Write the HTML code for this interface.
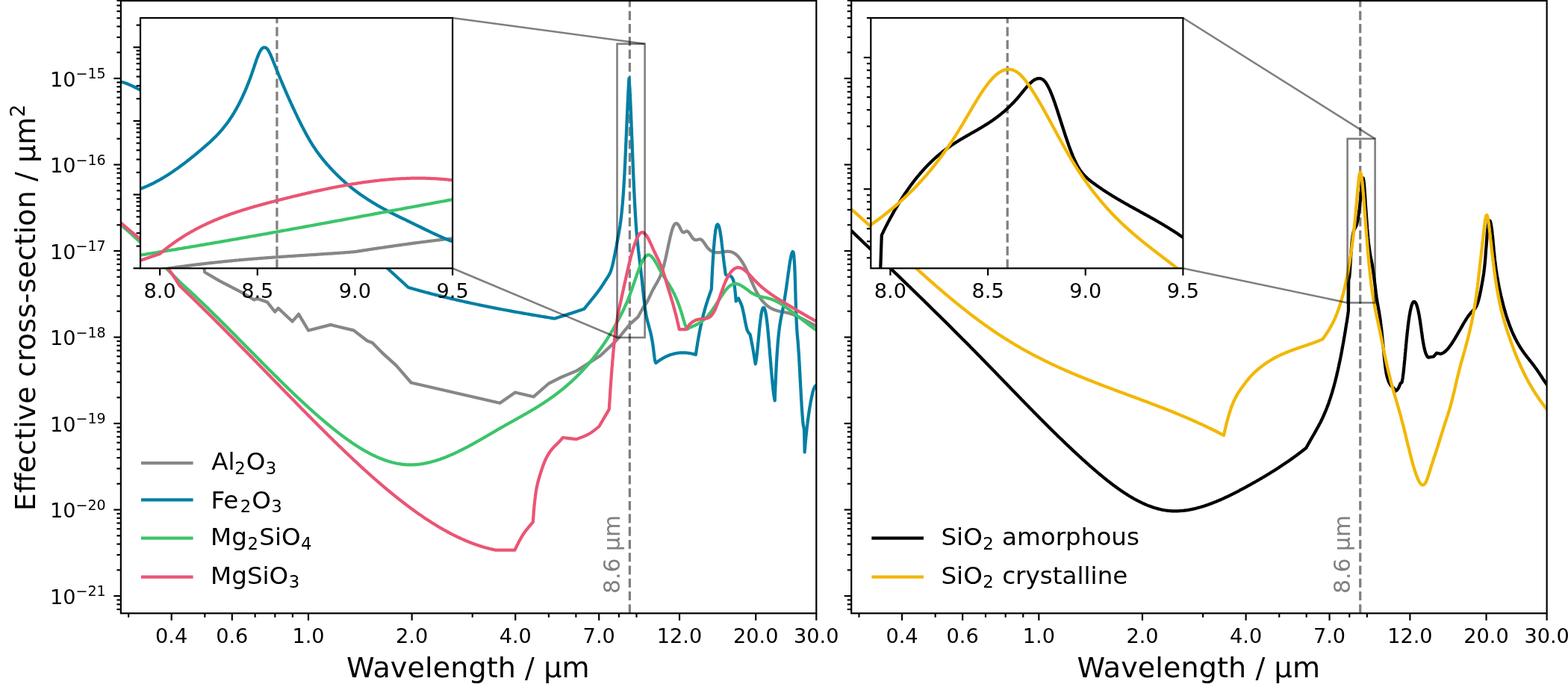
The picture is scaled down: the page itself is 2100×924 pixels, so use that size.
<!DOCTYPE html><html><head><meta charset="utf-8"><style>html,body{margin:0;padding:0;background:#fff;}svg text{font-kerning:normal}</style></head><body><svg width="2100" height="924" viewBox="0 0 2100 924" style="display:block">
<defs>
<clipPath id="cl"><rect x="161.85" y="1.0" width="931.4499999999999" height="820.3"/></clipPath>
<clipPath id="cr"><rect x="1140.2" y="1.0" width="931.45" height="820.3"/></clipPath>
<clipPath id="cli"><rect x="188.0" y="24.0" width="418.1" height="335.3"/></clipPath>
<clipPath id="cri"><rect x="1166.3" y="24.0" width="418.10000000000014" height="335.3"/></clipPath>
</defs>
<rect x="0" y="0" width="2100" height="924" fill="#fff"/>
<line x1="843.38" y1="821.3" x2="843.38" y2="1.0" stroke="#808080" stroke-width="3.26" stroke-dasharray="12.07 5.2" clip-path="url(#cl)"/>
<text transform="translate(830.10,795.0) rotate(-90)" font-family="'DejaVu Sans','Liberation Sans',sans-serif" font-size="29.89" fill="#808080">8.6 µm</text>
<g clip-path="url(#cl)">
<path d="M250.00,330.00 L273.20,358.00 L273.20,358.00 L274.20,364.50 L274.20,364.50 L293.50,375.80 L293.50,375.80 L323.40,391.40 L323.40,391.40 L340.30,401.50 L340.30,401.50 L344.20,399.80 L344.20,399.80 L357.80,404.40 L357.80,404.40 L368.20,417.50 L368.20,417.50 L372.70,412.80 L372.70,412.80 L391.60,430.50 L391.60,430.50 L400.00,420.60 L400.00,420.60 L413.00,442.50 L413.00,442.50 L442.90,434.90 L442.90,434.90 L450.10,436.70 L450.10,436.70 L473.60,442.40 L473.60,442.40 L492.00,456.50 L492.00,456.50 L498.70,459.00 L498.70,459.00 L512.10,472.60 L512.10,472.60 L530.60,489.40 L530.60,489.40 L550.70,512.50 L550.70,512.50 L669.50,539.80 L669.50,539.80 L690.00,525.50 L690.00,525.50 L714.50,531.30 L714.50,531.30 L735.00,513.50 L735.00,513.50 L752.00,505.00 L752.00,505.00 L772.20,496.60 L772.20,496.60 L804.10,476.30 L804.10,476.30 L823.10,458.40 L823.10,458.40 L829.30,451.50 L829.30,451.50 L843.90,433.80 L843.90,433.80 L854.30,424.70 L854.30,424.70 L862.10,410.40 L862.1,410.4 L862.9,409.6 L863.7,408.8 L864.4,407.9 L865.0,407.0 L865.6,406.0 L866.1,405.1 L866.7,404.1 L867.2,403.1 L867.7,402.1 L868.2,401.1 L868.7,400.1 L869.2,399.1 L869.7,398.0 L870.2,397.0 L870.6,396.0 L871.1,395.0 L871.6,393.9 L872.1,392.9 L872.5,391.9 L873.0,390.9 L873.5,389.9 L874.0,388.9 L874.5,387.9 L875.0,386.9 L875.6,386.0 L876.1,385.0 L876.6,384.1 L877.2,383.1 L877.7,382.2 L878.3,381.2 L878.8,380.3 L879.4,379.3 L879.9,378.4 L880.5,377.4 L881.0,376.4 L881.5,375.4 L882.0,374.4 L882.6,373.4 L883.0,372.4 L883.5,371.4 L884.0,370.3 L884.5,369.3 L884.9,368.2 L885.3,367.1 L885.8,366.0 L886.2,364.9 L886.6,363.8 L887.0,362.6 L887.3,361.5 L887.7,360.3 L888.1,359.2 L888.4,358.0 L888.7,356.8 L889.1,355.6 L889.4,354.4 L889.7,353.2 L890.0,352.0 L890.3,350.8 L890.6,349.6 L890.9,348.4 L891.2,347.1 L891.5,345.9 L891.7,344.7 L892.0,343.4 L892.3,342.2 L892.6,341.0 L892.8,339.7 L893.1,338.5 L893.3,337.2 L893.6,336.0 L893.9,334.8 L894.1,333.5 L894.4,332.3 L894.6,331.0 L894.9,329.8 L895.2,328.6 L895.4,327.3 L895.7,326.1 L896.0,324.9 L896.2,323.6 L896.5,322.4 L896.8,321.2 L897.0,320.0 L897.3,318.8 L897.6,317.5 L897.9,316.3 L898.2,315.1 L898.5,314.0 L898.8,312.8 L899.1,311.6 L899.4,310.4 L899.7,309.3 L900.0,308.2 L900.4,307.0 L900.8,305.9 L901.1,304.9 L901.6,303.8 L902.0,302.8 L902.5,301.9 L903.0,301.0 L903.6,300.2 L904.3,299.6 L905.2,299.2 L906.4,299.2 L907.5,299.9 L908.3,300.8 L909.0,301.7 L909.5,302.7 L910.1,303.7 L910.6,304.7 L911.1,305.7 L911.6,306.7 L912.1,307.7 L912.6,308.6 L913.2,309.5 L913.8,310.3 L914.5,311.0 L915.4,311.3 L916.8,310.8 L917.8,310.3 L918.7,309.8 L919.8,309.5 L921.2,310.1 L922.1,310.9 L922.8,311.7 L923.5,312.6 L924.1,313.5 L924.7,314.4 L925.3,315.4 L925.9,316.3 L926.5,317.2 L927.1,318.0 L927.7,318.9 L928.4,319.6 L929.1,320.3 L929.9,320.9 L930.9,321.2 L932.1,321.3 L933.6,321.1 L934.8,320.8 L936.0,320.5 L937.3,320.4 L938.7,320.7 L939.8,321.3 L940.6,322.1 L941.4,323.0 L942.1,323.8 L942.7,324.7 L943.3,325.6 L943.9,326.5 L944.5,327.4 L945.1,328.3 L945.7,329.2 L946.3,330.1 L947.0,330.9 L947.6,331.7 L948.3,332.5 L949.0,333.2 L949.8,334.0 L950.6,334.6 L951.4,335.3 L952.3,335.8 L953.2,336.4 L954.2,336.9 L955.2,337.3 L956.3,337.6 L957.5,337.9 L958.7,338.1 L960.1,338.2 L961.5,338.2 L963.0,338.1 L964.4,338.0 L965.7,337.8 L967.0,337.6 L968.3,337.4 L969.6,337.2 L970.9,337.0 L972.3,336.8 L973.6,336.7 L975.1,336.7 L976.5,336.8 L977.9,337.0 L979.2,337.3 L980.4,337.6 L981.5,338.1 L982.5,338.6 L983.5,339.2 L984.4,339.8 L985.3,340.4 L986.1,341.1 L986.9,341.8 L987.7,342.6 L988.5,343.4 L989.2,344.2 L989.9,345.0 L990.6,345.8 L991.2,346.7 L991.9,347.6 L992.5,348.4 L993.1,349.4 L993.7,350.3 L994.3,351.2 L994.9,352.1 L995.4,353.1 L996.0,354.1 L996.5,355.0 L997.1,356.0 L997.6,357.0 L998.1,358.0 L998.6,359.0 L999.1,360.0 L999.6,361.0 L1000.1,362.1 L1000.6,363.1 L1001.0,364.1 L1001.5,365.2 L1002.0,366.2 L1002.4,367.2 L1002.9,368.3 L1003.3,369.3 L1003.8,370.4 L1004.3,371.4 L1004.7,372.5 L1005.2,373.5 L1005.6,374.6 L1006.1,375.6 L1006.5,376.6 L1007.0,377.7 L1007.4,378.7 L1007.9,379.8 L1008.4,380.8 L1008.8,381.8 L1009.3,382.9 L1009.8,383.9 L1010.2,384.9 L1010.7,385.9 L1011.2,386.9 L1011.7,387.9 L1012.2,388.9 L1012.7,389.9 L1013.2,390.9 L1013.7,391.8 L1014.3,392.8 L1014.8,393.7 L1015.4,394.7 L1015.9,395.6 L1016.5,396.5 L1017.1,397.4 L1017.7,398.3 L1018.3,399.2 L1018.9,400.1 L1019.5,400.9 L1020.1,401.8 L1020.8,402.6 L1021.5,403.4 L1022.2,404.2 L1022.9,405.0 L1023.6,405.7 L1024.3,406.5 L1025.1,407.2 L1025.8,407.9 L1026.6,408.6 L1027.4,409.3 L1028.3,410.0 L1029.1,410.6 L1030.0,411.2 L1030.9,411.8 L1031.8,412.3 L1032.8,412.9 L1033.7,413.4 L1034.7,413.8 L1035.8,414.3 L1036.8,414.7 L1037.9,415.1 L1039.0,415.5 L1040.1,415.8 L1041.3,416.2 L1042.5,416.5 L1043.7,416.8 L1044.9,417.0 L1046.1,417.3 L1047.4,417.5 L1048.6,417.8 L1049.9,418.0 L1051.2,418.2 L1052.4,418.5 L1053.7,418.7 L1054.9,419.0 L1056.1,419.3 L1057.3,419.6 L1058.5,419.9 L1059.7,420.3 L1060.8,420.7 L1061.9,421.1 L1063.0,421.5 L1064.1,421.9 L1065.2,422.4 L1066.2,422.8 L1067.3,423.3 L1068.3,423.8 L1069.3,424.3 L1070.3,424.8 L1071.3,425.3 L1072.3,425.8 L1073.3,426.3 L1074.3,426.8 L1075.3,427.3 L1076.3,427.8 L1077.3,428.4 L1078.2,428.9 L1079.2,429.4 L1080.2,429.9 L1081.2,430.4 L1082.1,431.0 L1083.1,431.5 L1084.1,432.0 L1085.1,432.5 L1086.1,433.0 L1087.0,433.5 L1088.0,434.0 L1089.0,434.5 L1090.1,435.0 L1091.1,435.5 L1092.1,436.0 L1093.1,436.4 L1094.2,436.9 L1095.2,437.3 L1096.3,437.7 L1097.4,438.1 L1098.5,438.5 L1099.6,438.9 L1100.0,439.0" fill="none" stroke="#878787" stroke-width="4.25" stroke-linejoin="round" stroke-linecap="square"/>
<path d="M158.0,108.5 L159.2,108.8 L160.5,109.1 L161.7,109.4 L162.9,109.7 L164.0,110.0 L165.2,110.4 L166.3,110.7 L167.5,111.1 L168.6,111.5 L169.7,111.9 L170.8,112.3 L171.8,112.8 L172.9,113.2 L174.0,113.7 L175.0,114.1 L176.1,114.6 L177.1,115.1 L178.1,115.5 L179.1,116.0 L180.1,116.5 L181.1,117.0 L182.1,117.5 L183.1,118.1 L184.1,118.6 L185.1,119.1 L186.0,119.7 L187.0,120.2 L188.0,120.7 L188.9,121.3 L189.9,121.8 L190.8,122.4 L191.7,123.0 L192.7,123.5 L193.6,124.1 L194.5,124.7 L195.5,125.3 L196.4,125.9 L197.3,126.4 L198.2,127.0 L199.1,127.6 L200.0,128.2 L200.9,128.8 L201.8,129.4 L202.7,130.0 L203.6,130.6 L204.5,131.2 L205.4,131.8 L206.3,132.5 L207.2,133.1 L208.1,133.7 L209.0,134.3 L209.8,134.9 L210.7,135.5 L211.6,136.2 L212.5,136.8 L213.4,137.4 L214.2,138.0 L215.1,138.7 L216.0,139.3 L216.9,139.9 L217.7,140.5 L218.6,141.2 L219.5,141.8 L220.4,142.4 L221.2,143.0 L222.1,143.7 L223.0,144.3 L223.8,144.9 L224.7,145.6 L225.6,146.2 L226.5,146.8 L227.3,147.4 L228.2,148.1 L229.1,148.7 L229.9,149.3 L230.8,149.9 L231.7,150.6 L232.6,151.2 L233.5,151.8 L234.3,152.4 L235.2,153.1 L236.1,153.7 L237.0,154.3 L237.9,154.9 L238.7,155.5 L239.6,156.1 L240.5,156.8 L241.4,157.4 L242.3,158.0 L243.2,158.6 L244.0,159.2 L244.9,159.8 L245.8,160.4 L246.7,161.0 L247.6,161.6 L248.5,162.3 L249.4,162.9 L250.3,163.5 L251.2,164.1 L252.1,164.7 L253.0,165.3 L253.9,165.9 L254.8,166.5 L255.6,167.1 L256.5,167.7 L257.4,168.3 L258.3,168.9 L259.2,169.5 L260.1,170.1 L261.0,170.7 L261.9,171.3 L262.8,171.9 L263.7,172.5 L264.6,173.1 L265.6,173.7 L266.5,174.3 L267.4,174.9 L268.3,175.5 L269.2,176.1 L270.1,176.7 L271.0,177.3 L271.9,177.8 L272.8,178.4 L273.7,179.0 L274.6,179.6 L275.5,180.2 L276.4,180.8 L277.3,181.4 L278.3,182.0 L279.2,182.6 L280.1,183.2 L281.0,183.7 L281.9,184.3 L282.8,184.9 L283.7,185.5 L284.6,186.1 L285.6,186.7 L286.5,187.3 L287.4,187.8 L288.3,188.4 L289.2,189.0 L290.1,189.6 L291.1,190.2 L292.0,190.8 L292.9,191.3 L293.8,191.9 L294.7,192.5 L295.6,193.1 L296.6,193.7 L297.5,194.3 L298.4,194.8 L299.3,195.4 L300.2,196.0 L301.2,196.6 L302.1,197.2 L303.0,197.7 L303.9,198.3 L304.8,198.9 L305.8,199.5 L306.7,200.1 L307.6,200.6 L308.5,201.2 L309.4,201.8 L310.4,202.4 L311.3,202.9 L312.2,203.5 L313.1,204.1 L314.0,204.7 L315.0,205.3 L315.9,205.8 L316.8,206.4 L317.7,207.0 L318.7,207.6 L319.6,208.1 L320.5,208.7 L321.4,209.3 L322.3,209.9 L323.3,210.5 L324.2,211.0 L325.1,211.6 L326.0,212.2 L327.0,212.8 L327.9,213.3 L328.8,213.9 L329.7,214.5 L330.7,215.1 L331.6,215.7 L332.5,216.2 L333.4,216.8 L334.3,217.4 L335.3,218.0 L336.2,218.5 L337.1,219.1 L338.0,219.7 L338.9,220.3 L339.9,220.9 L340.8,221.4 L341.7,222.0 L342.6,222.6 L343.5,223.2 L344.5,223.8 L345.4,224.3 L346.3,224.9 L347.2,225.5 L348.1,226.1 L349.1,226.7 L350.0,227.2 L350.9,227.8 L351.8,228.4 L352.7,229.0 L353.7,229.6 L354.6,230.2 L355.5,230.7 L356.4,231.3 L357.3,231.9 L358.2,232.5 L359.1,233.1 L360.1,233.7 L361.0,234.3 L361.9,234.8 L362.8,235.4 L363.7,236.0 L364.6,236.6 L365.5,237.2 L366.5,237.8 L367.4,238.4 L368.3,239.0 L369.2,239.6 L370.1,240.1 L371.0,240.7 L371.9,241.3 L372.8,241.9 L373.7,242.5 L374.6,243.1 L375.5,243.7 L376.4,244.3 L377.4,244.9 L378.3,245.5 L379.2,246.1 L380.1,246.7 L381.0,247.3 L381.9,247.9 L382.8,248.5 L383.7,249.1 L384.6,249.7 L385.5,250.3 L386.4,250.9 L387.3,251.5 L388.2,252.1 L389.1,252.7 L390.0,253.3 L390.9,253.9 L391.8,254.5 L392.7,255.1 L393.6,255.7 L394.4,256.3 L395.3,256.9 L396.2,257.5 L397.1,258.1 L398.0,258.7 L398.9,259.3 L399.8,260.0 L400.7,260.6 L401.6,261.2 L402.5,261.8 L403.3,262.4 L404.2,263.0 L405.1,263.6 L406.0,264.3 L406.9,264.9 L407.8,265.5 L408.7,266.1 L409.5,266.7 L410.4,267.3 L411.3,268.0 L412.2,268.6 L413.0,269.2 L413.9,269.8 L414.8,270.5 L415.7,271.1 L416.6,271.7 L417.4,272.3 L418.3,273.0 L419.2,273.6 L420.0,274.2 L420.9,274.9 L421.8,275.5 L422.6,276.1 L423.5,276.8 L424.4,277.4 L425.2,278.0 L426.1,278.7 L427.0,279.3 L427.8,279.9 L428.7,280.6 L429.6,281.2 L430.4,281.9 L431.3,282.5 L432.1,283.1 L433.0,283.8 L433.9,284.4 L434.7,285.1 L435.6,285.7 L436.4,286.4 L437.3,287.0 L438.1,287.7 L439.0,288.3 L439.8,289.0 L440.7,289.6 L441.5,290.3 L442.4,290.9 L443.2,291.6 L444.0,292.2 L444.9,292.9 L445.7,293.6 L446.6,294.2 L447.4,294.9 L448.3,295.5 L449.1,296.2 L449.9,296.9 L450.8,297.5 L451.6,298.2 L452.4,298.9 L453.3,299.5 L454.1,300.2 L454.9,300.9 L455.8,301.5 L456.6,302.2 L457.4,302.9 L458.3,303.6 L459.1,304.2 L459.9,304.9 L460.7,305.6 L461.5,306.3 L462.4,306.9 L463.2,307.6 L464.0,308.3 L464.8,309.0 L465.6,309.7 L466.5,310.4 L467.3,311.0 L468.1,311.7 L468.9,312.4 L469.7,313.1 L470.5,313.8 L471.3,314.5 L472.1,315.2 L473.0,315.9 L473.8,316.6 L474.6,317.3 L475.4,318.0 L476.2,318.7 L477.0,319.4 L477.8,320.1 L478.6,320.8 L479.4,321.5 L480.2,322.2 L481.0,322.9 L481.8,323.6 L482.6,324.3 L483.4,325.0 L484.2,325.7 L484.9,326.4 L485.7,327.1 L486.5,327.8 L487.3,328.5 L488.1,329.2 L488.9,330.0 L489.7,330.7 L490.5,331.4 L491.2,332.1 L492.0,332.8 L492.8,333.6 L493.6,334.3 L494.4,335.0 L495.1,335.7 L495.9,336.4 L496.7,337.2 L497.5,337.9 L498.2,338.6 L499.0,339.4 L499.8,340.1 L500.5,340.8 L501.3,341.6 L502.1,342.3 L502.8,343.0 L503.6,343.8 L504.4,344.5 L505.1,345.2 L505.9,346.0 L506.7,346.7 L507.4,347.5 L508.2,348.2 L508.9,348.9 L509.7,349.7 L510.0,350.0 L510.00,350.00 L518.00,358.50 L518.00,358.50 L547.00,385.00 L547.0,385.0 L548.2,385.3 L549.3,385.7 L550.5,386.0 L551.7,386.3 L552.8,386.7 L554.0,387.0 L555.2,387.3 L556.3,387.6 L557.5,388.0 L558.7,388.3 L559.9,388.6 L561.0,388.9 L562.2,389.3 L563.4,389.6 L564.6,389.9 L565.8,390.2 L566.9,390.5 L568.1,390.9 L569.3,391.2 L570.5,391.5 L571.7,391.8 L572.9,392.1 L574.1,392.4 L575.2,392.7 L576.4,393.1 L577.6,393.4 L578.8,393.7 L580.0,394.0 L581.2,394.3 L582.4,394.6 L583.6,394.9 L584.8,395.2 L586.0,395.5 L587.2,395.8 L588.4,396.1 L589.6,396.4 L590.8,396.7 L592.0,397.0 L593.2,397.3 L594.4,397.6 L595.6,397.9 L596.8,398.2 L598.0,398.4 L599.2,398.7 L600.4,399.0 L601.7,399.3 L602.9,399.6 L604.1,399.9 L605.3,400.2 L606.5,400.5 L607.7,400.7 L608.9,401.0 L610.2,401.3 L611.4,401.6 L612.6,401.9 L613.8,402.1 L615.0,402.4 L616.3,402.7 L617.5,403.0 L618.7,403.3 L619.9,403.5 L621.2,403.8 L622.4,404.1 L623.6,404.3 L624.8,404.6 L626.1,404.9 L627.3,405.2 L628.5,405.4 L629.8,405.7 L631.0,406.0 L632.2,406.2 L633.5,406.5 L634.7,406.8 L635.9,407.0 L637.2,407.3 L638.4,407.5 L639.7,407.8 L640.9,408.1 L642.1,408.3 L643.4,408.6 L644.6,408.8 L645.9,409.1 L647.1,409.3 L648.4,409.6 L649.6,409.8 L650.8,410.1 L652.1,410.4 L653.3,410.6 L654.6,410.9 L655.8,411.1 L657.1,411.4 L658.3,411.6 L659.6,411.8 L660.9,412.1 L662.1,412.3 L663.4,412.6 L664.6,412.8 L665.9,413.1 L667.1,413.3 L668.4,413.6 L669.6,413.8 L670.9,414.0 L672.2,414.3 L673.4,414.5 L674.7,414.8 L675.9,415.0 L677.2,415.2 L678.5,415.5 L679.7,415.7 L681.0,415.9 L682.3,416.2 L683.5,416.4 L684.8,416.6 L686.1,416.9 L687.3,417.1 L688.6,417.3 L689.9,417.6 L691.1,417.8 L692.4,418.0 L693.7,418.2 L695.0,418.5 L696.2,418.7 L697.5,418.9 L698.8,419.2 L700.1,419.4 L701.3,419.6 L702.6,419.8 L703.9,420.0 L705.2,420.3 L706.4,420.5 L707.7,420.7 L709.0,420.9 L710.3,421.2 L711.6,421.4 L712.8,421.6 L714.1,421.8 L715.4,422.0 L716.7,422.2 L718.0,422.5 L719.2,422.7 L720.5,422.9 L721.8,423.1 L723.1,423.3 L724.4,423.5 L725.7,423.8 L727.0,424.0 L728.2,424.2 L729.5,424.4 L730.8,424.6 L732.1,424.8 L733.4,425.0 L734.7,425.2 L736.0,425.5 L737.3,425.7 L738.5,425.9 L739.8,426.1 L741.1,426.3 L742.4,426.5 L743.0,426.6 L743.00,426.60 L782.30,413.80 L782.3,413.8 L782.9,413.0 L783.6,412.1 L784.3,411.3 L784.9,410.4 L785.6,409.6 L786.3,408.8 L786.9,407.9 L787.6,407.1 L788.3,406.3 L788.9,405.5 L789.6,404.6 L790.3,403.8 L791.0,403.0 L791.6,402.2 L792.3,401.3 L793.0,400.5 L793.7,399.7 L794.3,398.9 L795.0,398.0 L795.7,397.2 L796.4,396.4 L797.0,395.5 L797.7,394.7 L798.3,393.8 L799.0,393.0 L799.6,392.1 L800.3,391.3 L800.9,390.4 L801.6,389.6 L802.2,388.7 L802.8,387.8 L803.5,386.9 L804.1,386.0 L804.7,385.2 L805.3,384.3 L805.9,383.4 L806.5,382.5 L807.1,381.5 L807.7,380.6 L808.3,379.7 L808.9,378.8 L809.5,377.9 L810.0,377.0 L810.6,376.0 L811.2,375.1 L811.8,374.2 L812.4,373.3 L813.0,372.4 L813.5,371.5 L814.1,370.6 L814.7,369.6 L815.3,368.7 L815.9,367.7 L816.4,366.7 L816.9,365.7 L817.4,364.6 L817.8,363.5 L818.2,362.4 L818.6,361.2 L819.0,360.0 L819.3,358.8 L819.7,357.6 L820.0,356.4 L820.3,355.2 L820.6,354.0 L820.9,352.7 L821.2,351.5 L821.4,350.3 L821.7,349.0 L822.0,347.8 L822.2,346.5 L822.5,345.3 L822.7,344.0 L823.0,342.8 L823.2,341.5 L823.5,340.2 L823.7,339.0 L824.0,337.7 L824.2,336.5 L824.5,335.2 L824.7,333.9 L824.9,332.7 L825.2,331.4 L825.4,330.2 L825.7,328.9 L825.9,327.7 L826.1,326.4 L826.4,325.1 L826.6,323.9 L826.9,322.6 L827.1,321.4 L827.3,320.1 L827.6,318.8 L827.8,317.6 L828.1,316.3 L828.3,315.0 L828.5,313.7 L828.7,312.5 L829.0,311.2 L829.2,309.9 L829.4,308.6 L829.6,307.3 L829.8,306.0 L830.1,304.7 L830.3,303.4 L830.5,302.0 L830.6,300.7 L830.8,299.4 L831.0,298.1 L831.2,296.7 L831.4,295.4 L831.5,294.0 L831.7,292.7 L831.9,291.3 L832.0,290.0 L832.2,288.6 L832.3,287.2 L832.5,285.9 L832.6,284.5 L832.8,283.1 L832.9,281.7 L833.1,280.4 L833.2,279.0 L833.3,277.6 L833.4,276.2 L833.6,274.8 L833.7,273.4 L833.8,272.0 L833.9,270.6 L834.0,269.2 L834.2,267.8 L834.3,266.4 L834.4,265.0 L834.5,263.6 L834.6,262.2 L834.7,260.8 L834.8,259.4 L834.9,258.0 L835.0,256.6 L835.1,255.1 L835.2,253.7 L835.3,252.3 L835.4,250.9 L835.5,249.5 L835.5,248.0 L835.6,246.6 L835.7,245.2 L835.8,243.8 L835.9,242.3 L836.0,240.9 L836.1,239.5 L836.1,238.0 L836.2,236.6 L836.3,235.1 L836.4,233.6 L836.5,232.1 L836.5,230.6 L836.6,229.1 L836.7,227.5 L836.8,225.9 L836.9,224.3 L836.9,222.6 L837.0,221.0 L837.1,219.3 L837.2,217.6 L837.3,215.9 L837.3,214.2 L837.4,212.5 L837.5,210.7 L837.6,208.9 L837.7,207.2 L837.7,205.4 L837.8,203.6 L837.9,201.8 L838.0,200.0 L838.1,198.1 L838.1,196.3 L838.2,194.4 L838.3,192.6 L838.4,190.7 L838.5,188.9 L838.5,187.0 L838.6,185.1 L838.7,183.3 L838.8,181.4 L838.9,179.5 L838.9,177.6 L839.0,175.8 L839.1,173.9 L839.2,172.0 L839.3,170.1 L839.3,168.3 L839.4,166.4 L839.5,164.5 L839.6,162.7 L839.7,160.8 L839.7,159.0 L839.8,157.1 L839.9,155.3 L840.0,153.5 L840.1,151.7 L840.1,149.9 L840.2,148.1 L840.3,146.3 L840.4,144.6 L840.5,142.8 L840.5,141.1 L840.6,139.4 L840.7,137.7 L840.8,136.0 L840.9,134.3 L840.9,132.6 L841.0,131.0 L841.1,129.4 L841.2,127.8 L841.3,126.2 L841.3,124.7 L841.4,123.2 L841.5,121.7 L841.6,120.2 L841.7,118.7 L841.7,117.3 L841.8,115.9 L841.9,114.5 L842.0,113.1 L842.1,111.7 L842.1,110.3 L842.2,108.9 L842.3,107.5 L842.4,106.1 L842.5,105.0 L842.5,105.0 L842.6,106.4 L842.7,107.9 L842.8,109.3 L842.9,110.7 L843.0,112.2 L843.1,113.6 L843.2,115.0 L843.3,116.5 L843.4,117.9 L843.5,119.4 L843.6,120.8 L843.6,122.3 L843.7,123.8 L843.8,125.4 L843.9,126.9 L844.0,128.6 L844.0,130.2 L844.1,131.9 L844.2,133.6 L844.3,135.3 L844.4,137.1 L844.4,138.8 L844.5,140.7 L844.6,142.5 L844.7,144.3 L844.8,146.2 L844.8,148.1 L844.9,150.0 L845.0,151.9 L845.1,153.9 L845.2,155.9 L845.2,157.8 L845.3,159.8 L845.4,161.8 L845.5,163.8 L845.6,165.9 L845.6,167.9 L845.7,170.0 L845.8,172.0 L845.9,174.1 L846.0,176.1 L846.0,178.2 L846.1,180.3 L846.2,182.3 L846.3,184.4 L846.4,186.5 L846.4,188.6 L846.5,190.6 L846.6,192.7 L846.7,194.8 L846.8,196.9 L846.8,198.9 L846.9,201.0 L847.0,203.0 L847.1,205.1 L847.2,207.1 L847.2,209.1 L847.3,211.1 L847.4,213.1 L847.5,215.1 L847.6,217.1 L847.6,219.1 L847.7,221.1 L847.8,223.0 L847.9,224.9 L848.0,226.9 L848.0,228.8 L848.1,230.7 L848.2,232.5 L848.3,234.4 L848.4,236.2 L848.4,238.1 L848.5,239.9 L848.6,241.7 L848.7,243.4 L848.8,245.2 L848.8,247.0 L848.9,248.7 L849.0,250.4 L849.1,252.1 L849.2,253.8 L849.2,255.5 L849.3,257.1 L849.4,258.8 L849.5,260.4 L849.6,262.0 L849.6,263.6 L849.7,265.2 L849.8,266.7 L849.9,268.3 L850.0,269.8 L850.0,271.3 L850.1,272.8 L850.2,274.3 L850.3,275.8 L850.4,277.3 L850.4,278.7 L850.5,280.1 L850.6,281.6 L850.7,283.0 L850.8,284.4 L850.8,285.8 L850.9,287.2 L851.0,288.6 L851.1,290.0 L851.2,291.4 L851.3,292.8 L851.4,294.2 L851.4,295.6 L851.5,297.0 L851.6,298.4 L851.7,299.8 L851.8,301.2 L851.9,302.6 L852.0,304.0 L852.1,305.3 L852.2,306.7 L852.3,308.1 L852.4,309.5 L852.6,310.8 L852.7,312.2 L852.8,313.6 L852.9,314.9 L853.0,316.3 L853.2,317.6 L853.3,319.0 L853.4,320.3 L853.6,321.7 L853.7,323.0 L853.8,324.4 L854.0,325.7 L854.1,327.1 L854.3,328.4 L854.4,329.8 L854.6,331.1 L854.7,332.5 L854.9,333.8 L855.0,335.2 L855.2,336.5 L855.3,337.8 L855.5,339.2 L855.6,340.5 L855.8,341.9 L856.0,343.2 L856.1,344.5 L856.3,345.9 L856.4,347.2 L856.6,348.5 L856.8,349.9 L856.9,351.2 L857.1,352.5 L857.2,353.9 L857.4,355.2 L857.6,356.6 L857.7,357.9 L857.9,359.2 L858.1,360.6 L858.2,361.9 L858.4,363.3 L858.5,364.6 L858.7,366.0 L858.8,367.3 L859.0,368.7 L859.2,370.0 L859.3,371.4 L859.5,372.7 L859.6,374.1 L859.8,375.4 L859.9,376.8 L860.1,378.2 L860.2,379.5 L860.3,380.9 L860.5,382.3 L860.6,383.6 L860.8,385.0 L860.9,386.3 L861.0,387.7 L861.2,389.1 L861.3,390.4 L861.5,391.8 L861.6,393.1 L861.7,394.5 L861.9,395.8 L862.0,397.2 L862.2,398.5 L862.3,399.9 L862.5,401.2 L862.6,402.6 L862.8,403.9 L862.9,405.2 L863.1,406.5 L863.3,407.8 L863.4,409.2 L863.6,410.5 L863.8,411.8 L864.0,413.1 L864.2,414.3 L864.3,415.6 L864.6,416.9 L864.8,418.2 L865.0,419.4 L865.2,420.7 L865.4,421.9 L865.7,423.1 L865.9,424.4 L866.2,425.6 L866.4,426.8 L866.7,428.0 L867.0,429.2 L867.3,430.4 L867.6,431.6 L867.9,432.7 L868.2,433.9 L868.5,435.1 L868.9,436.2 L869.2,437.4 L869.5,438.6 L869.8,439.8 L870.2,441.0 L870.5,442.2 L870.8,443.4 L871.1,444.6 L871.4,445.8 L871.7,447.0 L872.0,448.3 L872.2,449.5 L872.5,450.8 L872.7,452.1 L873.0,453.4 L873.2,454.7 L873.4,456.0 L873.7,457.3 L873.9,458.6 L874.1,459.9 L874.3,461.2 L874.5,462.6 L874.6,463.9 L874.8,465.3 L875.0,466.6 L875.2,467.9 L875.3,469.3 L875.5,470.6 L875.7,471.9 L875.8,473.3 L876.0,474.6 L876.2,475.9 L876.4,477.2 L876.5,478.5 L876.7,479.8 L876.9,481.0 L877.1,482.2 L877.4,483.4 L877.6,484.5 L878.0,485.5 L878.4,486.1 L878.6,486.0 L878.6,486.0 L879.4,485.3 L880.3,484.7 L881.1,484.1 L882.0,483.4 L882.9,482.8 L883.8,482.2 L884.7,481.6 L885.6,481.1 L886.5,480.5 L887.5,479.9 L888.4,479.4 L889.4,478.9 L890.3,478.4 L891.3,477.9 L892.3,477.4 L893.4,476.9 L894.4,476.5 L895.5,476.0 L896.5,475.6 L897.6,475.2 L898.7,474.8 L899.9,474.5 L901.0,474.2 L902.2,473.8 L903.4,473.6 L904.6,473.3 L905.8,473.0 L907.1,472.8 L908.4,472.7 L909.7,472.5 L911.1,472.4 L912.5,472.3 L914.0,472.3 L915.4,472.3 L916.9,472.3 L918.3,472.4 L919.7,472.5 L921.1,472.7 L922.5,472.8 L923.8,473.0 L925.0,473.3 L926.3,473.5 L927.5,473.8 L928.7,474.1 L929.9,474.4 L931.1,474.8 L931.8,475.0 L931.8,475.0 L932.0,473.7 L932.2,472.4 L932.4,471.1 L932.6,469.8 L932.8,468.5 L933.0,467.2 L933.2,465.9 L933.4,464.6 L933.6,463.3 L933.8,462.1 L934.0,460.8 L934.2,459.5 L934.4,458.2 L934.6,456.9 L934.9,455.7 L935.1,454.4 L935.3,453.1 L935.5,451.9 L935.8,450.6 L936.0,449.3 L936.2,448.1 L936.5,446.8 L936.7,445.6 L936.9,444.3 L937.2,443.1 L937.4,441.8 L937.7,440.6 L937.9,439.4 L938.2,438.1 L938.4,436.9 L938.7,435.7 L939.0,434.4 L939.2,433.2 L939.5,432.0 L939.8,430.8 L940.1,429.6 L940.3,428.4 L940.6,427.2 L940.9,425.9 L941.2,424.8 L941.5,423.6 L941.8,422.4 L942.1,421.2 L942.4,420.0 L942.7,418.8 L943.1,417.6 L943.4,416.5 L943.7,415.3 L944.0,414.1 L944.4,413.0 L944.7,411.8 L945.0,410.7 L945.4,409.5 L945.7,408.4 L946.1,407.2 L946.4,406.1 L946.8,405.0 L947.2,403.8 L947.5,402.7 L947.9,401.6 L948.3,400.5 L948.6,399.4 L949.0,398.2 L949.4,397.1 L949.8,396.0 L950.2,394.9 L950.6,393.8 L950.9,392.7 L951.3,391.6 L951.7,390.5 L952.1,389.4 L952.5,388.3 L952.8,387.5 L952.8,387.5 L952.9,385.8 L953.0,384.0 L953.0,382.3 L953.1,380.6 L953.2,379.0 L953.3,377.3 L953.4,375.7 L953.4,374.1 L953.5,372.5 L953.6,370.9 L953.7,369.3 L953.8,367.7 L953.8,366.2 L953.9,364.7 L954.0,363.2 L954.1,361.7 L954.2,360.2 L954.2,358.8 L954.3,357.4 L954.4,356.0 L954.5,354.5 L954.6,353.1 L954.6,351.7 L954.7,350.3 L954.8,348.9 L954.9,347.5 L955.0,346.1 L955.1,344.7 L955.2,343.3 L955.3,341.9 L955.4,340.5 L955.4,339.1 L955.5,337.7 L955.6,336.3 L955.7,335.0 L955.8,333.6 L955.9,332.2 L956.0,330.8 L956.2,329.4 L956.3,328.1 L956.4,326.7 L956.5,325.3 L956.6,324.0 L956.7,322.6 L956.9,321.3 L957.0,319.9 L957.1,318.6 L957.3,317.2 L957.4,315.9 L957.5,314.6 L957.7,313.3 L957.9,312.0 L958.0,310.7 L958.2,309.4 L958.4,308.2 L958.6,306.9 L958.9,305.7 L959.1,304.6 L959.4,303.4 L959.7,302.4 L960.1,301.4 L960.6,300.7 L961.3,300.4 L962.4,301.9 L962.9,303.1 L963.2,304.3 L963.6,305.6 L963.9,306.9 L964.1,308.2 L964.4,309.5 L964.6,310.8 L964.8,312.1 L965.0,313.4 L965.2,314.8 L965.4,316.1 L965.6,317.4 L965.8,318.8 L966.0,320.1 L966.1,321.4 L966.3,322.8 L966.5,324.1 L966.6,325.5 L966.8,326.8 L967.0,328.2 L967.1,329.5 L967.3,330.9 L967.4,332.2 L967.6,333.6 L967.7,334.9 L967.9,336.3 L968.0,337.6 L968.2,339.0 L968.4,340.3 L968.5,341.7 L968.7,343.0 L968.8,344.3 L969.0,345.7 L969.1,347.0 L969.3,348.4 L969.4,349.7 L969.6,351.0 L969.8,352.4 L969.9,353.7 L970.1,355.0 L970.3,356.3 L970.4,357.6 L970.6,359.0 L970.8,360.3 L971.0,361.6 L971.1,362.8 L971.3,364.1 L971.5,365.4 L971.8,366.7 L971.9,367.5 L971.9,367.5 L972.6,368.2 L973.4,368.7 L974.4,369.1 L975.7,369.2 L977.1,369.3 L978.4,369.7 L979.4,370.4 L980.2,371.3 L980.8,372.3 L981.4,373.3 L981.8,374.5 L982.2,375.7 L982.6,377.0 L982.9,378.3 L983.1,379.6 L983.4,380.9 L983.6,382.3 L983.8,383.6 L984.0,385.0 L984.2,386.4 L984.3,387.7 L984.5,389.1 L984.6,390.5 L984.8,391.9 L984.9,393.3 L985.0,394.7 L985.1,396.1 L985.3,397.5 L985.4,399.0 L985.5,400.4 L985.6,401.8 L985.7,403.2 L985.7,403.5 L985.70,403.50 L989.00,399.50 L989.00,399.50 C989.00,399.50 992.81,406.93 993.90,410.90 C996.71,421.13 997.78,431.98 1000.70,442.10 C1001.35,444.34 1004.60,448.00 1004.60,448.00 L1004.60,448.00 C1004.60,448.00 1006.98,459.31 1008.00,465.00 C1009.34,472.48 1011.70,487.50 1011.70,487.50 L1011.7,487.5 L1012.0,486.2 L1012.3,484.8 L1012.5,483.5 L1012.8,482.1 L1012.9,480.8 L1013.1,479.4 L1013.3,478.1 L1013.5,476.7 L1013.6,475.3 L1013.8,474.0 L1014.0,472.6 L1014.1,471.2 L1014.2,469.9 L1014.4,468.5 L1014.5,467.1 L1014.7,465.8 L1014.8,464.4 L1014.9,463.0 L1015.1,461.6 L1015.2,460.3 L1015.3,458.9 L1015.5,457.5 L1015.6,456.1 L1015.7,454.8 L1015.9,453.4 L1016.0,452.0 L1016.1,450.7 L1016.3,449.3 L1016.4,447.9 L1016.5,446.6 L1016.6,445.2 L1016.8,443.8 L1016.9,442.5 L1017.0,441.1 L1017.2,439.8 L1017.3,438.4 L1017.5,437.1 L1017.6,435.7 L1017.7,434.4 L1017.9,433.0 L1018.0,431.7 L1018.2,430.4 L1018.4,429.1 L1018.5,427.8 L1018.7,426.5 L1018.9,425.2 L1019.0,423.9 L1019.2,422.6 L1019.4,421.3 L1019.7,420.1 L1019.9,418.9 L1020.1,417.7 L1020.4,416.5 L1020.7,415.4 L1021.0,414.3 L1021.4,413.3 L1021.8,412.4 L1022.4,411.8 L1023.3,412.1 L1024.0,413.4 L1024.4,414.6 L1024.8,415.9 L1025.1,417.1 L1025.4,418.4 L1025.6,419.8 L1025.8,421.1 L1026.1,422.4 L1026.3,423.7 L1026.5,425.1 L1026.7,426.4 L1026.8,427.8 L1027.0,429.1 L1027.2,430.5 L1027.3,431.8 L1027.5,433.2 L1027.6,434.6 L1027.8,435.9 L1027.9,437.3 L1028.1,438.7 L1028.2,440.1 L1028.3,441.4 L1028.5,442.8 L1028.6,444.2 L1028.7,445.6 L1028.9,447.0 L1029.0,448.3 L1029.1,449.7 L1029.2,451.1 L1029.4,452.5 L1029.5,453.9 L1029.6,455.3 L1029.7,456.6 L1029.9,458.0 L1030.0,459.4 L1030.1,460.8 L1030.2,462.2 L1030.3,463.6 L1030.4,465.0 L1030.6,466.4 L1030.7,467.7 L1030.8,469.1 L1030.9,470.5 L1031.0,471.9 L1031.1,473.3 L1031.2,474.7 L1031.4,476.1 L1031.5,477.4 L1031.6,478.8 L1031.7,480.2 L1031.8,481.6 L1031.9,483.0 L1032.0,484.4 L1032.2,485.8 L1032.3,487.1 L1032.4,488.5 L1032.5,489.9 L1032.6,491.3 L1032.7,492.7 L1032.8,494.1 L1033.0,495.4 L1033.1,496.8 L1033.2,498.2 L1033.3,499.6 L1033.4,500.9 L1033.6,502.3 L1033.7,503.7 L1033.8,505.0 L1033.9,506.4 L1034.1,507.8 L1034.2,509.1 L1034.3,510.5 L1034.4,511.9 L1034.6,513.2 L1034.7,514.6 L1034.8,515.9 L1035.0,517.3 L1035.1,518.6 L1035.3,520.0 L1035.4,521.3 L1035.6,522.6 L1035.7,523.9 L1035.9,525.3 L1036.0,526.6 L1036.2,527.9 L1036.4,529.2 L1036.6,530.4 L1036.8,531.7 L1037.0,533.0 L1037.2,534.2 L1037.4,535.4 L1037.7,536.5 L1037.7,536.5 L1037.8,534.3 L1037.9,532.2 L1037.9,530.1 L1038.0,528.0 L1038.1,526.0 L1038.2,523.9 L1038.3,521.9 L1038.3,520.0 L1038.4,518.0 L1038.5,516.1 L1038.6,514.3 L1038.7,512.4 L1038.7,510.6 L1038.8,508.8 L1038.9,507.0 L1039.0,505.3 L1039.1,503.6 L1039.1,501.9 L1039.2,500.2 L1039.3,498.6 L1039.4,497.0 L1039.5,495.4 L1039.5,493.8 L1039.6,492.3 L1039.7,490.7 L1039.8,489.3 L1039.9,487.8 L1039.9,486.3 L1040.0,484.9 L1040.1,483.5 L1040.2,482.1 L1040.3,480.7 L1040.4,479.3 L1040.4,477.9 L1040.5,476.5 L1040.6,475.1 L1040.7,473.7 L1040.8,472.3 L1040.9,470.9 L1041.0,469.5 L1041.1,468.1 L1041.2,466.8 L1041.3,465.4 L1041.4,464.0 L1041.5,462.6 L1041.6,461.2 L1041.7,459.9 L1041.8,458.5 L1041.9,457.1 L1042.1,455.8 L1042.2,454.4 L1042.3,453.0 L1042.4,451.7 L1042.6,450.3 L1042.7,449.0 L1042.8,447.7 L1043.0,446.3 L1043.1,445.0 L1043.3,443.7 L1043.4,442.4 L1043.6,441.0 L1043.8,439.7 L1043.9,438.4 L1044.1,437.1 L1044.3,435.9 L1044.5,434.6 L1044.7,433.3 L1044.9,432.0 L1045.1,430.8 L1045.3,429.5 L1045.6,428.3 L1045.8,427.0 L1046.0,425.8 L1046.3,424.5 L1046.5,423.3 L1046.8,422.1 L1047.1,420.8 L1047.3,419.6 L1047.6,418.4 L1047.9,417.1 L1048.1,415.9 L1048.4,414.6 L1048.6,413.3 L1048.9,412.1 L1049.1,410.8 L1049.3,409.5 L1049.6,408.2 L1049.8,406.9 L1050.0,405.6 L1050.2,404.3 L1050.4,403.0 L1050.6,401.7 L1050.8,400.4 L1051.0,399.1 L1051.2,397.8 L1051.4,396.5 L1051.6,395.2 L1051.8,393.9 L1052.0,392.6 L1052.2,391.3 L1052.4,390.0 L1052.6,388.6 L1052.8,387.3 L1053.0,386.0 L1053.2,384.7 L1053.4,383.4 L1053.5,382.1 L1053.7,380.7 L1053.9,379.4 L1054.1,378.1 L1054.3,376.8 L1054.5,375.5 L1054.6,374.1 L1054.8,372.8 L1055.0,371.5 L1055.2,370.2 L1055.4,368.9 L1055.5,367.5 L1055.7,366.2 L1055.9,364.9 L1056.1,363.6 L1056.3,362.3 L1056.5,361.0 L1056.6,359.7 L1056.8,358.4 L1057.0,357.1 L1057.2,355.8 L1057.4,354.5 L1057.6,353.2 L1057.8,351.9 L1058.0,350.6 L1058.2,349.4 L1058.5,348.1 L1058.7,346.9 L1058.9,345.6 L1059.2,344.4 L1059.4,343.2 L1059.7,342.0 L1060.0,340.9 L1060.3,339.8 L1060.7,338.8 L1061.1,337.8 L1061.6,337.1 L1062.5,337.7 L1062.9,339.4 L1063.1,340.8 L1063.3,342.3 L1063.4,343.8 L1063.5,345.2 L1063.6,346.7 L1063.8,348.2 L1063.8,349.6 L1063.9,351.1 L1064.0,352.6 L1064.1,354.1 L1064.2,355.7 L1064.3,357.4 L1064.3,359.2 L1064.4,361.1 L1064.5,363.1 L1064.6,365.2 L1064.7,367.4 L1064.7,369.7 L1064.8,372.1 L1064.9,374.6 L1065.0,377.3 L1065.1,380.0 L1065.1,382.8 L1065.2,385.6 L1065.3,388.5 L1065.4,391.4 L1065.5,394.3 L1065.5,397.1 L1065.6,400.0 L1065.7,402.8 L1065.8,405.6 L1065.9,408.3 L1065.9,410.9 L1066.0,413.4 L1066.1,415.8 L1066.2,418.1 L1066.3,420.3 L1066.3,422.5 L1066.4,424.5 L1066.5,426.4 L1066.6,428.2 L1066.7,430.0 L1066.7,431.6 L1066.8,433.2 L1066.9,434.8 L1067.0,436.2 L1067.1,437.6 L1067.1,439.0 L1067.2,440.4 L1067.3,441.7 L1067.4,443.1 L1067.5,444.5 L1067.6,445.9 L1067.7,447.2 L1067.8,448.6 L1067.9,449.9 L1068.1,451.3 L1068.2,452.7 L1068.3,454.1 L1068.4,455.4 L1068.6,456.8 L1068.7,458.2 L1068.8,459.6 L1068.9,461.0 L1069.0,462.4 L1069.1,463.9 L1069.2,465.3 L1069.3,466.7 L1069.4,468.1 L1069.5,469.5 L1069.6,471.0 L1069.7,472.4 L1069.8,473.8 L1069.9,475.2 L1070.0,476.6 L1070.1,478.1 L1070.2,479.5 L1070.2,480.9 L1070.3,482.3 L1070.4,483.8 L1070.5,485.2 L1070.6,486.6 L1070.6,488.0 L1070.7,489.5 L1070.8,490.9 L1070.9,492.4 L1071.0,493.9 L1071.0,495.3 L1071.1,496.8 L1071.2,498.3 L1071.3,499.8 L1071.4,501.3 L1071.4,502.8 L1071.5,504.3 L1071.6,505.8 L1071.7,507.3 L1071.8,508.8 L1071.8,510.4 L1071.9,511.9 L1072.0,513.4 L1072.1,514.9 L1072.2,516.4 L1072.2,517.9 L1072.3,519.4 L1072.4,520.9 L1072.5,522.4 L1072.6,523.9 L1072.6,525.3 L1072.7,526.8 L1072.8,528.3 L1072.9,529.7 L1073.0,531.2 L1073.0,532.6 L1073.1,534.0 L1073.2,535.4 L1073.3,536.8 L1073.4,538.2 L1073.5,539.6 L1073.5,541.0 L1073.6,542.5 L1073.7,543.9 L1073.8,545.3 L1073.9,546.7 L1074.0,548.1 L1074.1,549.5 L1074.2,550.8 L1074.3,552.2 L1074.4,553.6 L1074.5,555.0 L1074.6,556.4 L1074.7,557.7 L1074.8,559.1 L1074.9,560.5 L1075.0,561.8 L1075.1,563.2 L1075.3,564.5 L1075.4,565.8 L1075.5,567.1 L1075.7,568.4 L1075.9,569.6 L1076.1,570.7 L1076.3,571.8 L1076.7,572.9 L1076.9,575.2 L1077.0,576.8 L1077.1,578.7 L1077.2,581.0 L1077.2,583.9 L1077.3,587.4 L1077.4,591.6 L1077.5,596.5 L1077.6,602.2 L1077.6,605.5 L1077.6,605.5 L1077.7,604.1 L1077.8,602.7 L1077.9,601.4 L1078.1,600.0 L1078.2,598.6 L1078.3,597.2 L1078.4,595.9 L1078.5,594.5 L1078.7,593.1 L1078.8,591.8 L1078.9,590.4 L1079.0,589.1 L1079.2,587.7 L1079.3,586.3 L1079.4,585.0 L1079.6,583.6 L1079.7,582.3 L1079.8,580.9 L1080.0,579.6 L1080.1,578.2 L1080.3,576.9 L1080.4,575.5 L1080.6,574.2 L1080.7,572.9 L1080.9,571.5 L1081.0,570.2 L1081.2,568.9 L1081.4,567.5 L1081.5,566.2 L1081.7,564.9 L1081.9,563.6 L1082.0,562.3 L1082.2,560.9 L1082.4,559.6 L1082.6,558.3 L1082.7,557.0 L1082.9,555.7 L1083.1,554.4 L1083.3,553.1 L1083.5,551.8 L1083.7,550.5 L1083.9,549.2 L1084.1,548.0 L1084.3,546.7 L1084.5,545.4 L1084.7,544.1 L1085.0,542.9 L1085.2,541.6 L1085.4,540.3 L1085.6,539.1 L1085.9,537.8 L1086.1,536.5 L1086.3,535.3 L1086.6,534.1 L1086.8,532.8 L1087.1,531.6 L1087.3,530.4 L1087.6,529.1 L1087.9,527.9 L1088.1,526.7 L1088.4,525.6 L1088.7,524.4 L1089.1,523.3 L1089.4,522.2 L1089.8,521.1 L1090.1,520.0 L1090.6,519.0 L1091.1,518.1 L1091.6,517.3 L1092.2,516.5 L1093.0,516.0 L1094.0,515.7 L1095.3,515.7 L1096.6,515.9 L1097.9,516.0 L1099.3,515.5 L1100.0,515.0" fill="none" stroke="#047fa3" stroke-width="4.25" stroke-linejoin="round" stroke-linecap="square"/>
<path d="M158.0,298.0 L158.8,298.7 L159.7,299.3 L160.5,300.0 L161.3,300.7 L162.1,301.4 L163.0,302.1 L163.8,302.7 L164.6,303.4 L165.4,304.1 L166.2,304.8 L167.0,305.5 L167.8,306.2 L168.6,306.9 L169.4,307.6 L170.2,308.3 L171.0,309.0 L171.8,309.7 L172.6,310.4 L173.4,311.1 L174.2,311.8 L175.0,312.5 L175.8,313.2 L176.6,313.9 L177.4,314.7 L178.2,315.4 L179.0,316.1 L179.7,316.8 L180.5,317.5 L181.3,318.3 L182.1,319.0 L182.9,319.7 L183.6,320.4 L184.4,321.2 L185.2,321.9 L185.9,322.6 L186.7,323.3 L187.5,324.1 L188.3,324.8 L189.0,325.5 L189.8,326.3 L190.6,327.0 L191.3,327.8 L192.1,328.5 L192.8,329.2 L193.6,330.0 L194.4,330.7 L195.1,331.5 L195.9,332.2 L196.6,332.9 L197.4,333.7 L198.1,334.4 L198.9,335.2 L199.7,335.9 L200.4,336.7 L201.2,337.4 L201.9,338.2 L202.7,338.9 L203.4,339.7 L204.2,340.4 L204.9,341.2 L205.7,341.9 L206.4,342.7 L207.2,343.4 L207.9,344.2 L208.7,344.9 L209.4,345.7 L210.2,346.4 L210.9,347.2 L211.6,347.9 L212.4,348.7 L213.1,349.4 L213.9,350.2 L214.6,351.0 L215.4,351.7 L216.1,352.5 L216.9,353.2 L217.6,354.0 L218.3,354.7 L219.1,355.5 L219.8,356.3 L220.6,357.0 L221.3,357.8 L222.1,358.5 L222.8,359.3 L223.5,360.0 L224.3,360.8 L225.0,361.6 L225.8,362.3 L226.5,363.1 L227.3,363.8 L228.0,364.6 L228.7,365.3 L229.5,366.1 L230.2,366.9 L231.0,367.6 L231.7,368.4 L232.5,369.1 L233.2,369.9 L233.9,370.6 L234.7,371.4 L235.4,372.2 L236.2,372.9 L236.9,373.7 L237.7,374.4 L238.4,375.2 L239.2,375.9 L239.9,376.7 L240.6,377.4 L241.4,378.2 L242.1,378.9 L242.9,379.7 L242.9,379.7 L242.9,379.7 L243.7,380.4 L244.5,381.1 L245.3,381.8 L246.1,382.5 L246.9,383.2 L247.6,384.0 L248.4,384.7 L249.2,385.4 L250.0,386.1 L250.8,386.8 L251.6,387.5 L252.4,388.2 L253.2,389.0 L253.9,389.7 L254.7,390.4 L255.5,391.1 L256.3,391.8 L257.1,392.6 L257.8,393.3 L258.6,394.0 L259.4,394.7 L260.2,395.4 L260.9,396.2 L261.7,396.9 L262.5,397.6 L263.3,398.4 L264.0,399.1 L264.8,399.8 L265.6,400.5 L266.4,401.3 L267.1,402.0 L267.9,402.7 L268.7,403.5 L269.4,404.2 L270.2,404.9 L271.0,405.7 L271.7,406.4 L272.5,407.1 L273.3,407.9 L274.0,408.6 L274.8,409.3 L275.6,410.1 L276.3,410.8 L277.1,411.5 L277.9,412.3 L278.6,413.0 L279.4,413.8 L280.1,414.5 L280.9,415.2 L281.7,416.0 L282.4,416.7 L283.2,417.5 L283.9,418.2 L284.7,418.9 L285.5,419.7 L286.2,420.4 L287.0,421.2 L287.7,421.9 L288.5,422.7 L289.2,423.4 L290.0,424.1 L290.8,424.9 L291.5,425.6 L292.3,426.4 L293.0,427.1 L293.8,427.9 L294.5,428.6 L295.3,429.4 L296.0,430.1 L296.8,430.9 L297.5,431.6 L298.3,432.4 L299.0,433.1 L299.8,433.9 L300.5,434.6 L301.3,435.4 L302.0,436.1 L302.8,436.9 L303.5,437.6 L304.3,438.4 L305.0,439.1 L305.8,439.9 L306.5,440.6 L307.3,441.4 L308.0,442.1 L308.8,442.9 L309.5,443.6 L310.3,444.4 L311.0,445.1 L311.8,445.9 L312.5,446.6 L313.3,447.4 L314.0,448.1 L314.8,448.9 L315.5,449.6 L316.3,450.4 L317.0,451.1 L317.7,451.9 L318.5,452.7 L319.2,453.4 L320.0,454.2 L320.7,454.9 L321.5,455.7 L322.2,456.4 L323.0,457.2 L323.7,457.9 L324.5,458.7 L325.2,459.4 L325.9,460.2 L326.7,461.0 L327.4,461.7 L328.2,462.5 L328.9,463.2 L329.7,464.0 L330.4,464.7 L331.2,465.5 L331.9,466.2 L332.7,467.0 L333.4,467.8 L334.1,468.5 L334.9,469.3 L335.6,470.0 L336.4,470.8 L337.1,471.5 L337.9,472.3 L338.6,473.0 L339.4,473.8 L340.1,474.5 L340.8,475.3 L341.6,476.1 L342.3,476.8 L343.1,477.6 L343.8,478.3 L344.6,479.1 L345.3,479.8 L346.1,480.6 L346.8,481.3 L347.6,482.1 L348.3,482.8 L349.1,483.6 L349.8,484.3 L350.5,485.1 L351.3,485.8 L352.0,486.6 L352.8,487.4 L353.5,488.1 L354.3,488.9 L355.0,489.6 L355.8,490.4 L356.5,491.1 L357.3,491.9 L358.0,492.6 L358.8,493.4 L359.5,494.1 L360.3,494.9 L361.0,495.6 L361.8,496.4 L362.5,497.1 L363.3,497.9 L364.0,498.6 L364.8,499.4 L365.5,500.1 L366.3,500.9 L367.0,501.6 L367.8,502.3 L368.5,503.1 L369.3,503.8 L370.1,504.6 L370.8,505.3 L371.6,506.1 L372.3,506.8 L373.1,507.6 L373.8,508.3 L374.6,509.1 L375.3,509.8 L376.1,510.5 L376.8,511.3 L377.6,512.0 L378.4,512.8 L379.1,513.5 L379.9,514.3 L380.6,515.0 L381.4,515.7 L382.2,516.5 L382.9,517.2 L383.7,518.0 L384.4,518.7 L385.2,519.4 L386.0,520.2 L386.7,520.9 L387.5,521.6 L388.3,522.4 L389.0,523.1 L389.8,523.8 L390.6,524.6 L391.3,525.3 L392.1,526.0 L392.9,526.8 L393.6,527.5 L394.4,528.2 L395.2,529.0 L395.9,529.7 L396.7,530.4 L397.5,531.2 L398.2,531.9 L399.0,532.6 L399.8,533.3 L400.6,534.1 L401.3,534.8 L402.1,535.5 L402.9,536.2 L403.7,537.0 L404.4,537.7 L405.2,538.4 L406.0,539.1 L406.8,539.8 L407.6,540.6 L408.3,541.3 L409.1,542.0 L409.9,542.7 L410.7,543.4 L411.5,544.1 L412.2,544.9 L413.0,545.6 L413.8,546.3 L414.6,547.0 L415.4,547.7 L416.2,548.4 L417.0,549.1 L417.8,549.8 L418.6,550.5 L419.3,551.3 L420.1,552.0 L420.9,552.7 L421.7,553.4 L422.5,554.1 L423.3,554.8 L424.1,555.5 L424.9,556.2 L425.7,556.9 L426.5,557.6 L427.3,558.3 L428.1,559.0 L428.9,559.7 L429.7,560.4 L430.5,561.0 L431.4,561.7 L432.2,562.4 L433.0,563.1 L433.8,563.8 L434.6,564.5 L435.4,565.2 L436.2,565.9 L437.0,566.5 L437.9,567.2 L438.7,567.9 L439.5,568.6 L440.3,569.3 L441.1,569.9 L442.0,570.6 L442.8,571.3 L443.6,572.0 L444.4,572.6 L445.3,573.3 L446.1,574.0 L446.9,574.6 L447.8,575.3 L448.6,576.0 L449.4,576.6 L450.3,577.3 L451.1,578.0 L451.9,578.6 L452.8,579.3 L453.6,579.9 L454.5,580.6 L455.3,581.2 L456.2,581.9 L457.0,582.5 L457.9,583.2 L458.7,583.8 L459.6,584.4 L460.5,585.1 L461.3,585.7 L462.2,586.4 L463.0,587.0 L463.9,587.6 L464.8,588.2 L465.7,588.9 L466.5,589.5 L467.4,590.1 L468.3,590.7 L469.2,591.3 L470.1,592.0 L471.0,592.6 L471.8,593.2 L472.7,593.8 L473.6,594.4 L474.5,595.0 L475.4,595.6 L476.3,596.2 L477.2,596.8 L478.2,597.3 L479.1,597.9 L480.0,598.5 L480.9,599.1 L481.8,599.6 L482.8,600.2 L483.7,600.8 L484.6,601.3 L485.6,601.9 L486.5,602.5 L487.5,603.0 L488.4,603.6 L489.4,604.1 L490.3,604.6 L491.3,605.2 L492.3,605.7 L493.2,606.2 L494.2,606.7 L495.2,607.3 L496.2,607.8 L497.2,608.3 L498.2,608.8 L499.2,609.3 L500.2,609.8 L501.2,610.2 L502.2,610.7 L503.2,611.2 L504.2,611.7 L505.3,612.1 L506.3,612.6 L507.4,613.0 L508.4,613.5 L509.5,613.9 L510.5,614.3 L511.6,614.8 L512.7,615.2 L513.8,615.6 L514.9,616.0 L516.0,616.4 L517.1,616.7 L518.2,617.1 L519.4,617.5 L520.5,617.8 L521.6,618.2 L522.8,618.5 L524.0,618.8 L525.1,619.2 L526.3,619.5 L527.5,619.7 L528.8,620.0 L530.0,620.3 L531.2,620.5 L532.5,620.8 L533.7,621.0 L535.0,621.2 L536.3,621.4 L537.6,621.6 L538.9,621.8 L540.3,621.9 L541.6,622.1 L543.0,622.2 L544.4,622.3 L545.8,622.3 L547.3,622.4 L548.7,622.4 L550.2,622.4 L551.7,622.4 L553.2,622.3 L554.6,622.3 L556.1,622.2 L557.5,622.1 L558.8,622.0 L560.2,621.8 L561.6,621.7 L562.9,621.5 L564.2,621.3 L565.5,621.1 L566.8,620.9 L568.1,620.7 L569.4,620.4 L570.6,620.2 L571.9,619.9 L573.1,619.6 L574.3,619.4 L575.6,619.1 L576.8,618.8 L578.0,618.5 L579.1,618.1 L580.3,617.8 L581.5,617.5 L582.7,617.1 L583.8,616.8 L585.0,616.4 L586.1,616.1 L587.2,615.7 L588.3,615.3 L589.5,614.9 L590.6,614.5 L591.7,614.1 L592.8,613.7 L593.9,613.3 L595.0,612.9 L596.1,612.5 L597.1,612.1 L598.2,611.6 L599.3,611.2 L600.3,610.7 L601.4,610.3 L602.4,609.9 L603.5,609.4 L604.5,608.9 L605.6,608.5 L606.6,608.0 L607.7,607.5 L608.7,607.1 L609.7,606.6 L610.7,606.1 L611.8,605.6 L612.8,605.2 L613.8,604.7 L614.8,604.2 L615.8,603.7 L616.8,603.2 L617.8,602.7 L618.8,602.2 L619.8,601.7 L620.8,601.2 L621.8,600.6 L622.8,600.1 L623.8,599.6 L624.7,599.1 L625.7,598.6 L626.7,598.1 L627.7,597.5 L628.7,597.0 L629.6,596.5 L630.6,596.0 L631.6,595.4 L632.6,594.9 L633.5,594.4 L634.5,593.8 L635.4,593.3 L636.4,592.8 L637.4,592.2 L638.3,591.7 L639.3,591.1 L640.3,590.6 L641.2,590.0 L642.2,589.5 L643.1,589.0 L644.1,588.4 L645.0,587.9 L646.0,587.3 L646.9,586.8 L647.9,586.2 L648.8,585.7 L649.8,585.1 L650.7,584.6 L651.7,584.0 L652.6,583.5 L653.6,582.9 L654.5,582.4 L655.5,581.8 L656.4,581.3 L657.4,580.7 L658.3,580.2 L659.3,579.6 L660.2,579.1 L661.2,578.5 L662.1,577.9 L663.1,577.4 L664.0,576.8 L665.0,576.3 L665.9,575.7 L666.9,575.2 L667.8,574.6 L668.8,574.1 L669.7,573.5 L670.7,573.0 L671.6,572.4 L672.6,571.9 L673.5,571.4 L674.5,570.8 L675.4,570.3 L676.4,569.7 L677.3,569.2 L678.3,568.6 L679.3,568.1 L680.2,567.6 L681.2,567.0 L682.1,566.5 L683.1,565.9 L684.1,565.4 L685.0,564.9 L686.0,564.3 L687.0,563.8 L687.9,563.3 L688.9,562.7 L689.8,562.2 L690.8,561.6 L691.8,561.1 L692.7,560.6 L693.7,560.0 L694.6,559.5 L695.6,558.9 L696.6,558.4 L697.5,557.9 L698.5,557.3 L699.4,556.8 L700.4,556.2 L701.4,555.7 L702.3,555.2 L703.3,554.6 L704.2,554.1 L705.2,553.5 L706.1,553.0 L707.1,552.4 L708.0,551.9 L709.0,551.3 L709.9,550.8 L710.9,550.2 L711.8,549.6 L712.8,549.1 L713.7,548.5 L714.6,548.0 L715.6,547.4 L716.5,546.8 L717.5,546.3 L718.4,545.7 L719.3,545.1 L720.2,544.6 L721.2,544.0 L722.1,543.4 L723.0,542.8 L723.9,542.2 L724.9,541.7 L725.8,541.1 L726.7,540.5 L727.6,539.9 L728.5,539.3 L729.4,538.7 L730.3,538.1 L731.2,537.5 L732.1,536.9 L733.0,536.3 L733.9,535.7 L734.8,535.1 L735.7,534.5 L736.6,533.8 L737.4,533.2 L738.3,532.6 L739.2,532.0 L740.1,531.4 L741.0,530.7 L741.8,530.1 L742.7,529.5 L743.6,528.8 L744.4,528.2 L745.3,527.5 L746.1,526.9 L747.0,526.2 L747.8,525.6 L748.7,524.9 L749.5,524.3 L750.4,523.6 L751.2,522.9 L752.0,522.3 L752.9,521.6 L753.7,520.9 L754.5,520.3 L755.4,519.6 L756.2,518.9 L757.0,518.2 L757.8,517.5 L758.6,516.8 L759.4,516.1 L760.2,515.4 L761.0,514.7 L761.8,514.0 L762.6,513.3 L763.4,512.6 L764.2,511.9 L765.0,511.2 L765.8,510.5 L766.6,509.7 L767.3,509.0 L768.1,508.3 L768.9,507.6 L769.7,506.8 L770.4,506.1 L771.2,505.4 L772.0,504.6 L772.7,503.9 L773.5,503.1 L774.2,502.4 L775.0,501.6 L775.7,500.9 L776.5,500.1 L777.2,499.3 L777.9,498.6 L778.7,497.8 L779.4,497.0 L780.1,496.3 L780.9,495.5 L781.6,494.7 L782.3,493.9 L783.0,493.1 L783.7,492.3 L784.4,491.6 L785.2,490.8 L785.9,490.0 L786.6,489.2 L787.3,488.4 L788.0,487.6 L788.7,486.8 L789.4,485.9 L790.0,485.1 L790.7,484.3 L791.4,483.5 L792.1,482.7 L792.8,481.9 L793.5,481.0 L794.1,480.2 L794.8,479.4 L795.5,478.5 L796.1,477.7 L796.8,476.9 L797.5,476.0 L798.1,475.2 L798.8,474.3 L799.4,473.5 L800.1,472.6 L800.7,471.8 L801.4,470.9 L802.0,470.0 L802.7,469.2 L803.3,468.3 L803.9,467.4 L804.6,466.6 L805.2,465.7 L805.8,464.8 L806.4,463.9 L807.0,463.1 L807.7,462.2 L808.3,461.3 L808.9,460.4 L809.5,459.5 L810.1,458.6 L810.7,457.7 L811.3,456.8 L811.9,455.9 L812.5,455.0 L813.1,454.1 L813.7,453.1 L814.3,452.2 L814.8,451.3 L815.4,450.4 L816.0,449.5 L816.6,448.5 L817.2,447.6 L817.7,446.7 L818.3,445.7 L818.9,444.8 L819.4,443.9 L820.0,442.9 L820.5,442.0 L821.1,441.0 L821.6,440.1 L822.2,439.1 L822.7,438.2 L823.3,437.2 L823.8,436.2 L824.4,435.3 L824.9,434.3 L825.4,433.3 L826.0,432.4 L826.5,431.4 L827.0,430.4 L827.6,429.4 L828.1,428.5 L828.6,427.5 L829.1,426.5 L829.6,425.5 L830.1,424.5 L830.7,423.5 L831.2,422.5 L831.7,421.5 L832.2,420.5 L832.7,419.5 L833.2,418.5 L833.7,417.5 L834.2,416.5 L834.7,415.5 L835.2,414.5 L835.6,413.5 L836.1,412.4 L836.6,411.4 L837.1,410.4 L837.6,409.4 L838.0,408.3 L838.5,407.3 L839.0,406.2 L839.4,405.2 L839.9,404.1 L840.3,403.1 L840.7,402.0 L841.2,400.9 L841.6,399.9 L842.0,398.8 L842.5,397.7 L842.9,396.6 L843.3,395.5 L843.7,394.4 L844.1,393.3 L844.5,392.2 L844.9,391.1 L845.3,390.0 L845.7,388.9 L846.1,387.8 L846.5,386.6 L846.9,385.5 L847.3,384.4 L847.6,383.3 L848.0,382.2 L848.4,381.1 L848.8,379.9 L849.2,378.8 L849.6,377.7 L849.9,376.6 L850.3,375.5 L850.7,374.4 L851.1,373.2 L851.5,372.1 L851.9,371.0 L852.3,369.9 L852.6,368.8 L853.0,367.7 L853.4,366.6 L853.8,365.5 L854.2,364.4 L854.6,363.3 L855.0,362.2 L855.4,361.2 L855.9,360.1 L856.3,359.0 L856.7,357.9 L857.1,356.9 L857.6,355.8 L858.0,354.8 L858.5,353.8 L858.9,352.8 L859.4,351.7 L859.9,350.7 L860.4,349.8 L860.9,348.8 L861.4,347.9 L862.0,346.9 L862.6,346.0 L863.2,345.2 L863.8,344.4 L864.5,343.6 L865.2,342.9 L866.0,342.2 L866.9,341.7 L867.9,341.4 L869.2,341.4 L870.4,341.9 L871.4,342.5 L872.3,343.2 L873.1,344.0 L873.8,344.8 L874.5,345.6 L875.2,346.5 L875.8,347.4 L876.4,348.3 L877.0,349.3 L877.6,350.2 L878.1,351.1 L878.7,352.1 L879.2,353.1 L879.8,354.0 L880.3,355.0 L880.8,356.0 L881.4,357.0 L881.9,357.9 L882.4,358.9 L882.9,359.9 L883.5,360.8 L884.0,361.8 L884.5,362.8 L885.1,363.7 L885.6,364.6 L886.2,365.6 L886.7,366.5 L887.3,367.4 L887.9,368.4 L888.4,369.3 L889.0,370.2 L889.6,371.1 L890.2,372.0 L890.8,372.9 L891.4,373.8 L892.0,374.8 L892.6,375.7 L893.1,376.6 L893.7,377.5 L894.3,378.4 L894.9,379.3 L895.5,380.2 L896.1,381.2 L896.6,382.1 L897.2,383.0 L897.8,384.0 L898.3,384.9 L898.9,385.9 L899.4,386.9 L900.0,387.8 L900.5,388.8 L901.0,389.8 L901.5,390.8 L902.1,391.8 L902.6,392.8 L903.1,393.8 L903.6,394.8 L904.0,395.8 L904.5,396.9 L905.0,397.9 L905.5,399.0 L905.9,400.0 L906.4,401.1 L906.8,402.1 L907.2,403.2 L907.7,404.3 L908.1,405.4 L908.5,406.5 L908.9,407.6 L909.3,408.7 L909.7,409.8 L910.1,410.9 L910.5,412.0 L910.9,413.2 L911.3,414.3 L911.6,415.4 L912.0,416.6 L912.4,417.7 L912.7,418.9 L913.1,420.0 L913.4,421.2 L913.8,422.4 L914.1,423.5 L914.4,424.7 L914.8,425.9 L915.1,427.0 L915.4,428.2 L915.8,429.4 L916.1,430.5 L916.5,431.6 L916.8,432.8 L917.2,433.9 L917.6,435.0 L918.0,436.0 L918.4,437.1 L918.8,438.0 L919.3,438.9 L919.9,439.8 L920.6,440.3 L921.6,440.4 L922.6,439.3 L922.7,439.0 L922.7,439.0 L923.8,438.6 L924.9,438.2 L926.0,437.8 L927.0,437.3 L928.1,436.9 L929.2,436.4 L930.2,436.0 L931.2,435.5 L932.2,435.0 L933.2,434.5 L934.2,433.9 L935.2,433.4 L936.1,432.8 L937.1,432.2 L938.0,431.6 L938.9,431.0 L939.8,430.4 L940.6,429.7 L941.5,429.1 L942.3,428.4 L943.1,427.7 L943.9,427.0 L944.7,426.2 L945.5,425.5 L946.2,424.7 L947.0,423.9 L947.7,423.2 L948.4,422.4 L949.1,421.5 L949.8,420.7 L950.4,419.9 L951.1,419.0 L951.8,418.2 L952.4,417.3 L953.0,416.4 L953.7,415.6 L954.3,414.7 L954.9,413.8 L955.5,412.9 L956.1,412.0 L956.8,411.1 L957.4,410.2 L958.0,409.3 L958.6,408.4 L959.1,407.5 L959.7,406.6 L960.3,405.7 L960.9,404.8 L961.5,403.8 L962.1,402.9 L962.7,402.0 L963.3,401.1 L963.9,400.2 L964.5,399.3 L965.1,398.4 L965.6,397.5 L966.2,396.6 L966.8,395.7 L967.4,394.8 L968.1,393.9 L968.7,393.0 L969.3,392.2 L969.9,391.3 L970.5,390.4 L971.2,389.6 L971.8,388.7 L972.5,387.9 L973.2,387.1 L973.8,386.3 L974.6,385.5 L975.3,384.8 L976.0,384.1 L976.8,383.4 L977.6,382.8 L978.5,382.1 L979.4,381.6 L980.4,381.1 L981.4,380.7 L982.5,380.3 L983.6,380.1 L985.0,380.0 L986.5,380.1 L987.8,380.4 L989.0,380.7 L990.1,381.1 L991.1,381.6 L992.2,382.1 L993.1,382.7 L994.1,383.3 L995.0,383.8 L995.9,384.5 L996.8,385.1 L997.7,385.7 L998.6,386.3 L999.4,387.0 L1000.3,387.6 L1001.2,388.2 L1002.0,388.9 L1002.9,389.5 L1003.7,390.1 L1004.6,390.8 L1005.5,391.4 L1006.4,392.0 L1007.3,392.5 L1008.2,393.1 L1009.2,393.6 L1010.1,394.1 L1011.1,394.6 L1012.2,395.1 L1013.2,395.5 L1014.3,395.9 L1015.5,396.2 L1016.6,396.6 L1017.8,396.9 L1019.0,397.2 L1020.2,397.5 L1021.4,397.7 L1022.6,398.0 L1023.9,398.3 L1025.1,398.5 L1026.3,398.8 L1027.5,399.1 L1028.7,399.4 L1029.9,399.8 L1031.1,400.1 L1032.2,400.5 L1033.4,400.8 L1034.5,401.2 L1035.6,401.7 L1036.6,402.1 L1037.7,402.5 L1038.7,403.0 L1039.8,403.5 L1040.8,404.0 L1041.8,404.5 L1042.7,405.1 L1043.7,405.6 L1044.6,406.2 L1045.6,406.8 L1046.5,407.4 L1047.4,408.0 L1048.3,408.6 L1049.2,409.2 L1050.1,409.8 L1051.0,410.4 L1051.9,411.0 L1052.7,411.6 L1053.6,412.3 L1054.5,412.9 L1055.3,413.6 L1056.2,414.2 L1057.1,414.8 L1057.9,415.5 L1058.8,416.1 L1059.6,416.8 L1060.5,417.4 L1061.3,418.1 L1062.2,418.7 L1063.0,419.4 L1063.9,420.0 L1064.7,420.7 L1065.6,421.3 L1066.5,422.0 L1067.3,422.6 L1068.2,423.3 L1069.0,423.9 L1069.9,424.6 L1070.7,425.2 L1071.6,425.8 L1072.4,426.5 L1073.3,427.1 L1074.1,427.8 L1075.0,428.4 L1075.8,429.1 L1076.7,429.7 L1077.5,430.4 L1078.4,431.0 L1079.2,431.7 L1080.1,432.3 L1080.9,433.0 L1081.8,433.6 L1082.6,434.3 L1083.5,434.9 L1084.3,435.6 L1085.2,436.2 L1086.0,436.8 L1086.9,437.5 L1087.8,438.1 L1088.6,438.8 L1089.5,439.4 L1090.3,440.0 L1091.2,440.7 L1092.1,441.3 L1092.9,441.9 L1093.8,442.6 L1094.7,443.2 L1095.6,443.8 L1096.4,444.5 L1097.3,445.1 L1098.2,445.7 L1099.0,446.3 L1099.9,446.9 L1100.0,447.0" fill="none" stroke="#3cc46a" stroke-width="4.25" stroke-linejoin="round" stroke-linecap="square"/>
<path d="M158.0,295.0 L158.8,295.7 L159.6,296.4 L160.4,297.1 L161.2,297.8 L162.0,298.5 L162.8,299.2 L163.6,299.9 L164.4,300.6 L165.2,301.3 L166.0,302.0 L166.8,302.7 L167.6,303.4 L168.4,304.1 L169.2,304.8 L170.0,305.4 L170.8,306.1 L171.7,306.8 L172.5,307.5 L173.3,308.2 L174.1,308.9 L174.9,309.5 L175.7,310.2 L176.6,310.9 L177.4,311.6 L178.2,312.3 L179.0,313.0 L179.8,313.6 L180.6,314.3 L181.5,315.0 L182.3,315.7 L183.1,316.4 L183.9,317.1 L184.7,317.8 L185.5,318.5 L186.3,319.1 L187.1,319.8 L188.0,320.5 L188.8,321.2 L189.6,321.9 L190.4,322.6 L191.2,323.3 L192.0,324.0 L192.8,324.7 L193.5,325.5 L194.3,326.2 L195.1,326.9 L195.9,327.6 L196.7,328.3 L197.5,329.0 L198.3,329.8 L199.0,330.5 L199.8,331.2 L200.6,331.9 L201.3,332.7 L202.1,333.4 L202.9,334.2 L203.6,334.9 L204.4,335.7 L205.1,336.4 L205.9,337.2 L206.6,337.9 L207.4,338.7 L208.1,339.5 L208.8,340.2 L209.6,341.0 L210.3,341.8 L211.0,342.6 L211.7,343.3 L212.4,344.1 L213.2,344.9 L213.9,345.7 L214.6,346.5 L215.3,347.3 L216.0,348.1 L216.7,348.9 L217.3,349.8 L218.0,350.6 L218.7,351.4 L219.4,352.2 L220.1,353.1 L220.7,353.9 L221.4,354.7 L222.1,355.6 L222.7,356.4 L223.4,357.2 L224.0,358.1 L224.7,359.0 L225.3,359.8 L226.0,360.7 L226.6,361.5 L227.3,362.4 L227.9,363.3 L228.5,364.2 L229.1,365.0 L229.8,365.9 L230.4,366.8 L231.0,367.7 L231.6,368.6 L232.2,369.5 L232.8,370.4 L233.4,371.3 L234.0,372.2 L234.6,373.1 L235.2,374.0 L235.8,374.9 L236.4,375.9 L236.9,376.8 L237.5,377.7 L238.1,378.6 L238.7,379.6 L239.2,380.5 L239.8,381.5 L240.3,382.3 L240.3,382.3 L241.1,383.0 L241.8,383.8 L242.6,384.5 L243.4,385.2 L244.1,386.0 L244.9,386.7 L245.7,387.4 L246.4,388.2 L247.2,388.9 L248.0,389.6 L248.7,390.4 L249.5,391.1 L250.3,391.8 L251.0,392.6 L251.8,393.3 L252.6,394.0 L253.3,394.8 L254.1,395.5 L254.9,396.2 L255.6,397.0 L256.4,397.7 L257.1,398.5 L257.9,399.2 L258.7,399.9 L259.4,400.7 L260.2,401.4 L261.0,402.2 L261.7,402.9 L262.5,403.6 L263.2,404.4 L264.0,405.1 L264.8,405.9 L265.5,406.6 L266.3,407.3 L267.0,408.1 L267.8,408.8 L268.5,409.6 L269.3,410.3 L270.1,411.1 L270.8,411.8 L271.6,412.5 L272.3,413.3 L273.1,414.0 L273.8,414.8 L274.6,415.5 L275.3,416.3 L276.1,417.0 L276.9,417.8 L277.6,418.5 L278.4,419.3 L279.1,420.0 L279.9,420.7 L280.6,421.5 L281.4,422.2 L282.1,423.0 L282.9,423.7 L283.6,424.5 L284.4,425.2 L285.1,426.0 L285.9,426.7 L286.6,427.5 L287.4,428.2 L288.1,429.0 L288.9,429.7 L289.6,430.5 L290.4,431.2 L291.1,432.0 L291.9,432.7 L292.6,433.5 L293.4,434.2 L294.1,435.0 L294.9,435.7 L295.6,436.5 L296.4,437.2 L297.1,438.0 L297.9,438.7 L298.6,439.5 L299.4,440.2 L300.1,441.0 L300.9,441.7 L301.6,442.5 L302.4,443.3 L303.1,444.0 L303.9,444.8 L304.6,445.5 L305.4,446.3 L306.1,447.0 L306.8,447.8 L307.6,448.5 L308.3,449.3 L309.1,450.0 L309.8,450.8 L310.6,451.6 L311.3,452.3 L312.1,453.1 L312.8,453.8 L313.6,454.6 L314.3,455.3 L315.0,456.1 L315.8,456.8 L316.5,457.6 L317.3,458.4 L318.0,459.1 L318.8,459.9 L319.5,460.6 L320.2,461.4 L321.0,462.1 L321.7,462.9 L322.5,463.7 L323.2,464.4 L324.0,465.2 L324.7,465.9 L325.4,466.7 L326.2,467.4 L326.9,468.2 L327.7,469.0 L328.4,469.7 L329.2,470.5 L329.9,471.2 L330.6,472.0 L331.4,472.7 L332.1,473.5 L332.9,474.3 L333.6,475.0 L334.4,475.8 L335.1,476.5 L335.8,477.3 L336.6,478.1 L337.3,478.8 L338.1,479.6 L338.8,480.3 L339.5,481.1 L340.3,481.9 L341.0,482.6 L341.8,483.4 L342.5,484.1 L343.2,484.9 L344.0,485.6 L344.7,486.4 L345.5,487.2 L346.2,487.9 L346.9,488.7 L347.7,489.4 L348.4,490.2 L349.2,491.0 L349.9,491.7 L350.6,492.5 L351.4,493.2 L352.1,494.0 L352.9,494.8 L353.6,495.5 L354.3,496.3 L355.1,497.0 L355.8,497.8 L356.6,498.6 L357.3,499.3 L358.0,500.1 L358.8,500.8 L359.5,501.6 L360.3,502.4 L361.0,503.1 L361.7,503.9 L362.5,504.6 L363.2,505.4 L364.0,506.2 L364.7,506.9 L365.4,507.7 L366.2,508.5 L366.9,509.2 L367.7,510.0 L368.4,510.7 L369.1,511.5 L369.9,512.3 L370.6,513.0 L371.4,513.8 L372.1,514.5 L372.8,515.3 L373.6,516.1 L374.3,516.8 L375.1,517.6 L375.8,518.3 L376.5,519.1 L377.3,519.9 L378.0,520.6 L378.8,521.4 L379.5,522.1 L380.2,522.9 L381.0,523.6 L381.7,524.4 L382.5,525.2 L383.2,525.9 L383.9,526.7 L384.7,527.4 L385.4,528.2 L386.2,529.0 L386.9,529.7 L387.6,530.5 L388.4,531.2 L389.1,532.0 L389.9,532.8 L390.6,533.5 L391.4,534.3 L392.1,535.0 L392.8,535.8 L393.6,536.6 L394.3,537.3 L395.1,538.1 L395.8,538.8 L396.5,539.6 L397.3,540.3 L398.0,541.1 L398.8,541.9 L399.5,542.6 L400.3,543.4 L401.0,544.1 L401.7,544.9 L402.5,545.6 L403.2,546.4 L404.0,547.2 L404.7,547.9 L405.5,548.7 L406.2,549.4 L406.9,550.2 L407.7,550.9 L408.4,551.7 L409.2,552.4 L409.9,553.2 L410.7,554.0 L411.4,554.7 L412.2,555.5 L412.9,556.2 L413.6,557.0 L414.4,557.7 L415.1,558.5 L415.9,559.2 L416.6,560.0 L417.4,560.7 L418.1,561.5 L418.9,562.3 L419.6,563.0 L420.4,563.8 L421.1,564.5 L421.9,565.3 L422.6,566.0 L423.4,566.8 L424.1,567.5 L424.9,568.3 L425.6,569.0 L426.4,569.8 L427.1,570.5 L427.9,571.3 L428.6,572.0 L429.4,572.8 L430.1,573.5 L430.9,574.3 L431.6,575.0 L432.4,575.8 L433.1,576.5 L433.9,577.3 L434.6,578.0 L435.4,578.7 L436.1,579.5 L436.9,580.2 L437.6,581.0 L438.4,581.7 L439.1,582.5 L439.9,583.2 L440.6,584.0 L441.4,584.7 L442.2,585.5 L442.9,586.2 L443.7,586.9 L444.4,587.7 L445.2,588.4 L445.9,589.2 L446.7,589.9 L447.5,590.7 L448.2,591.4 L449.0,592.1 L449.7,592.9 L450.5,593.6 L451.3,594.4 L452.0,595.1 L452.8,595.8 L453.5,596.6 L454.3,597.3 L455.1,598.0 L455.8,598.8 L456.6,599.5 L457.4,600.2 L458.1,601.0 L458.9,601.7 L459.7,602.5 L460.4,603.2 L461.2,603.9 L462.0,604.7 L462.7,605.4 L463.5,606.1 L464.3,606.8 L465.0,607.6 L465.8,608.3 L466.6,609.0 L467.3,609.8 L468.1,610.5 L468.9,611.2 L469.6,612.0 L470.4,612.7 L471.2,613.4 L472.0,614.1 L472.7,614.9 L473.5,615.6 L474.3,616.3 L475.1,617.0 L475.8,617.8 L476.6,618.5 L477.4,619.2 L478.2,619.9 L478.9,620.6 L479.7,621.4 L480.5,622.1 L481.3,622.8 L482.1,623.5 L482.8,624.2 L483.6,625.0 L484.4,625.7 L485.2,626.4 L486.0,627.1 L486.8,627.8 L487.5,628.5 L488.3,629.3 L489.1,630.0 L489.9,630.7 L490.7,631.4 L491.5,632.1 L492.3,632.8 L493.1,633.5 L493.9,634.2 L494.6,634.9 L495.4,635.6 L496.2,636.3 L497.0,637.1 L497.8,637.8 L498.6,638.5 L499.4,639.2 L500.2,639.9 L501.0,640.6 L501.8,641.3 L502.6,642.0 L503.4,642.7 L504.2,643.4 L505.0,644.1 L505.8,644.8 L506.6,645.5 L507.4,646.2 L508.2,646.8 L509.0,647.5 L509.8,648.2 L510.6,648.9 L511.4,649.6 L512.3,650.3 L513.1,651.0 L513.9,651.7 L514.7,652.4 L515.5,653.1 L516.3,653.7 L517.1,654.4 L517.9,655.1 L518.8,655.8 L519.6,656.5 L520.4,657.2 L521.2,657.8 L522.0,658.5 L522.9,659.2 L523.7,659.9 L524.5,660.5 L525.3,661.2 L526.2,661.9 L527.0,662.6 L527.8,663.2 L528.6,663.9 L529.5,664.6 L530.3,665.2 L531.1,665.9 L532.0,666.6 L532.8,667.2 L533.6,667.9 L534.5,668.6 L535.3,669.2 L536.2,669.9 L537.0,670.5 L537.8,671.2 L538.7,671.8 L539.5,672.5 L540.4,673.1 L541.2,673.8 L542.1,674.5 L542.9,675.1 L543.8,675.7 L544.6,676.4 L545.5,677.0 L546.3,677.7 L547.2,678.3 L548.1,679.0 L548.9,679.6 L549.8,680.2 L550.6,680.9 L551.5,681.5 L552.4,682.1 L553.2,682.8 L554.1,683.4 L555.0,684.0 L555.8,684.7 L556.7,685.3 L557.6,685.9 L558.5,686.5 L559.3,687.2 L560.2,687.8 L561.1,688.4 L562.0,689.0 L562.9,689.6 L563.8,690.2 L564.7,690.8 L565.5,691.4 L566.4,692.1 L567.3,692.7 L568.2,693.3 L569.1,693.9 L570.0,694.5 L570.9,695.1 L571.8,695.7 L572.7,696.2 L573.6,696.8 L574.5,697.4 L575.5,698.0 L576.4,698.6 L577.3,699.2 L578.2,699.8 L579.1,700.3 L580.0,700.9 L581.0,701.5 L581.9,702.1 L582.8,702.6 L583.7,703.2 L584.7,703.8 L585.6,704.3 L586.5,704.9 L587.5,705.5 L588.4,706.0 L589.4,706.6 L590.3,707.1 L591.3,707.7 L592.2,708.2 L593.2,708.8 L594.1,709.3 L595.1,709.8 L596.0,710.4 L597.0,710.9 L598.0,711.4 L598.9,712.0 L599.9,712.5 L600.9,713.0 L601.9,713.5 L602.9,714.1 L603.8,714.6 L604.8,715.1 L605.8,715.6 L606.8,716.1 L607.8,716.6 L608.8,717.1 L609.8,717.6 L610.8,718.1 L611.8,718.6 L612.8,719.1 L613.8,719.5 L614.9,720.0 L615.9,720.5 L616.9,721.0 L617.9,721.4 L619.0,721.9 L620.0,722.4 L621.0,722.8 L622.1,723.3 L623.1,723.7 L624.2,724.2 L625.2,724.6 L626.3,725.1 L627.4,725.5 L628.4,725.9 L629.5,726.3 L630.6,726.8 L631.7,727.2 L632.7,727.6 L633.8,728.0 L634.9,728.4 L636.0,728.8 L637.1,729.2 L638.2,729.6 L639.4,730.0 L640.5,730.3 L641.6,730.7 L642.7,731.1 L643.9,731.4 L645.0,731.8 L646.1,732.2 L647.3,732.5 L648.5,732.8 L649.6,733.2 L650.8,733.5 L652.0,733.8 L653.1,734.1 L654.3,734.4 L655.5,734.8 L656.7,735.0 L657.9,735.3 L659.1,735.6 L660.4,735.9 L661.6,736.2 L662.8,736.4 L663.2,736.5 L663.20,736.50 L689.50,736.50 L689.50,736.50 C689.50,736.50 696.06,722.66 700.20,716.30 C704.16,710.22 713.80,699.20 713.80,699.20 L713.8,699.2 L713.9,697.8 L714.0,696.4 L714.1,695.0 L714.2,693.6 L714.3,692.3 L714.4,690.9 L714.5,689.5 L714.6,688.1 L714.7,686.7 L714.8,685.4 L714.9,684.0 L715.1,682.6 L715.2,681.3 L715.3,679.9 L715.4,678.5 L715.5,677.2 L715.7,675.8 L715.8,674.5 L716.0,673.2 L716.1,671.8 L716.2,670.5 L716.4,669.2 L716.5,667.8 L716.7,666.5 L716.9,665.2 L717.0,663.9 L717.2,662.6 L717.4,661.3 L717.6,660.0 L717.8,658.7 L718.0,657.5 L718.2,656.2 L718.4,655.0 L718.6,653.7 L718.9,652.5 L719.1,651.3 L719.4,650.1 L719.7,648.9 L719.9,647.7 L720.2,646.5 L720.5,645.3 L720.8,644.2 L721.2,643.0 L721.5,641.8 L721.8,640.7 L722.2,639.5 L722.5,638.4 L722.8,637.2 L723.2,636.1 L723.5,634.9 L723.9,633.8 L724.2,632.6 L724.6,631.5 L725.0,630.4 L725.3,629.3 L725.7,628.1 L726.1,627.0 L726.5,625.9 L726.9,624.8 L727.2,623.7 L727.6,622.6 L728.1,621.6 L728.5,620.5 L728.9,619.4 L729.3,618.4 L729.8,617.3 L730.2,616.3 L730.7,615.3 L731.2,614.3 L731.7,613.3 L732.1,612.3 L732.7,611.3 L733.2,610.4 L733.7,609.4 L734.3,608.5 L734.8,607.6 L735.4,606.7 L736.0,605.8 L736.6,604.9 L737.2,604.0 L737.9,603.2 L738.5,602.4 L739.2,601.5 L739.9,600.7 L740.6,600.0 L741.3,599.2 L742.0,598.4 L742.7,597.6 L743.5,596.9 L744.2,596.2 L745.0,595.4 L745.7,594.7 L746.5,593.9 L747.2,593.2 L748.0,592.4 L748.7,591.7 L749.5,590.9 L750.2,590.1 L750.9,589.3 L751.6,588.5 L752.3,587.7 L753.0,586.9 L753.7,586.0 L753.7,586.0 L753.70,586.00 L771.80,588.20 L771.80,588.20 C771.80,588.20 783.62,584.02 789.00,581.00 C793.82,578.29 802.40,571.00 802.40,571.00 L802.40,571.00 L815.80,548.10 L815.8,548.1 L815.9,546.7 L816.0,545.3 L816.1,543.9 L816.1,542.5 L816.2,541.1 L816.3,539.6 L816.4,538.2 L816.5,536.8 L816.6,535.4 L816.7,534.0 L816.8,532.6 L816.9,531.2 L817.0,529.8 L817.0,528.4 L817.1,527.0 L817.2,525.6 L817.3,524.2 L817.4,522.8 L817.5,521.4 L817.6,520.0 L817.7,518.6 L817.8,517.2 L817.9,515.8 L818.0,514.4 L818.1,513.0 L818.2,511.6 L818.3,510.2 L818.4,508.8 L818.5,507.4 L818.6,506.0 L818.7,504.6 L818.8,503.2 L818.9,501.8 L819.0,500.4 L819.1,499.1 L819.2,497.7 L819.3,496.3 L819.4,494.9 L819.5,493.5 L819.6,492.1 L819.8,490.7 L819.9,489.4 L820.0,488.0 L820.1,486.6 L820.2,485.2 L820.3,483.8 L820.4,482.5 L820.5,481.1 L820.7,479.7 L820.8,478.3 L820.9,477.0 L821.0,475.6 L821.1,474.2 L821.3,472.8 L821.4,471.5 L821.5,470.1 L821.6,468.7 L821.8,467.4 L821.9,466.0 L822.0,464.7 L822.2,463.3 L822.3,461.9 L822.4,460.6 L822.6,459.2 L822.7,457.9 L822.9,456.5 L823.0,455.2 L823.1,453.8 L823.3,452.5 L823.4,451.1 L823.6,449.8 L823.7,448.5 L823.9,447.1 L824.0,445.8 L824.2,444.5 L824.4,443.1 L824.5,441.8 L824.7,440.5 L824.9,439.2 L825.0,437.9 L825.2,436.6 L825.4,435.3 L825.6,434.0 L825.8,432.7 L826.0,431.4 L826.2,430.1 L826.4,428.8 L826.6,427.5 L826.8,426.2 L827.0,425.0 L827.2,423.7 L827.4,422.5 L827.7,421.2 L827.9,419.9 L828.1,418.7 L828.4,417.5 L828.6,416.2 L828.9,415.0 L829.1,413.7 L829.4,412.5 L829.6,411.3 L829.9,410.1 L830.2,408.8 L830.5,407.6 L830.7,406.4 L831.0,405.2 L831.3,403.9 L831.5,402.7 L831.8,401.5 L832.1,400.2 L832.4,399.0 L832.6,397.8 L832.9,396.5 L833.2,395.3 L833.4,394.1 L833.7,392.9 L834.0,391.6 L834.2,390.4 L834.5,389.2 L834.8,387.9 L835.1,386.7 L835.3,385.5 L835.6,384.2 L835.9,383.0 L836.1,381.8 L836.4,380.6 L836.7,379.3 L836.9,378.1 L837.2,376.9 L837.5,375.6 L837.8,374.4 L838.0,373.2 L838.3,372.0 L838.6,370.7 L838.9,369.5 L839.1,368.3 L839.4,367.1 L839.7,365.9 L840.0,364.6 L840.2,363.4 L840.5,362.2 L840.8,361.0 L841.1,359.8 L841.4,358.6 L841.7,357.3 L841.9,356.1 L842.2,354.9 L842.5,353.7 L842.8,352.5 L843.1,351.3 L843.4,350.1 L843.7,348.9 L844.0,347.7 L844.3,346.5 L844.6,345.3 L844.9,344.2 L845.2,343.0 L845.5,341.8 L845.8,340.6 L846.2,339.5 L846.5,338.3 L846.8,337.1 L847.2,336.0 L847.5,334.8 L847.8,333.7 L848.2,332.5 L848.5,331.4 L848.9,330.3 L849.3,329.1 L849.6,328.0 L850.0,326.9 L850.4,325.8 L850.8,324.7 L851.2,323.7 L851.6,322.6 L852.0,321.6 L852.5,320.5 L852.9,319.5 L853.4,318.5 L853.9,317.5 L854.4,316.6 L855.0,315.7 L855.5,314.8 L856.1,313.9 L856.8,313.1 L857.5,312.4 L858.3,311.8 L859.2,311.3 L860.3,311.1 L861.8,311.5 L862.8,312.1 L863.6,312.9 L864.4,313.7 L865.1,314.5 L865.7,315.4 L866.4,316.3 L866.9,317.3 L867.5,318.3 L868.1,319.2 L868.6,320.2 L869.1,321.2 L869.6,322.2 L870.1,323.2 L870.6,324.3 L871.1,325.3 L871.5,326.3 L872.0,327.4 L872.5,328.4 L873.0,329.4 L873.4,330.5 L873.9,331.5 L874.3,332.5 L874.8,333.6 L875.3,334.6 L875.7,335.6 L876.2,336.7 L876.7,337.7 L877.2,338.7 L877.6,339.7 L878.1,340.7 L878.6,341.7 L879.1,342.7 L879.6,343.7 L880.1,344.7 L880.6,345.7 L881.1,346.7 L881.6,347.8 L882.1,348.8 L882.6,349.8 L883.0,350.8 L883.5,351.9 L884.0,352.9 L884.4,354.0 L884.9,355.0 L885.3,356.1 L885.8,357.2 L886.2,358.3 L886.6,359.4 L887.0,360.5 L887.4,361.6 L887.8,362.8 L888.2,363.9 L888.5,365.0 L888.9,366.2 L889.3,367.3 L889.6,368.5 L890.0,369.6 L890.3,370.8 L890.7,371.9 L891.0,373.1 L891.4,374.2 L891.7,375.4 L892.1,376.5 L892.4,377.7 L892.8,378.8 L893.1,380.0 L893.4,381.2 L893.8,382.3 L894.1,383.5 L894.5,384.6 L894.8,385.8 L895.2,386.9 L895.5,388.0 L895.9,389.2 L896.2,390.3 L896.6,391.5 L896.9,392.6 L897.3,393.8 L897.7,394.9 L898.0,396.1 L898.3,397.3 L898.7,398.4 L899.0,399.6 L899.4,400.7 L899.7,401.9 L900.1,403.0 L900.4,404.2 L900.8,405.4 L901.1,406.5 L901.4,407.7 L901.8,408.9 L902.1,410.1 L902.4,411.2 L902.7,412.4 L903.1,413.6 L903.4,414.8 L903.7,416.0 L904.0,417.2 L904.3,418.3 L904.7,419.5 L905.0,420.7 L905.3,421.9 L905.6,423.1 L905.9,424.3 L906.2,425.6 L906.5,426.8 L906.8,428.0 L907.0,429.2 L907.3,430.4 L907.6,431.6 L907.9,432.9 L908.2,434.1 L908.5,435.3 L908.7,436.5 L909.0,437.8 L909.3,439.0 L909.5,440.3 L909.7,441.0 L909.70,441.00 L918.80,441.00 L918.8,441.0 L919.4,440.1 L920.0,439.2 L920.6,438.3 L921.2,437.5 L921.8,436.6 L922.5,435.8 L923.2,435.0 L923.9,434.3 L924.6,433.5 L925.4,432.8 L926.2,432.1 L927.0,431.5 L927.8,430.9 L928.7,430.3 L929.7,429.8 L930.6,429.3 L931.7,428.8 L932.7,428.4 L933.8,428.1 L935.0,427.8 L936.2,427.5 L937.5,427.3 L938.8,427.2 L940.2,427.0 L941.6,426.9 L943.0,426.9 L944.4,426.7 L945.7,426.5 L947.0,426.2 L948.1,425.8 L949.2,425.3 L950.2,424.7 L951.1,424.1 L951.9,423.4 L952.7,422.6 L953.4,421.7 L954.1,420.9 L954.7,420.0 L955.3,419.0 L955.9,418.1 L956.4,417.1 L957.0,416.1 L957.5,415.0 L957.9,414.0 L958.4,412.9 L958.9,411.9 L959.3,410.8 L959.7,409.7 L960.1,408.6 L960.6,407.5 L961.0,406.4 L961.4,405.3 L961.8,404.2 L962.2,403.1 L962.6,402.0 L962.9,400.8 L963.3,399.7 L963.7,398.6 L964.1,397.5 L964.5,396.4 L964.9,395.3 L965.2,394.1 L965.6,393.0 L966.0,391.9 L966.4,390.8 L966.8,389.7 L967.2,388.6 L967.6,387.5 L968.0,386.4 L968.4,385.3 L968.8,384.2 L969.2,383.1 L969.6,382.0 L970.0,381.0 L970.4,379.9 L970.9,378.9 L971.3,377.8 L971.8,376.8 L972.2,375.8 L972.7,374.8 L973.2,373.8 L973.7,372.8 L974.2,371.8 L974.7,370.8 L975.2,369.9 L975.8,368.9 L976.3,368.0 L976.9,367.1 L977.5,366.2 L978.1,365.4 L978.7,364.5 L979.4,363.7 L980.1,362.9 L980.8,362.2 L981.5,361.5 L982.3,360.8 L983.2,360.2 L984.0,359.6 L985.0,359.1 L986.0,358.7 L987.1,358.4 L988.4,358.2 L989.8,358.3 L991.2,358.6 L992.3,358.9 L993.4,359.4 L994.4,359.9 L995.4,360.5 L996.3,361.1 L997.2,361.8 L998.0,362.5 L998.9,363.1 L999.7,363.9 L1000.5,364.6 L1001.2,365.3 L1002.0,366.1 L1002.8,366.8 L1003.5,367.6 L1004.2,368.4 L1005.0,369.1 L1005.7,369.9 L1006.4,370.7 L1007.1,371.5 L1007.8,372.3 L1008.6,373.0 L1009.3,373.8 L1010.0,374.6 L1010.7,375.4 L1011.5,376.1 L1012.2,376.9 L1013.0,377.6 L1013.7,378.4 L1014.5,379.1 L1015.2,379.8 L1016.0,380.6 L1016.8,381.3 L1017.5,382.0 L1018.3,382.7 L1019.1,383.4 L1019.9,384.1 L1020.7,384.8 L1021.5,385.5 L1022.3,386.2 L1023.2,386.8 L1024.0,387.5 L1024.8,388.2 L1025.7,388.8 L1026.5,389.5 L1027.3,390.1 L1028.2,390.8 L1029.1,391.4 L1029.9,392.0 L1030.8,392.7 L1031.7,393.3 L1032.5,393.9 L1033.4,394.5 L1034.3,395.1 L1035.2,395.7 L1036.1,396.3 L1037.0,396.9 L1037.9,397.5 L1038.8,398.1 L1039.7,398.7 L1040.6,399.3 L1041.6,399.9 L1042.5,400.4 L1043.4,401.0 L1044.3,401.6 L1045.3,402.2 L1046.2,402.7 L1047.1,403.3 L1048.0,403.9 L1049.0,404.4 L1049.9,405.0 L1050.8,405.6 L1051.8,406.1 L1052.7,406.7 L1053.6,407.3 L1054.6,407.8 L1055.5,408.4 L1056.4,409.0 L1057.4,409.5 L1058.3,410.1 L1059.3,410.7 L1060.2,411.2 L1061.1,411.8 L1062.1,412.3 L1063.0,412.9 L1063.9,413.5 L1064.9,414.0 L1065.8,414.6 L1066.8,415.1 L1067.7,415.7 L1068.7,416.3 L1069.6,416.8 L1070.5,417.4 L1071.5,417.9 L1072.4,418.5 L1073.4,419.0 L1074.3,419.6 L1075.3,420.1 L1076.2,420.7 L1077.2,421.2 L1078.1,421.8 L1079.1,422.3 L1080.0,422.9 L1081.0,423.4 L1081.9,424.0 L1082.9,424.5 L1083.8,425.0 L1084.8,425.6 L1085.8,426.1 L1086.7,426.7 L1087.7,427.2 L1088.6,427.8 L1089.6,428.3 L1090.6,428.8 L1091.5,429.4 L1092.5,429.9 L1093.5,430.4 L1094.4,431.0 L1095.4,431.5 L1096.4,432.0 L1097.3,432.6 L1098.3,433.1 L1099.3,433.6 L1100.0,434.0" fill="none" stroke="#ea5575" stroke-width="4.25" stroke-linejoin="round" stroke-linecap="square"/>
</g>
<line x1="189.00" y1="620.20" x2="258.60" y2="620.20" stroke="#878787" stroke-width="4.25" stroke-linecap="butt"/>
<text x="283.15" y="629.40" font-family="'DejaVu Sans','Liberation Sans',sans-serif" font-size="32.60">Al</text><text x="314.23" y="634.80" font-family="'DejaVu Sans','Liberation Sans',sans-serif" font-size="22.82">2</text><text x="329.77" y="629.40" font-family="'DejaVu Sans','Liberation Sans',sans-serif" font-size="32.60">O</text><text x="355.86" y="634.80" font-family="'DejaVu Sans','Liberation Sans',sans-serif" font-size="22.82">3</text>
<line x1="189.00" y1="669.30" x2="258.60" y2="669.30" stroke="#047fa3" stroke-width="4.25" stroke-linecap="butt"/>
<text x="282.40" y="681.00" font-family="'DejaVu Sans','Liberation Sans',sans-serif" font-size="32.60">Fe</text><text x="321.83" y="686.40" font-family="'DejaVu Sans','Liberation Sans',sans-serif" font-size="22.82">2</text><text x="337.37" y="681.00" font-family="'DejaVu Sans','Liberation Sans',sans-serif" font-size="32.60">O</text><text x="363.16" y="686.40" font-family="'DejaVu Sans','Liberation Sans',sans-serif" font-size="22.82">3</text>
<line x1="189.00" y1="720.50" x2="258.60" y2="720.50" stroke="#3cc46a" stroke-width="4.25" stroke-linecap="butt"/>
<text x="282.10" y="730.20" font-family="'DejaVu Sans','Liberation Sans',sans-serif" font-size="32.60">Mg</text><text x="331.53" y="735.60" font-family="'DejaVu Sans','Liberation Sans',sans-serif" font-size="22.82">2</text><text x="347.25" y="730.20" font-family="'DejaVu Sans','Liberation Sans',sans-serif" font-size="32.60">SiO</text><text x="402.99" y="735.60" font-family="'DejaVu Sans','Liberation Sans',sans-serif" font-size="22.82">4</text>
<line x1="189.00" y1="772.60" x2="258.60" y2="772.60" stroke="#ea5575" stroke-width="4.25" stroke-linecap="butt"/>
<text x="282.10" y="781.60" font-family="'DejaVu Sans','Liberation Sans',sans-serif" font-size="32.60">MgSiO</text><text x="386.66" y="787.00" font-family="'DejaVu Sans','Liberation Sans',sans-serif" font-size="22.82">3</text>
<g stroke="#000" stroke-opacity="0.5" stroke-width="2.6" fill="none">
<rect x="826.5" y="58.7" width="37.10000000000002" height="393.3"/>
<line x1="606.1" y1="24.0" x2="863.6" y2="58.7"/>
<line x1="606.1" y1="359.3" x2="826.5" y2="452.0"/>
</g>
<rect x="161.85" y="1.0" width="931.4499999999999" height="820.3" fill="none" stroke="#000" stroke-width="2.18"/>
<line x1="161.85" y1="816.01" x2="156.41" y2="816.01" stroke="#000" stroke-width="2.18"/><line x1="161.85" y1="809.32" x2="156.41" y2="809.32" stroke="#000" stroke-width="2.18"/><line x1="161.85" y1="803.41" x2="156.41" y2="803.41" stroke="#000" stroke-width="2.18"/><line x1="161.85" y1="798.12" x2="152.33" y2="798.12" stroke="#000" stroke-width="2.18"/><line x1="161.85" y1="763.35" x2="156.41" y2="763.35" stroke="#000" stroke-width="2.18"/><line x1="161.85" y1="743.00" x2="156.41" y2="743.00" stroke="#000" stroke-width="2.18"/><line x1="161.85" y1="728.57" x2="156.41" y2="728.57" stroke="#000" stroke-width="2.18"/><line x1="161.85" y1="717.37" x2="156.41" y2="717.37" stroke="#000" stroke-width="2.18"/><line x1="161.85" y1="708.23" x2="156.41" y2="708.23" stroke="#000" stroke-width="2.18"/><line x1="161.85" y1="700.49" x2="156.41" y2="700.49" stroke="#000" stroke-width="2.18"/><line x1="161.85" y1="693.80" x2="156.41" y2="693.80" stroke="#000" stroke-width="2.18"/><line x1="161.85" y1="687.89" x2="156.41" y2="687.89" stroke="#000" stroke-width="2.18"/><line x1="161.85" y1="682.60" x2="152.33" y2="682.60" stroke="#000" stroke-width="2.18"/><line x1="161.85" y1="647.83" x2="156.41" y2="647.83" stroke="#000" stroke-width="2.18"/><line x1="161.85" y1="627.48" x2="156.41" y2="627.48" stroke="#000" stroke-width="2.18"/><line x1="161.85" y1="613.05" x2="156.41" y2="613.05" stroke="#000" stroke-width="2.18"/><line x1="161.85" y1="601.85" x2="156.41" y2="601.85" stroke="#000" stroke-width="2.18"/><line x1="161.85" y1="592.71" x2="156.41" y2="592.71" stroke="#000" stroke-width="2.18"/><line x1="161.85" y1="584.97" x2="156.41" y2="584.97" stroke="#000" stroke-width="2.18"/><line x1="161.85" y1="578.28" x2="156.41" y2="578.28" stroke="#000" stroke-width="2.18"/><line x1="161.85" y1="572.37" x2="156.41" y2="572.37" stroke="#000" stroke-width="2.18"/><line x1="161.85" y1="567.08" x2="152.33" y2="567.08" stroke="#000" stroke-width="2.18"/><line x1="161.85" y1="532.31" x2="156.41" y2="532.31" stroke="#000" stroke-width="2.18"/><line x1="161.85" y1="511.96" x2="156.41" y2="511.96" stroke="#000" stroke-width="2.18"/><line x1="161.85" y1="497.53" x2="156.41" y2="497.53" stroke="#000" stroke-width="2.18"/><line x1="161.85" y1="486.33" x2="156.41" y2="486.33" stroke="#000" stroke-width="2.18"/><line x1="161.85" y1="477.19" x2="156.41" y2="477.19" stroke="#000" stroke-width="2.18"/><line x1="161.85" y1="469.45" x2="156.41" y2="469.45" stroke="#000" stroke-width="2.18"/><line x1="161.85" y1="462.76" x2="156.41" y2="462.76" stroke="#000" stroke-width="2.18"/><line x1="161.85" y1="456.85" x2="156.41" y2="456.85" stroke="#000" stroke-width="2.18"/><line x1="161.85" y1="451.56" x2="152.33" y2="451.56" stroke="#000" stroke-width="2.18"/><line x1="161.85" y1="416.79" x2="156.41" y2="416.79" stroke="#000" stroke-width="2.18"/><line x1="161.85" y1="396.44" x2="156.41" y2="396.44" stroke="#000" stroke-width="2.18"/><line x1="161.85" y1="382.01" x2="156.41" y2="382.01" stroke="#000" stroke-width="2.18"/><line x1="161.85" y1="370.81" x2="156.41" y2="370.81" stroke="#000" stroke-width="2.18"/><line x1="161.85" y1="361.67" x2="156.41" y2="361.67" stroke="#000" stroke-width="2.18"/><line x1="161.85" y1="353.93" x2="156.41" y2="353.93" stroke="#000" stroke-width="2.18"/><line x1="161.85" y1="347.24" x2="156.41" y2="347.24" stroke="#000" stroke-width="2.18"/><line x1="161.85" y1="341.33" x2="156.41" y2="341.33" stroke="#000" stroke-width="2.18"/><line x1="161.85" y1="336.04" x2="152.33" y2="336.04" stroke="#000" stroke-width="2.18"/><line x1="161.85" y1="301.27" x2="156.41" y2="301.27" stroke="#000" stroke-width="2.18"/><line x1="161.85" y1="280.92" x2="156.41" y2="280.92" stroke="#000" stroke-width="2.18"/><line x1="161.85" y1="266.49" x2="156.41" y2="266.49" stroke="#000" stroke-width="2.18"/><line x1="161.85" y1="255.29" x2="156.41" y2="255.29" stroke="#000" stroke-width="2.18"/><line x1="161.85" y1="246.15" x2="156.41" y2="246.15" stroke="#000" stroke-width="2.18"/><line x1="161.85" y1="238.41" x2="156.41" y2="238.41" stroke="#000" stroke-width="2.18"/><line x1="161.85" y1="231.72" x2="156.41" y2="231.72" stroke="#000" stroke-width="2.18"/><line x1="161.85" y1="225.81" x2="156.41" y2="225.81" stroke="#000" stroke-width="2.18"/><line x1="161.85" y1="220.52" x2="152.33" y2="220.52" stroke="#000" stroke-width="2.18"/><line x1="161.85" y1="185.75" x2="156.41" y2="185.75" stroke="#000" stroke-width="2.18"/><line x1="161.85" y1="165.40" x2="156.41" y2="165.40" stroke="#000" stroke-width="2.18"/><line x1="161.85" y1="150.97" x2="156.41" y2="150.97" stroke="#000" stroke-width="2.18"/><line x1="161.85" y1="139.77" x2="156.41" y2="139.77" stroke="#000" stroke-width="2.18"/><line x1="161.85" y1="130.63" x2="156.41" y2="130.63" stroke="#000" stroke-width="2.18"/><line x1="161.85" y1="122.89" x2="156.41" y2="122.89" stroke="#000" stroke-width="2.18"/><line x1="161.85" y1="116.20" x2="156.41" y2="116.20" stroke="#000" stroke-width="2.18"/><line x1="161.85" y1="110.29" x2="156.41" y2="110.29" stroke="#000" stroke-width="2.18"/><line x1="161.85" y1="105.00" x2="152.33" y2="105.00" stroke="#000" stroke-width="2.18"/><line x1="161.85" y1="70.23" x2="156.41" y2="70.23" stroke="#000" stroke-width="2.18"/><line x1="161.85" y1="49.88" x2="156.41" y2="49.88" stroke="#000" stroke-width="2.18"/><line x1="161.85" y1="35.45" x2="156.41" y2="35.45" stroke="#000" stroke-width="2.18"/><line x1="161.85" y1="24.25" x2="156.41" y2="24.25" stroke="#000" stroke-width="2.18"/><line x1="161.85" y1="15.11" x2="156.41" y2="15.11" stroke="#000" stroke-width="2.18"/><line x1="161.85" y1="7.37" x2="156.41" y2="7.37" stroke="#000" stroke-width="2.18"/><line x1="161.85" y1="0.68" x2="156.41" y2="0.68" stroke="#000" stroke-width="2.18"/><line x1="229.70" y1="821.30" x2="229.70" y2="830.82" stroke="#000" stroke-width="2.18"/><line x1="310.80" y1="821.30" x2="310.80" y2="830.82" stroke="#000" stroke-width="2.18"/><line x1="412.98" y1="821.30" x2="412.98" y2="830.82" stroke="#000" stroke-width="2.18"/><line x1="551.63" y1="821.30" x2="551.63" y2="830.82" stroke="#000" stroke-width="2.18"/><line x1="690.27" y1="821.30" x2="690.27" y2="830.82" stroke="#000" stroke-width="2.18"/><line x1="802.21" y1="821.30" x2="802.21" y2="830.82" stroke="#000" stroke-width="2.18"/><line x1="910.02" y1="821.30" x2="910.02" y2="830.82" stroke="#000" stroke-width="2.18"/><line x1="1012.20" y1="821.30" x2="1012.20" y2="830.82" stroke="#000" stroke-width="2.18"/><line x1="1093.30" y1="821.30" x2="1093.30" y2="830.82" stroke="#000" stroke-width="2.18"/><line x1="172.16" y1="821.30" x2="172.16" y2="826.74" stroke="#000" stroke-width="2.18"/><line x1="274.33" y1="821.30" x2="274.33" y2="826.74" stroke="#000" stroke-width="2.18"/><line x1="341.64" y1="821.30" x2="341.64" y2="826.74" stroke="#000" stroke-width="2.18"/><line x1="368.35" y1="821.30" x2="368.35" y2="826.74" stroke="#000" stroke-width="2.18"/><line x1="391.91" y1="821.30" x2="391.91" y2="826.74" stroke="#000" stroke-width="2.18"/><line x1="632.73" y1="821.30" x2="632.73" y2="826.74" stroke="#000" stroke-width="2.18"/><line x1="734.90" y1="821.30" x2="734.90" y2="826.74" stroke="#000" stroke-width="2.18"/><line x1="771.37" y1="821.30" x2="771.37" y2="826.74" stroke="#000" stroke-width="2.18"/><line x1="828.92" y1="821.30" x2="828.92" y2="826.74" stroke="#000" stroke-width="2.18"/><line x1="852.48" y1="821.30" x2="852.48" y2="826.74" stroke="#000" stroke-width="2.18"/>
<text x="229.70" y="860.8" text-anchor="middle" font-family="'DejaVu Sans','Liberation Sans',sans-serif" font-size="27.17">0.4</text>
<text x="310.80" y="860.8" text-anchor="middle" font-family="'DejaVu Sans','Liberation Sans',sans-serif" font-size="27.17">0.6</text>
<text x="412.98" y="860.8" text-anchor="middle" font-family="'DejaVu Sans','Liberation Sans',sans-serif" font-size="27.17">1.0</text>
<text x="551.63" y="860.8" text-anchor="middle" font-family="'DejaVu Sans','Liberation Sans',sans-serif" font-size="27.17">2.0</text>
<text x="690.27" y="860.8" text-anchor="middle" font-family="'DejaVu Sans','Liberation Sans',sans-serif" font-size="27.17">4.0</text>
<text x="802.21" y="860.8" text-anchor="middle" font-family="'DejaVu Sans','Liberation Sans',sans-serif" font-size="27.17">7.0</text>
<text x="910.02" y="860.8" text-anchor="middle" font-family="'DejaVu Sans','Liberation Sans',sans-serif" font-size="27.17">12.0</text>
<text x="1012.20" y="860.8" text-anchor="middle" font-family="'DejaVu Sans','Liberation Sans',sans-serif" font-size="27.17">20.0</text>
<text x="1093.30" y="860.8" text-anchor="middle" font-family="'DejaVu Sans','Liberation Sans',sans-serif" font-size="27.17">30.0</text>
<text x="464.10" y="906.5" font-family="'DejaVu Sans','Liberation Sans',sans-serif" font-size="38.04" letter-spacing="0.12">Wavelength / µm</text>
<rect x="188.0" y="24.0" width="418.1" height="335.3" fill="#fff"/>
<line x1="370.92" y1="359.3" x2="370.92" y2="24.0" stroke="#808080" stroke-width="3.26" stroke-dasharray="12.07 5.2" clip-path="url(#cli)"/>
<g clip-path="url(#cli)">
<path d="M215.0,361.0 L216.3,360.8 L217.6,360.6 L218.9,360.4 L220.2,360.2 L221.5,360.0 L222.8,359.8 L224.1,359.6 L225.4,359.4 L226.7,359.2 L228.0,359.0 L229.3,358.9 L230.7,358.7 L232.0,358.5 L233.3,358.3 L234.6,358.1 L235.9,357.9 L237.2,357.7 L238.5,357.6 L239.9,357.4 L241.2,357.2 L242.5,357.0 L243.8,356.8 L245.1,356.7 L246.5,356.5 L247.8,356.3 L249.1,356.1 L250.4,355.9 L251.8,355.8 L253.1,355.6 L254.4,355.4 L255.7,355.3 L257.1,355.1 L258.4,354.9 L259.7,354.8 L261.1,354.6 L262.4,354.4 L263.7,354.3 L265.1,354.1 L266.4,353.9 L267.8,353.8 L269.1,353.6 L270.4,353.5 L271.8,353.3 L273.1,353.1 L274.5,353.0 L275.8,352.8 L277.1,352.7 L278.5,352.5 L279.8,352.4 L281.2,352.2 L282.5,352.1 L283.9,351.9 L285.2,351.8 L286.6,351.6 L287.9,351.5 L289.3,351.3 L290.7,351.2 L292.0,351.0 L293.4,350.9 L294.7,350.8 L296.1,350.6 L297.4,350.5 L298.8,350.3 L300.2,350.2 L301.5,350.1 L302.9,349.9 L304.3,349.8 L305.6,349.7 L307.0,349.5 L308.3,349.4 L309.7,349.3 L311.1,349.1 L312.5,349.0 L313.8,348.9 L315.2,348.7 L316.6,348.6 L317.9,348.5 L319.3,348.4 L320.7,348.2 L322.1,348.1 L323.4,348.0 L324.8,347.9 L326.2,347.7 L327.6,347.6 L329.0,347.5 L330.3,347.4 L331.7,347.3 L333.1,347.2 L334.5,347.0 L335.9,346.9 L337.3,346.8 L338.7,346.7 L340.0,346.6 L341.4,346.5 L342.8,346.4 L344.2,346.3 L345.6,346.1 L347.0,346.0 L348.4,345.9 L349.8,345.8 L351.2,345.7 L352.6,345.6 L354.0,345.5 L355.4,345.4 L356.8,345.3 L358.1,345.2 L359.5,345.1 L360.9,345.0 L362.3,344.9 L363.7,344.8 L365.1,344.7 L366.5,344.6 L367.9,344.5 L369.3,344.4 L370.7,344.3 L372.1,344.2 L373.5,344.1 L375.0,344.0 L376.4,343.9 L377.8,343.8 L379.2,343.7 L380.6,343.6 L382.0,343.5 L383.4,343.4 L384.8,343.3 L386.2,343.2 L387.6,343.2 L389.0,343.1 L390.4,343.0 L391.8,342.9 L393.2,342.8 L394.6,342.7 L396.0,342.6 L397.4,342.5 L398.9,342.4 L400.3,342.3 L401.7,342.2 L403.1,342.1 L404.5,342.0 L405.9,342.0 L407.3,341.9 L408.7,341.8 L410.1,341.7 L411.5,341.6 L412.9,341.5 L414.4,341.4 L415.8,341.3 L417.2,341.2 L418.6,341.1 L420.0,341.0 L421.4,341.0 L422.8,340.9 L424.2,340.8 L425.6,340.7 L427.0,340.6 L428.4,340.5 L429.8,340.4 L431.2,340.3 L432.7,340.2 L434.1,340.1 L435.5,340.0 L436.9,339.9 L438.3,339.8 L439.7,339.7 L441.1,339.6 L442.5,339.5 L443.9,339.5 L445.3,339.4 L446.7,339.3 L448.1,339.2 L449.5,339.1 L450.9,339.0 L452.3,338.9 L453.7,338.8 L455.1,338.7 L456.5,338.6 L457.9,338.5 L459.3,338.4 L460.7,338.3 L462.1,338.2 L463.5,338.1 L464.9,338.0 L466.3,337.9 L467.7,337.8 L469.1,337.6 L470.5,337.5 L471.9,337.4 L473.3,337.3 L474.7,337.2 L474.9,337.2 L474.9,337.2 L476.2,337.0 L477.5,336.8 L478.8,336.6 L480.1,336.4 L481.4,336.2 L482.7,336.0 L484.0,335.8 L485.3,335.6 L486.6,335.4 L487.9,335.2 L489.2,335.0 L490.5,334.8 L491.8,334.6 L493.1,334.4 L494.4,334.2 L495.7,334.0 L497.0,333.8 L498.3,333.6 L499.6,333.4 L500.9,333.2 L502.2,333.0 L503.5,332.8 L504.8,332.6 L506.1,332.4 L507.4,332.2 L508.7,332.0 L510.0,331.8 L511.4,331.7 L512.7,331.5 L514.0,331.3 L515.3,331.1 L516.6,330.9 L517.9,330.7 L519.2,330.5 L520.5,330.3 L521.8,330.1 L523.1,329.9 L524.4,329.8 L525.8,329.6 L527.1,329.4 L528.4,329.2 L529.7,329.0 L531.0,328.8 L532.3,328.6 L533.6,328.4 L535.0,328.3 L536.3,328.1 L537.6,327.9 L538.9,327.7 L540.2,327.5 L541.5,327.3 L542.9,327.2 L544.2,327.0 L545.5,326.8 L546.8,326.6 L548.1,326.4 L549.5,326.3 L550.8,326.1 L552.1,325.9 L553.4,325.7 L554.7,325.6 L556.1,325.4 L557.4,325.2 L558.7,325.0 L560.0,324.9 L561.4,324.7 L562.7,324.5 L564.0,324.3 L565.3,324.2 L566.7,324.0 L568.0,323.8 L569.3,323.7 L570.7,323.5 L572.0,323.3 L573.3,323.1 L574.7,323.0 L576.0,322.8 L577.3,322.6 L578.7,322.5 L580.0,322.3 L581.3,322.2 L582.7,322.0 L584.0,321.8 L585.3,321.7 L586.7,321.5 L588.0,321.3 L589.4,321.2 L590.7,321.0 L592.0,320.9 L593.4,320.7 L594.7,320.5 L596.1,320.4 L597.4,320.2 L598.8,320.1 L600.1,319.9 L601.4,319.8 L602.8,319.6 L604.1,319.5 L605.5,319.3 L606.8,319.2 L608.2,319.0 L609.5,318.9 L610.9,318.7 L612.0,318.6" fill="none" stroke="#878787" stroke-width="4.25" stroke-linejoin="round" stroke-linecap="square"/>
<path d="M183.0,254.5 L184.1,254.1 L185.3,253.8 L186.4,253.4 L187.5,253.0 L188.6,252.6 L189.7,252.2 L190.8,251.8 L191.9,251.3 L193.0,250.9 L194.0,250.5 L195.1,250.0 L196.1,249.6 L197.2,249.1 L198.2,248.7 L199.3,248.2 L200.3,247.7 L201.3,247.2 L202.3,246.8 L203.4,246.3 L204.4,245.8 L205.4,245.3 L206.4,244.8 L207.4,244.3 L208.4,243.7 L209.3,243.2 L210.3,242.7 L211.3,242.2 L212.3,241.6 L213.2,241.1 L214.2,240.6 L215.1,240.0 L216.1,239.5 L217.0,238.9 L218.0,238.3 L218.9,237.8 L219.9,237.2 L220.8,236.6 L221.7,236.1 L222.7,235.5 L223.6,234.9 L224.5,234.3 L225.4,233.8 L226.3,233.2 L227.2,232.6 L228.2,232.0 L229.1,231.4 L230.0,230.8 L230.9,230.2 L231.8,229.6 L232.6,229.0 L233.5,228.3 L234.4,227.7 L235.3,227.1 L236.2,226.5 L237.1,225.9 L238.0,225.2 L238.8,224.6 L239.7,224.0 L240.6,223.4 L241.4,222.7 L242.3,222.1 L243.2,221.5 L244.0,220.8 L244.9,220.2 L245.7,219.5 L246.6,218.9 L247.5,218.2 L248.3,217.6 L249.2,216.9 L250.0,216.3 L250.8,215.6 L251.7,215.0 L252.5,214.3 L253.4,213.6 L254.2,213.0 L255.0,212.3 L255.9,211.6 L256.7,211.0 L257.5,210.3 L258.4,209.6 L259.2,209.0 L260.0,208.3 L260.9,207.6 L261.7,206.9 L262.5,206.3 L263.3,205.6 L264.1,204.9 L265.0,204.2 L265.8,203.5 L266.6,202.8 L267.4,202.2 L268.2,201.5 L269.0,200.8 L269.9,200.1 L270.7,199.4 L271.5,198.7 L272.3,198.0 L273.1,197.3 L273.9,196.6 L274.7,195.9 L275.5,195.2 L276.3,194.5 L277.1,193.8 L277.9,193.1 L278.7,192.4 L279.5,191.7 L280.3,191.0 L281.1,190.3 L281.9,189.6 L282.6,188.8 L283.4,188.1 L284.2,187.4 L285.0,186.7 L285.7,185.9 L286.5,185.2 L287.2,184.4 L288.0,183.7 L288.8,182.9 L289.5,182.2 L290.2,181.4 L291.0,180.6 L291.7,179.9 L292.4,179.1 L293.2,178.3 L293.9,177.5 L294.6,176.7 L295.3,175.9 L296.0,175.1 L296.7,174.3 L297.4,173.5 L298.1,172.7 L298.8,171.9 L299.4,171.0 L300.1,170.2 L300.8,169.4 L301.4,168.5 L302.1,167.7 L302.8,166.8 L303.4,166.0 L304.0,165.1 L304.7,164.2 L305.3,163.4 L305.9,162.5 L306.6,161.6 L307.2,160.7 L307.8,159.8 L308.4,158.9 L309.0,158.0 L309.6,157.1 L310.2,156.2 L310.8,155.3 L311.4,154.4 L311.9,153.4 L312.5,152.5 L313.1,151.6 L313.7,150.6 L314.2,149.7 L314.8,148.7 L315.3,147.8 L315.9,146.8 L316.4,145.9 L317.0,144.9 L317.5,143.9 L318.0,142.9 L318.5,142.0 L319.1,141.0 L319.6,140.0 L320.1,139.0 L320.6,138.0 L321.1,137.0 L321.6,136.0 L322.1,135.0 L322.6,134.0 L323.1,133.0 L323.6,132.0 L324.1,131.0 L324.6,129.9 L325.1,128.9 L325.5,127.9 L326.0,126.8 L326.5,125.8 L326.9,124.8 L327.4,123.7 L327.9,122.7 L328.3,121.6 L328.8,120.6 L329.2,119.5 L329.7,118.5 L330.1,117.4 L330.5,116.3 L331.0,115.3 L331.4,114.2 L331.8,113.1 L332.3,112.0 L332.7,110.9 L333.1,109.9 L333.5,108.8 L333.9,107.7 L334.4,106.6 L334.8,105.5 L335.2,104.4 L335.6,103.3 L336.0,102.2 L336.4,101.1 L336.8,100.0 L337.2,98.8 L337.5,97.7 L337.9,96.6 L338.3,95.5 L338.7,94.4 L339.1,93.2 L339.5,92.1 L339.8,91.0 L340.2,89.9 L340.6,88.7 L341.0,87.6 L341.3,86.5 L341.7,85.4 L342.1,84.3 L342.5,83.2 L342.9,82.0 L343.2,80.9 L343.6,79.8 L344.0,78.7 L344.4,77.7 L344.8,76.6 L345.3,75.5 L345.7,74.4 L346.1,73.4 L346.6,72.4 L347.0,71.3 L347.5,70.3 L348.0,69.4 L348.5,68.4 L349.0,67.5 L349.6,66.6 L350.2,65.8 L350.9,65.0 L351.6,64.4 L352.5,63.8 L353.5,63.5 L354.7,63.5 L356.0,63.9 L356.9,64.6 L357.8,65.4 L358.5,66.3 L359.1,67.2 L359.7,68.1 L360.3,69.1 L360.8,70.1 L361.3,71.1 L361.8,72.2 L362.3,73.2 L362.8,74.3 L363.2,75.3 L363.7,76.4 L364.1,77.5 L364.5,78.5 L365.0,79.6 L365.4,80.7 L365.8,81.8 L366.2,82.8 L366.7,83.9 L367.1,85.0 L367.5,86.0 L368.0,87.1 L368.4,88.2 L368.8,89.3 L369.2,90.3 L369.7,91.4 L370.1,92.5 L370.5,93.5 L371.0,94.6 L371.4,95.6 L371.8,96.7 L372.3,97.8 L372.7,98.8 L373.2,99.9 L373.6,101.0 L374.0,102.0 L374.5,103.1 L374.9,104.1 L375.4,105.2 L375.8,106.3 L376.2,107.3 L376.7,108.4 L377.1,109.4 L377.6,110.5 L378.0,111.5 L378.5,112.6 L378.9,113.6 L379.4,114.7 L379.8,115.7 L380.3,116.8 L380.7,117.8 L381.2,118.9 L381.6,119.9 L382.1,121.0 L382.5,122.0 L383.0,123.1 L383.4,124.1 L383.9,125.1 L384.3,126.2 L384.8,127.2 L385.3,128.3 L385.7,129.3 L386.2,130.3 L386.6,131.4 L387.1,132.4 L387.6,133.4 L388.0,134.5 L388.5,135.5 L389.0,136.5 L389.4,137.6 L389.9,138.6 L390.4,139.6 L390.9,140.7 L391.3,141.7 L391.8,142.7 L392.3,143.7 L392.7,144.8 L393.2,145.8 L393.7,146.8 L394.2,147.8 L394.7,148.8 L395.1,149.9 L395.6,150.9 L396.1,151.9 L396.6,152.9 L397.1,153.9 L397.6,154.9 L398.0,155.9 L398.5,156.9 L399.0,158.0 L399.5,159.0 L400.0,160.0 L400.5,161.0 L401.0,162.0 L401.5,163.0 L402.0,164.0 L402.5,165.0 L403.0,166.0 L403.5,167.0 L404.0,168.0 L404.5,169.0 L405.0,169.9 L405.5,170.9 L406.0,171.9 L406.5,172.9 L407.0,173.9 L407.6,174.9 L408.1,175.8 L408.6,176.8 L409.1,177.8 L409.6,178.8 L410.2,179.7 L410.7,180.7 L411.2,181.7 L411.8,182.6 L412.3,183.6 L412.9,184.5 L413.4,185.5 L413.9,186.4 L414.5,187.4 L415.0,188.3 L415.6,189.3 L416.2,190.2 L416.7,191.1 L417.3,192.1 L417.9,193.0 L418.4,193.9 L419.0,194.8 L419.6,195.7 L420.2,196.6 L420.8,197.5 L421.4,198.4 L422.0,199.3 L422.6,200.2 L423.2,201.1 L423.8,202.0 L424.4,202.9 L425.1,203.7 L425.7,204.6 L426.3,205.5 L426.9,206.3 L427.6,207.2 L428.2,208.0 L428.9,208.9 L429.5,209.7 L430.2,210.6 L430.8,211.4 L431.5,212.2 L432.2,213.1 L432.8,213.9 L433.5,214.7 L434.2,215.5 L434.9,216.3 L435.6,217.2 L436.3,218.0 L437.0,218.8 L437.6,219.6 L438.3,220.4 L439.0,221.2 L439.8,221.9 L440.5,222.7 L441.2,223.5 L441.9,224.3 L442.6,225.1 L443.3,225.9 L444.1,226.6 L444.8,227.4 L445.5,228.2 L446.2,228.9 L447.0,229.7 L447.7,230.5 L448.5,231.2 L449.2,232.0 L449.9,232.7 L450.7,233.5 L451.4,234.2 L452.2,234.9 L453.0,235.7 L453.7,236.4 L454.5,237.2 L455.3,237.9 L456.0,238.6 L456.8,239.3 L457.6,240.1 L458.4,240.8 L459.1,241.5 L459.9,242.2 L460.7,242.9 L461.5,243.6 L462.3,244.3 L463.1,245.0 L463.9,245.7 L464.7,246.4 L465.5,247.1 L466.3,247.8 L467.1,248.4 L468.0,249.1 L468.8,249.8 L469.6,250.5 L470.4,251.1 L471.3,251.8 L472.1,252.5 L472.9,253.1 L473.8,253.8 L474.6,254.4 L475.5,255.1 L476.3,255.7 L477.2,256.4 L478.0,257.0 L478.9,257.7 L479.8,258.3 L480.6,258.9 L481.5,259.5 L482.4,260.2 L483.2,260.8 L484.1,261.4 L485.0,262.0 L485.9,262.6 L486.8,263.2 L487.7,263.8 L488.6,264.5 L489.5,265.0 L490.4,265.6 L491.3,266.2 L492.2,266.8 L493.1,267.4 L494.0,268.0 L494.9,268.6 L495.8,269.2 L496.8,269.7 L497.7,270.3 L498.6,270.9 L499.5,271.4 L500.5,272.0 L501.4,272.6 L502.4,273.1 L503.3,273.7 L504.2,274.2 L505.2,274.8 L506.1,275.3 L507.1,275.9 L508.1,276.4 L509.0,277.0 L510.0,277.5 L510.9,278.0 L511.9,278.6 L512.9,279.1 L513.8,279.6 L514.8,280.1 L515.8,280.7 L516.8,281.2 L517.7,281.7 L518.7,282.2 L519.7,282.7 L520.7,283.3 L521.7,283.8 L522.7,284.3 L523.7,284.8 L524.6,285.3 L525.6,285.8 L526.6,286.3 L527.6,286.8 L528.6,287.3 L529.6,287.8 L530.6,288.3 L531.6,288.8 L532.6,289.3 L533.6,289.8 L534.6,290.3 L535.6,290.8 L536.7,291.3 L537.7,291.8 L538.7,292.3 L539.7,292.8 L540.7,293.2 L541.7,293.7 L542.7,294.2 L543.7,294.7 L544.7,295.2 L545.7,295.7 L546.8,296.2 L547.8,296.7 L548.8,297.2 L549.8,297.6 L550.8,298.1 L551.8,298.6 L552.8,299.1 L553.8,299.6 L554.8,300.1 L555.8,300.6 L556.9,301.1 L557.9,301.6 L558.9,302.1 L559.9,302.6 L560.9,303.1 L561.9,303.5 L562.9,304.0 L563.9,304.5 L564.9,305.0 L565.9,305.5 L566.9,306.0 L567.9,306.5 L568.9,307.0 L570.0,307.5 L571.0,308.0 L572.0,308.5 L573.0,308.9 L574.0,309.4 L575.0,309.9 L576.0,310.4 L577.0,310.9 L578.1,311.4 L579.1,311.9 L580.1,312.3 L581.1,312.8 L582.1,313.3 L583.2,313.8 L584.2,314.2 L585.2,314.7 L586.2,315.2 L587.3,315.6 L588.3,316.1 L589.3,316.6 L590.4,317.0 L591.4,317.5 L592.5,317.9 L593.5,318.4 L594.6,318.8 L595.6,319.3 L596.7,319.7 L597.7,320.2 L598.8,320.6 L599.9,321.0 L600.9,321.5 L602.0,321.9 L603.1,322.3 L604.1,322.7 L605.2,323.1 L606.3,323.6 L607.4,324.0 L608.5,324.4 L609.6,324.8 L610.7,325.2 L611.8,325.5 L612.0,325.6" fill="none" stroke="#047fa3" stroke-width="4.25" stroke-linejoin="round" stroke-linecap="square"/>
<path d="M183.0,342.4 L184.3,342.2 L185.6,342.0 L186.9,341.8 L188.2,341.6 L189.5,341.4 L190.8,341.2 L192.1,341.0 L193.4,340.8 L194.7,340.6 L195.9,340.3 L197.2,340.1 L198.5,339.9 L199.8,339.7 L201.1,339.5 L202.4,339.3 L203.7,339.1 L205.0,338.9 L206.3,338.7 L207.6,338.5 L208.9,338.3 L210.2,338.1 L211.5,337.9 L212.7,337.6 L214.0,337.4 L215.3,337.2 L216.6,337.0 L217.9,336.8 L219.2,336.6 L220.5,336.4 L221.8,336.2 L223.1,336.0 L224.4,335.7 L225.6,335.5 L226.9,335.3 L228.2,335.1 L229.5,334.9 L230.8,334.7 L232.1,334.5 L233.4,334.3 L234.7,334.1 L235.9,333.8 L237.2,333.6 L238.5,333.4 L239.8,333.2 L241.1,333.0 L242.4,332.8 L243.7,332.6 L244.9,332.3 L246.2,332.1 L247.5,331.9 L248.8,331.7 L250.1,331.5 L251.4,331.3 L252.7,331.1 L253.9,330.8 L255.2,330.6 L256.5,330.4 L257.8,330.2 L259.1,330.0 L260.4,329.8 L261.6,329.5 L262.9,329.3 L264.2,329.1 L265.5,328.9 L266.8,328.7 L268.1,328.4 L269.3,328.2 L270.6,328.0 L271.9,327.8 L273.2,327.6 L274.5,327.4 L275.7,327.1 L277.0,326.9 L278.3,326.7 L279.6,326.5 L280.9,326.3 L282.2,326.0 L283.4,325.8 L284.7,325.6 L286.0,325.4 L287.3,325.2 L288.6,324.9 L289.8,324.7 L291.1,324.5 L292.4,324.3 L293.7,324.1 L294.9,323.8 L296.2,323.6 L297.5,323.4 L298.8,323.2 L300.1,323.0 L301.3,322.7 L302.6,322.5 L303.9,322.3 L305.2,322.1 L306.5,321.8 L307.7,321.6 L309.0,321.4 L310.3,321.2 L311.6,320.9 L312.8,320.7 L314.1,320.5 L315.4,320.3 L316.7,320.1 L317.9,319.8 L319.2,319.6 L320.5,319.4 L321.8,319.2 L323.0,318.9 L324.3,318.7 L325.6,318.5 L326.9,318.3 L328.1,318.0 L329.4,317.8 L330.7,317.6 L332.0,317.4 L333.2,317.1 L334.5,316.9 L335.8,316.7 L337.1,316.5 L338.3,316.2 L339.6,316.0 L340.9,315.8 L342.2,315.6 L343.4,315.3 L344.7,315.1 L346.0,314.9 L347.3,314.6 L348.5,314.4 L349.8,314.2 L351.1,314.0 L352.4,313.7 L353.6,313.5 L354.9,313.3 L356.2,313.1 L357.4,312.8 L358.7,312.6 L360.0,312.4 L361.3,312.1 L362.5,311.9 L363.8,311.7 L365.1,311.5 L366.3,311.2 L367.6,311.0 L368.9,310.8 L370.2,310.5 L371.4,310.3 L372.7,310.1 L374.0,309.9 L375.2,309.6 L376.5,309.4 L377.8,309.2 L379.1,308.9 L380.3,308.7 L381.6,308.5 L382.9,308.3 L384.1,308.0 L385.4,307.8 L386.7,307.6 L388.0,307.3 L389.2,307.1 L390.5,306.9 L391.8,306.6 L393.0,306.4 L394.3,306.2 L395.6,306.0 L396.8,305.7 L398.1,305.5 L399.4,305.3 L400.6,305.0 L401.9,304.8 L403.2,304.6 L404.5,304.3 L405.7,304.1 L407.0,303.9 L408.3,303.6 L409.5,303.4 L410.8,303.2 L412.1,302.9 L413.3,302.7 L414.6,302.5 L415.9,302.3 L417.1,302.0 L418.4,301.8 L419.7,301.6 L420.9,301.3 L422.2,301.1 L423.5,300.9 L424.7,300.6 L426.0,300.4 L427.3,300.2 L428.6,299.9 L429.8,299.7 L431.1,299.5 L432.4,299.2 L433.6,299.0 L434.9,298.8 L436.2,298.5 L437.4,298.3 L438.7,298.1 L440.0,297.8 L441.2,297.6 L442.5,297.4 L443.8,297.1 L445.0,296.9 L446.3,296.7 L447.6,296.4 L448.8,296.2 L450.1,296.0 L451.4,295.7 L452.6,295.5 L453.9,295.3 L455.2,295.0 L456.4,294.8 L457.7,294.6 L459.0,294.3 L460.2,294.1 L461.5,293.9 L462.8,293.6 L464.0,293.4 L465.3,293.2 L466.6,292.9 L467.8,292.7 L469.1,292.5 L470.4,292.2 L471.6,292.0 L472.9,291.8 L474.2,291.5 L475.4,291.3 L476.7,291.1 L478.0,290.8 L479.2,290.6 L480.5,290.4 L481.8,290.1 L483.0,289.9 L484.3,289.7 L485.6,289.4 L486.8,289.2 L488.1,289.0 L489.3,288.7 L490.6,288.5 L491.9,288.3 L493.1,288.0 L494.4,287.8 L495.7,287.6 L496.9,287.3 L498.2,287.1 L499.5,286.9 L500.7,286.6 L502.0,286.4 L503.3,286.2 L504.5,285.9 L505.8,285.7 L507.1,285.4 L508.3,285.2 L509.6,285.0 L510.9,284.7 L512.1,284.5 L513.4,284.3 L514.7,284.0 L515.9,283.8 L517.2,283.6 L518.5,283.3 L519.7,283.1 L521.0,282.9 L522.3,282.6 L523.5,282.4 L524.8,282.2 L526.1,281.9 L527.3,281.7 L528.6,281.5 L529.9,281.2 L531.1,281.0 L532.4,280.8 L533.6,280.5 L534.9,280.3 L536.2,280.1 L537.4,279.8 L538.7,279.6 L540.0,279.4 L541.2,279.1 L542.5,278.9 L543.8,278.7 L545.0,278.4 L546.3,278.2 L547.6,278.0 L548.8,277.7 L550.1,277.5 L551.4,277.3 L552.6,277.0 L553.9,276.8 L555.2,276.5 L556.4,276.3 L557.7,276.1 L559.0,275.8 L560.2,275.6 L561.5,275.4 L562.8,275.1 L564.0,274.9 L565.3,274.7 L566.6,274.4 L567.8,274.2 L569.1,274.0 L570.4,273.7 L571.6,273.5 L572.9,273.3 L574.2,273.0 L575.4,272.8 L576.7,272.6 L578.0,272.3 L579.2,272.1 L580.5,271.9 L581.8,271.6 L583.0,271.4 L584.3,271.2 L585.6,270.9 L586.8,270.7 L588.1,270.5 L589.4,270.2 L590.6,270.0 L591.9,269.8 L593.2,269.5 L594.4,269.3 L595.7,269.1 L597.0,268.9 L598.2,268.6 L599.5,268.4 L600.8,268.2 L602.0,267.9 L603.3,267.7 L604.6,267.5 L605.8,267.2 L607.1,267.0 L608.4,266.8 L609.6,266.5 L610.9,266.3 L612.0,266.1" fill="none" stroke="#3cc46a" stroke-width="4.25" stroke-linejoin="round" stroke-linecap="square"/>
<path d="M183.00,350.50 C183.00,350.50 186.94,349.26 188.90,348.60 C197.24,345.76 213.90,340.00 213.90,340.00 L213.9,340.0 L214.7,339.3 L215.5,338.6 L216.3,337.9 L217.2,337.3 L218.0,336.6 L218.8,335.9 L219.6,335.2 L220.5,334.6 L221.3,333.9 L222.1,333.2 L223.0,332.6 L223.8,331.9 L224.6,331.3 L225.5,330.6 L226.3,330.0 L227.2,329.3 L228.1,328.7 L228.9,328.1 L229.8,327.4 L230.6,326.8 L231.5,326.2 L232.4,325.5 L233.3,324.9 L234.1,324.3 L235.0,323.7 L235.9,323.1 L236.8,322.5 L237.7,321.8 L238.6,321.2 L239.5,320.6 L240.4,320.0 L241.3,319.4 L242.2,318.9 L243.1,318.3 L244.0,317.7 L244.9,317.1 L245.8,316.5 L246.7,315.9 L247.7,315.4 L248.6,314.8 L249.5,314.2 L250.5,313.7 L251.4,313.1 L252.3,312.6 L253.3,312.0 L254.2,311.5 L255.2,310.9 L256.1,310.4 L257.1,309.8 L258.1,309.3 L259.0,308.8 L260.0,308.2 L261.0,307.7 L261.9,307.2 L262.9,306.6 L263.9,306.1 L264.9,305.6 L265.9,305.1 L266.8,304.6 L267.8,304.1 L268.8,303.6 L269.8,303.1 L270.8,302.6 L271.8,302.1 L272.9,301.6 L273.9,301.1 L274.9,300.6 L275.9,300.2 L276.9,299.7 L277.9,299.2 L279.0,298.7 L280.0,298.3 L281.0,297.8 L282.1,297.4 L283.1,296.9 L284.1,296.4 L285.2,296.0 L286.2,295.5 L287.3,295.1 L288.3,294.6 L289.4,294.2 L290.5,293.8 L291.5,293.3 L292.6,292.9 L293.7,292.5 L294.7,292.0 L295.8,291.6 L296.9,291.2 L298.0,290.8 L299.0,290.4 L300.1,289.9 L301.2,289.5 L302.3,289.1 L303.4,288.7 L304.5,288.3 L305.6,287.9 L306.7,287.5 L307.8,287.1 L308.9,286.7 L310.0,286.3 L311.1,285.9 L312.2,285.6 L313.3,285.2 L314.5,284.8 L315.6,284.4 L316.7,284.0 L317.8,283.7 L319.0,283.3 L320.1,282.9 L321.2,282.6 L322.4,282.2 L323.5,281.8 L324.6,281.5 L325.8,281.1 L326.9,280.8 L328.1,280.4 L329.2,280.1 L330.3,279.7 L331.5,279.4 L332.7,279.0 L333.8,278.7 L335.0,278.3 L336.1,278.0 L337.3,277.7 L338.4,277.3 L339.6,277.0 L340.8,276.6 L341.9,276.3 L343.1,276.0 L344.3,275.7 L345.5,275.3 L346.6,275.0 L347.8,274.7 L349.0,274.4 L350.2,274.0 L351.3,273.7 L352.5,273.4 L353.7,273.1 L354.9,272.8 L356.1,272.4 L357.3,272.1 L358.4,271.8 L359.6,271.5 L360.8,271.2 L362.0,270.9 L363.2,270.6 L364.4,270.3 L365.6,270.0 L366.8,269.7 L368.0,269.3 L369.2,269.0 L370.3,268.7 L371.5,268.4 L372.7,268.1 L373.9,267.8 L375.1,267.5 L376.3,267.2 L377.5,266.9 L378.7,266.6 L379.9,266.3 L381.1,266.0 L382.3,265.7 L383.5,265.4 L384.7,265.1 L385.9,264.8 L387.1,264.5 L388.3,264.2 L389.5,263.9 L390.7,263.6 L391.9,263.3 L393.1,263.0 L394.3,262.7 L395.5,262.4 L396.8,262.1 L398.0,261.9 L399.2,261.6 L400.4,261.3 L401.6,261.0 L402.8,260.7 L404.0,260.4 L405.2,260.1 L406.4,259.8 L407.7,259.6 L408.9,259.3 L410.1,259.0 L411.3,258.7 L412.5,258.4 L413.7,258.1 L415.0,257.9 L416.2,257.6 L417.4,257.3 L418.6,257.0 L419.8,256.7 L421.1,256.5 L422.3,256.2 L423.5,255.9 L424.7,255.7 L426.0,255.4 L427.2,255.1 L428.4,254.9 L429.7,254.6 L430.9,254.3 L432.1,254.1 L433.4,253.8 L434.6,253.5 L435.9,253.3 L437.1,253.0 L438.3,252.8 L439.6,252.5 L440.8,252.2 L442.1,252.0 L443.3,251.7 L444.6,251.5 L445.8,251.2 L447.1,251.0 L448.3,250.7 L449.6,250.5 L450.8,250.3 L452.1,250.0 L453.4,249.8 L454.6,249.5 L455.9,249.3 L457.1,249.1 L458.4,248.8 L459.7,248.6 L460.9,248.4 L462.2,248.2 L463.5,247.9 L464.8,247.7 L466.0,247.5 L467.3,247.3 L468.6,247.0 L469.9,246.8 L471.2,246.6 L472.5,246.4 L473.7,246.2 L475.0,246.0 L476.3,245.8 L477.6,245.6 L478.9,245.4 L480.2,245.2 L481.5,245.0 L482.8,244.8 L484.1,244.6 L485.4,244.4 L486.7,244.2 L488.1,244.0 L489.4,243.8 L490.7,243.7 L492.0,243.5 L493.3,243.3 L494.7,243.1 L496.0,243.0 L497.3,242.8 L498.6,242.6 L500.0,242.5 L501.3,242.3 L502.7,242.1 L504.0,242.0 L505.4,241.8 L506.7,241.7 L508.1,241.5 L509.4,241.4 L510.8,241.2 L512.1,241.1 L513.5,241.0 L514.9,240.8 L516.2,240.7 L517.6,240.6 L519.0,240.5 L520.4,240.4 L521.7,240.2 L523.1,240.1 L524.5,240.0 L525.9,239.9 L527.3,239.8 L528.7,239.7 L530.1,239.6 L531.5,239.5 L532.9,239.4 L534.4,239.4 L535.8,239.3 L537.2,239.2 L538.6,239.1 L540.1,239.1 L541.5,239.0 L542.9,239.0 L544.4,238.9 L545.8,238.9 L547.3,238.8 L548.7,238.8 L550.2,238.7 L551.7,238.7 L553.1,238.7 L554.6,238.7 L556.1,238.6 L557.6,238.6 L559.1,238.6 L560.6,238.6 L562.1,238.6 L563.6,238.6 L565.0,238.7 L566.5,238.7 L568.0,238.7 L569.5,238.7 L570.9,238.8 L572.4,238.8 L573.9,238.9 L575.3,238.9 L576.8,239.0 L578.2,239.0 L579.6,239.1 L581.1,239.2 L582.5,239.2 L583.9,239.3 L585.3,239.4 L586.8,239.5 L588.2,239.6 L589.6,239.7 L591.0,239.8 L592.4,239.9 L593.7,240.0 L595.1,240.1 L596.5,240.3 L597.9,240.4 L599.3,240.5 L600.6,240.7 L602.0,240.8 L603.3,240.9 L604.7,241.1 L606.0,241.2 L607.4,241.4 L608.7,241.6 L610.0,241.7 L611.4,241.9 L612.0,242.0" fill="none" stroke="#ea5575" stroke-width="4.25" stroke-linejoin="round" stroke-linecap="square"/>
</g>
<rect x="188.0" y="24.0" width="418.1" height="335.3" fill="none" stroke="#000" stroke-width="2.18"/>
<line x1="188.00" y1="359.25" x2="178.48" y2="359.25" stroke="#000" stroke-width="2.18"/><line x1="188.00" y1="329.55" x2="182.56" y2="329.55" stroke="#000" stroke-width="2.18"/><line x1="188.00" y1="312.18" x2="182.56" y2="312.18" stroke="#000" stroke-width="2.18"/><line x1="188.00" y1="299.86" x2="182.56" y2="299.86" stroke="#000" stroke-width="2.18"/><line x1="188.00" y1="290.30" x2="182.56" y2="290.30" stroke="#000" stroke-width="2.18"/><line x1="188.00" y1="282.49" x2="182.56" y2="282.49" stroke="#000" stroke-width="2.18"/><line x1="188.00" y1="275.88" x2="182.56" y2="275.88" stroke="#000" stroke-width="2.18"/><line x1="188.00" y1="270.16" x2="182.56" y2="270.16" stroke="#000" stroke-width="2.18"/><line x1="188.00" y1="265.11" x2="182.56" y2="265.11" stroke="#000" stroke-width="2.18"/><line x1="188.00" y1="260.60" x2="178.48" y2="260.60" stroke="#000" stroke-width="2.18"/><line x1="188.00" y1="230.90" x2="182.56" y2="230.90" stroke="#000" stroke-width="2.18"/><line x1="188.00" y1="213.53" x2="182.56" y2="213.53" stroke="#000" stroke-width="2.18"/><line x1="188.00" y1="201.21" x2="182.56" y2="201.21" stroke="#000" stroke-width="2.18"/><line x1="188.00" y1="191.65" x2="182.56" y2="191.65" stroke="#000" stroke-width="2.18"/><line x1="188.00" y1="183.84" x2="182.56" y2="183.84" stroke="#000" stroke-width="2.18"/><line x1="188.00" y1="177.23" x2="182.56" y2="177.23" stroke="#000" stroke-width="2.18"/><line x1="188.00" y1="171.51" x2="182.56" y2="171.51" stroke="#000" stroke-width="2.18"/><line x1="188.00" y1="166.46" x2="182.56" y2="166.46" stroke="#000" stroke-width="2.18"/><line x1="188.00" y1="161.95" x2="178.48" y2="161.95" stroke="#000" stroke-width="2.18"/><line x1="188.00" y1="132.25" x2="182.56" y2="132.25" stroke="#000" stroke-width="2.18"/><line x1="188.00" y1="114.88" x2="182.56" y2="114.88" stroke="#000" stroke-width="2.18"/><line x1="188.00" y1="102.56" x2="182.56" y2="102.56" stroke="#000" stroke-width="2.18"/><line x1="188.00" y1="93.00" x2="182.56" y2="93.00" stroke="#000" stroke-width="2.18"/><line x1="188.00" y1="85.19" x2="182.56" y2="85.19" stroke="#000" stroke-width="2.18"/><line x1="188.00" y1="78.58" x2="182.56" y2="78.58" stroke="#000" stroke-width="2.18"/><line x1="188.00" y1="72.86" x2="182.56" y2="72.86" stroke="#000" stroke-width="2.18"/><line x1="188.00" y1="67.81" x2="182.56" y2="67.81" stroke="#000" stroke-width="2.18"/><line x1="188.00" y1="63.30" x2="178.48" y2="63.30" stroke="#000" stroke-width="2.18"/><line x1="188.00" y1="33.60" x2="182.56" y2="33.60" stroke="#000" stroke-width="2.18"/><line x1="214.13" y1="359.30" x2="214.13" y2="368.82" stroke="#000" stroke-width="2.18"/><line x1="344.79" y1="359.30" x2="344.79" y2="368.82" stroke="#000" stroke-width="2.18"/><line x1="475.44" y1="359.30" x2="475.44" y2="368.82" stroke="#000" stroke-width="2.18"/><line x1="606.10" y1="359.30" x2="606.10" y2="368.82" stroke="#000" stroke-width="2.18"/>
<text x="214.13" y="398.5" text-anchor="middle" font-family="'DejaVu Sans','Liberation Sans',sans-serif" font-size="27.17">8.0</text>
<text x="344.79" y="398.5" text-anchor="middle" font-family="'DejaVu Sans','Liberation Sans',sans-serif" font-size="27.17">8.5</text>
<text x="475.44" y="398.5" text-anchor="middle" font-family="'DejaVu Sans','Liberation Sans',sans-serif" font-size="27.17">9.0</text>
<text x="606.10" y="398.5" text-anchor="middle" font-family="'DejaVu Sans','Liberation Sans',sans-serif" font-size="27.17">9.5</text>
<line x1="1821.73" y1="821.3" x2="1821.73" y2="1.0" stroke="#808080" stroke-width="3.26" stroke-dasharray="12.07 5.2" clip-path="url(#cr)"/>
<text transform="translate(1808.45,795.0) rotate(-90)" font-family="'DejaVu Sans','Liberation Sans',sans-serif" font-size="29.89" fill="#808080">8.6 µm</text>
<g clip-path="url(#cr)">
<path d="M1136.0,305.0 L1136.8,305.7 L1137.5,306.5 L1138.3,307.2 L1139.1,307.9 L1139.8,308.7 L1140.6,309.4 L1141.4,310.1 L1142.1,310.9 L1142.9,311.6 L1143.7,312.3 L1144.4,313.1 L1145.2,313.8 L1146.0,314.5 L1146.7,315.3 L1147.5,316.0 L1148.2,316.8 L1149.0,317.5 L1149.8,318.2 L1150.5,319.0 L1151.3,319.7 L1152.1,320.4 L1152.8,321.2 L1153.6,321.9 L1154.4,322.6 L1155.1,323.4 L1155.9,324.1 L1156.7,324.8 L1157.4,325.6 L1158.2,326.3 L1159.0,327.0 L1159.7,327.8 L1160.5,328.5 L1161.3,329.2 L1162.0,330.0 L1162.8,330.7 L1163.6,331.4 L1164.3,332.2 L1165.1,332.9 L1165.9,333.6 L1166.6,334.4 L1167.4,335.1 L1168.2,335.8 L1168.9,336.6 L1169.7,337.3 L1170.4,338.1 L1171.2,338.8 L1172.0,339.5 L1172.7,340.3 L1173.5,341.0 L1174.3,341.7 L1175.0,342.5 L1175.8,343.2 L1176.6,343.9 L1177.3,344.7 L1178.1,345.4 L1178.9,346.1 L1179.6,346.9 L1180.4,347.6 L1181.2,348.3 L1181.9,349.1 L1182.7,349.8 L1183.5,350.5 L1184.2,351.3 L1185.0,352.0 L1185.7,352.8 L1186.5,353.5 L1187.3,354.2 L1188.0,355.0 L1188.8,355.7 L1189.6,356.4 L1190.3,357.2 L1191.1,357.9 L1191.9,358.6 L1192.6,359.4 L1193.4,360.1 L1194.2,360.8 L1194.9,361.6 L1195.7,362.3 L1196.4,363.1 L1197.2,363.8 L1198.0,364.5 L1198.7,365.3 L1199.5,366.0 L1200.3,366.7 L1201.0,367.5 L1201.8,368.2 L1202.6,368.9 L1203.3,369.7 L1204.1,370.4 L1204.8,371.2 L1205.6,371.9 L1206.4,372.6 L1207.1,373.4 L1207.9,374.1 L1208.7,374.8 L1209.4,375.6 L1210.2,376.3 L1210.9,377.1 L1211.7,377.8 L1212.5,378.5 L1213.2,379.3 L1214.0,380.0 L1214.8,380.7 L1215.5,381.5 L1216.3,382.2 L1217.0,383.0 L1217.8,383.7 L1218.6,384.4 L1219.3,385.2 L1220.1,385.9 L1220.9,386.7 L1221.6,387.4 L1222.4,388.1 L1223.1,388.9 L1223.9,389.6 L1224.7,390.3 L1225.4,391.1 L1226.2,391.8 L1226.9,392.6 L1227.7,393.3 L1228.5,394.0 L1229.2,394.8 L1230.0,395.5 L1230.7,396.3 L1231.5,397.0 L1232.3,397.7 L1233.0,398.5 L1233.8,399.2 L1234.5,400.0 L1235.3,400.7 L1236.1,401.4 L1236.8,402.2 L1237.6,402.9 L1238.3,403.7 L1239.1,404.4 L1239.8,405.2 L1240.6,405.9 L1241.4,406.6 L1242.1,407.4 L1242.9,408.1 L1243.6,408.9 L1244.4,409.6 L1245.2,410.3 L1245.9,411.1 L1246.7,411.8 L1247.4,412.6 L1248.2,413.3 L1248.9,414.1 L1249.7,414.8 L1250.5,415.5 L1251.2,416.3 L1252.0,417.0 L1252.7,417.8 L1253.5,418.5 L1254.2,419.3 L1255.0,420.0 L1255.8,420.8 L1256.5,421.5 L1257.3,422.2 L1258.0,423.0 L1258.8,423.7 L1259.5,424.5 L1260.3,425.2 L1261.0,426.0 L1261.8,426.7 L1262.5,427.5 L1263.3,428.2 L1264.1,429.0 L1264.8,429.7 L1265.6,430.4 L1266.3,431.2 L1267.1,431.9 L1267.8,432.7 L1268.6,433.4 L1269.3,434.2 L1270.1,434.9 L1270.8,435.7 L1271.6,436.4 L1272.3,437.2 L1273.1,437.9 L1273.8,438.7 L1274.6,439.4 L1275.4,440.2 L1276.1,440.9 L1276.9,441.7 L1277.6,442.4 L1278.4,443.2 L1279.1,443.9 L1279.9,444.7 L1280.6,445.4 L1281.4,446.2 L1282.1,446.9 L1282.9,447.7 L1283.6,448.4 L1284.4,449.2 L1285.1,449.9 L1285.9,450.7 L1286.6,451.4 L1287.4,452.2 L1288.1,452.9 L1288.9,453.7 L1289.6,454.4 L1290.4,455.2 L1291.1,455.9 L1291.8,456.7 L1292.6,457.4 L1293.3,458.2 L1294.1,458.9 L1294.8,459.7 L1295.6,460.4 L1296.3,461.2 L1297.1,461.9 L1297.8,462.7 L1298.6,463.4 L1299.3,464.2 L1300.1,465.0 L1300.8,465.7 L1301.6,466.5 L1302.3,467.2 L1303.0,468.0 L1303.8,468.7 L1304.5,469.5 L1305.3,470.2 L1306.0,471.0 L1306.8,471.8 L1307.5,472.5 L1308.3,473.3 L1309.0,474.0 L1309.7,474.8 L1310.5,475.5 L1311.2,476.3 L1312.0,477.1 L1312.7,477.8 L1313.5,478.6 L1314.2,479.3 L1314.9,480.1 L1315.7,480.8 L1316.4,481.6 L1317.2,482.4 L1317.9,483.1 L1318.6,483.9 L1319.4,484.6 L1320.1,485.4 L1320.9,486.2 L1321.6,486.9 L1322.3,487.7 L1323.1,488.4 L1323.8,489.2 L1324.6,490.0 L1325.3,490.7 L1326.0,491.5 L1326.8,492.2 L1327.5,493.0 L1328.3,493.8 L1329.0,494.5 L1329.7,495.3 L1330.5,496.0 L1331.2,496.8 L1332.0,497.6 L1332.7,498.3 L1333.4,499.1 L1334.2,499.9 L1334.9,500.6 L1335.6,501.4 L1336.4,502.1 L1337.1,502.9 L1337.9,503.7 L1338.6,504.4 L1339.3,505.2 L1340.1,506.0 L1340.8,506.7 L1341.6,507.5 L1342.3,508.2 L1343.0,509.0 L1343.8,509.8 L1344.5,510.5 L1345.2,511.3 L1346.0,512.0 L1346.7,512.8 L1347.5,513.6 L1348.2,514.3 L1348.9,515.1 L1349.7,515.9 L1350.4,516.6 L1351.1,517.4 L1351.9,518.1 L1352.6,518.9 L1353.4,519.7 L1354.1,520.4 L1354.8,521.2 L1355.6,522.0 L1356.3,522.7 L1357.0,523.5 L1357.8,524.2 L1358.5,525.0 L1359.3,525.8 L1360.0,526.5 L1360.7,527.3 L1361.5,528.1 L1362.2,528.8 L1363.0,529.6 L1363.7,530.3 L1364.4,531.1 L1365.2,531.9 L1365.9,532.6 L1366.6,533.4 L1367.4,534.1 L1368.1,534.9 L1368.9,535.7 L1369.6,536.4 L1370.3,537.2 L1371.1,537.9 L1371.8,538.7 L1372.6,539.5 L1373.3,540.2 L1374.0,541.0 L1374.8,541.7 L1375.5,542.5 L1376.3,543.2 L1377.0,544.0 L1377.8,544.8 L1378.5,545.5 L1379.2,546.3 L1380.0,547.0 L1380.7,547.8 L1381.5,548.6 L1382.2,549.3 L1383.0,550.1 L1383.7,550.8 L1384.4,551.6 L1385.2,552.3 L1385.9,553.1 L1386.7,553.8 L1387.4,554.6 L1388.2,555.4 L1388.9,556.1 L1389.7,556.9 L1390.4,557.6 L1391.1,558.4 L1391.9,559.1 L1392.6,559.9 L1393.4,560.6 L1394.1,561.4 L1394.9,562.1 L1395.6,562.9 L1396.4,563.6 L1397.1,564.4 L1397.9,565.1 L1398.6,565.9 L1399.4,566.6 L1400.1,567.4 L1400.9,568.1 L1401.6,568.9 L1402.4,569.6 L1403.1,570.4 L1403.9,571.1 L1404.6,571.9 L1405.4,572.6 L1406.1,573.4 L1406.9,574.1 L1407.6,574.9 L1408.4,575.6 L1409.2,576.4 L1409.9,577.1 L1410.7,577.8 L1411.4,578.6 L1412.2,579.3 L1412.9,580.1 L1413.7,580.8 L1414.5,581.6 L1415.2,582.3 L1416.0,583.0 L1416.7,583.8 L1417.5,584.5 L1418.2,585.3 L1419.0,586.0 L1419.8,586.7 L1420.5,587.5 L1421.3,588.2 L1422.1,588.9 L1422.8,589.7 L1423.6,590.4 L1424.3,591.1 L1425.1,591.9 L1425.9,592.6 L1426.6,593.4 L1427.4,594.1 L1428.2,594.8 L1428.9,595.5 L1429.7,596.3 L1430.5,597.0 L1431.3,597.7 L1432.0,598.5 L1432.8,599.2 L1433.6,599.9 L1434.3,600.7 L1435.1,601.4 L1435.9,602.1 L1436.7,602.8 L1437.4,603.6 L1438.2,604.3 L1439.0,605.0 L1439.8,605.7 L1440.5,606.4 L1441.3,607.2 L1442.1,607.9 L1442.9,608.6 L1443.7,609.3 L1444.4,610.0 L1445.2,610.8 L1446.0,611.5 L1446.8,612.2 L1447.6,612.9 L1448.3,613.6 L1449.1,614.3 L1449.9,615.1 L1450.7,615.8 L1451.5,616.5 L1452.3,617.2 L1453.1,617.9 L1453.9,618.6 L1454.7,619.3 L1455.4,620.0 L1456.2,620.7 L1457.0,621.4 L1457.8,622.1 L1458.6,622.9 L1459.4,623.6 L1460.2,624.3 L1461.0,625.0 L1461.8,625.7 L1462.6,626.4 L1463.4,627.1 L1464.2,627.7 L1465.0,628.4 L1465.8,629.1 L1466.6,629.8 L1467.4,630.5 L1468.2,631.2 L1469.0,631.9 L1469.9,632.6 L1470.7,633.3 L1471.5,634.0 L1472.3,634.7 L1473.1,635.3 L1473.9,636.0 L1474.8,636.7 L1475.6,637.4 L1476.4,638.0 L1477.2,638.7 L1478.0,639.4 L1478.9,640.1 L1479.7,640.7 L1480.5,641.4 L1481.4,642.1 L1482.2,642.7 L1483.0,643.4 L1483.9,644.1 L1484.7,644.7 L1485.6,645.4 L1486.4,646.0 L1487.2,646.7 L1488.1,647.3 L1488.9,648.0 L1489.8,648.6 L1490.6,649.3 L1491.5,649.9 L1492.4,650.5 L1493.2,651.2 L1494.1,651.8 L1495.0,652.5 L1495.8,653.1 L1496.7,653.7 L1497.6,654.3 L1498.4,655.0 L1499.3,655.6 L1500.2,656.2 L1501.1,656.8 L1502.0,657.4 L1502.9,658.0 L1503.8,658.6 L1504.7,659.2 L1505.6,659.8 L1506.5,660.4 L1507.4,661.0 L1508.3,661.6 L1509.2,662.2 L1510.1,662.7 L1511.0,663.3 L1512.0,663.9 L1512.9,664.5 L1513.8,665.0 L1514.8,665.6 L1515.7,666.1 L1516.7,666.7 L1517.6,667.2 L1518.6,667.8 L1519.5,668.3 L1520.5,668.8 L1521.5,669.4 L1522.4,669.9 L1523.4,670.4 L1524.4,670.9 L1525.4,671.4 L1526.4,671.9 L1527.4,672.4 L1528.4,672.9 L1529.4,673.4 L1530.4,673.9 L1531.4,674.3 L1532.5,674.8 L1533.5,675.3 L1534.6,675.7 L1535.6,676.1 L1536.7,676.6 L1537.7,677.0 L1538.8,677.4 L1539.9,677.8 L1541.0,678.2 L1542.1,678.6 L1543.2,679.0 L1544.3,679.4 L1545.4,679.8 L1546.6,680.1 L1547.7,680.5 L1548.9,680.8 L1550.1,681.1 L1551.2,681.4 L1552.4,681.7 L1553.6,682.0 L1554.8,682.3 L1556.1,682.6 L1557.3,682.8 L1558.6,683.0 L1559.9,683.3 L1561.1,683.5 L1562.5,683.6 L1563.8,683.8 L1565.1,684.0 L1566.5,684.1 L1567.9,684.2 L1569.3,684.3 L1570.7,684.3 L1572.1,684.4 L1573.6,684.4 L1575.1,684.4 L1576.6,684.4 L1578.0,684.3 L1579.5,684.2 L1580.9,684.2 L1582.3,684.0 L1583.7,683.9 L1585.1,683.8 L1586.4,683.6 L1587.7,683.4 L1589.1,683.3 L1590.4,683.1 L1591.7,682.9 L1592.9,682.6 L1594.2,682.4 L1595.5,682.1 L1596.7,681.9 L1598.0,681.6 L1599.2,681.3 L1600.4,681.1 L1601.6,680.8 L1602.8,680.5 L1604.0,680.1 L1605.2,679.8 L1606.4,679.5 L1607.5,679.2 L1608.7,678.8 L1609.9,678.5 L1611.0,678.1 L1612.2,677.8 L1613.3,677.4 L1614.4,677.0 L1615.6,676.6 L1616.7,676.3 L1617.8,675.9 L1618.9,675.5 L1620.0,675.1 L1621.1,674.7 L1622.2,674.3 L1623.3,673.8 L1624.4,673.4 L1625.4,673.0 L1626.5,672.6 L1627.6,672.1 L1628.7,671.7 L1629.7,671.3 L1630.8,670.8 L1631.8,670.4 L1632.9,669.9 L1634.0,669.5 L1635.0,669.0 L1636.0,668.6 L1637.1,668.1 L1638.1,667.6 L1639.1,667.2 L1640.2,666.7 L1641.2,666.2 L1642.2,665.7 L1643.3,665.3 L1644.3,664.8 L1645.3,664.3 L1646.3,663.8 L1647.3,663.3 L1648.3,662.8 L1649.3,662.3 L1650.3,661.8 L1651.3,661.3 L1652.3,660.8 L1653.3,660.3 L1654.3,659.8 L1655.3,659.3 L1656.3,658.8 L1657.3,658.3 L1658.3,657.8 L1659.3,657.3 L1660.3,656.7 L1661.2,656.2 L1662.2,655.7 L1663.2,655.2 L1664.2,654.7 L1665.1,654.1 L1666.1,653.6 L1667.1,653.1 L1668.1,652.5 L1669.0,652.0 L1670.0,651.5 L1671.0,650.9 L1671.9,650.4 L1672.9,649.9 L1673.9,649.3 L1674.8,648.8 L1675.8,648.3 L1676.8,647.7 L1677.7,647.2 L1678.7,646.7 L1679.6,646.1 L1680.6,645.6 L1681.6,645.0 L1682.5,644.5 L1683.5,643.9 L1684.4,643.4 L1685.4,642.8 L1686.3,642.3 L1687.3,641.7 L1688.2,641.2 L1689.2,640.6 L1690.1,640.1 L1691.1,639.5 L1692.0,639.0 L1692.9,638.4 L1693.9,637.8 L1694.8,637.3 L1695.8,636.7 L1696.7,636.1 L1697.6,635.6 L1698.6,635.0 L1699.5,634.4 L1700.4,633.9 L1701.4,633.3 L1702.3,632.7 L1703.2,632.2 L1704.1,631.6 L1705.1,631.0 L1706.0,630.4 L1706.9,629.8 L1707.8,629.3 L1708.7,628.7 L1709.7,628.1 L1710.6,627.5 L1711.5,626.9 L1712.4,626.3 L1713.3,625.7 L1714.2,625.1 L1715.1,624.5 L1716.0,623.9 L1716.9,623.3 L1717.8,622.7 L1718.7,622.1 L1719.6,621.5 L1720.5,620.9 L1721.4,620.3 L1722.3,619.7 L1723.2,619.1 L1724.1,618.5 L1725.0,617.9 L1725.9,617.3 L1726.8,616.7 L1727.6,616.0 L1728.5,615.4 L1729.4,614.8 L1730.3,614.2 L1731.2,613.5 L1732.0,612.9 L1732.9,612.3 L1733.8,611.7 L1734.6,611.0 L1735.5,610.4 L1736.4,609.8 L1737.2,609.1 L1738.1,608.5 L1739.0,607.8 L1739.8,607.2 L1740.7,606.6 L1741.5,605.9 L1742.4,605.3 L1743.2,604.6 L1744.1,604.0 L1744.9,603.3 L1745.8,602.6 L1746.6,602.0 L1747.5,601.3 L1748.3,600.7 L1749.1,600.0 L1749.4,599.8 L1749.4,599.8 L1749.9,598.8 L1750.4,597.8 L1751.0,596.9 L1751.5,595.9 L1752.0,594.9 L1752.5,594.0 L1753.1,593.0 L1753.6,592.0 L1754.2,591.1 L1754.7,590.1 L1755.2,589.2 L1755.8,588.2 L1756.3,587.3 L1756.9,586.3 L1757.4,585.4 L1758.0,584.4 L1758.5,583.5 L1759.1,582.5 L1759.6,581.6 L1760.2,580.6 L1760.7,579.7 L1761.3,578.7 L1761.8,577.8 L1762.4,576.8 L1762.9,575.8 L1763.4,574.9 L1764.0,573.9 L1764.5,572.9 L1765.0,572.0 L1765.6,571.0 L1766.1,570.0 L1766.6,569.0 L1767.1,568.0 L1767.7,567.0 L1768.2,566.1 L1768.7,565.1 L1769.2,564.0 L1769.7,563.0 L1770.2,562.0 L1770.7,561.0 L1771.1,560.0 L1771.6,559.0 L1772.1,557.9 L1772.6,556.9 L1773.0,555.8 L1773.5,554.8 L1773.9,553.7 L1774.4,552.7 L1774.8,551.6 L1775.3,550.6 L1775.7,549.5 L1776.2,548.4 L1776.6,547.3 L1777.0,546.3 L1777.4,545.2 L1777.8,544.1 L1778.3,543.0 L1778.7,541.9 L1779.1,540.8 L1779.5,539.7 L1779.9,538.5 L1780.2,537.4 L1780.6,536.3 L1781.0,535.2 L1781.4,534.0 L1781.8,532.9 L1782.1,531.8 L1782.5,530.6 L1782.9,529.5 L1783.2,528.3 L1783.6,527.2 L1783.9,526.0 L1784.3,524.9 L1784.6,523.7 L1785.0,522.5 L1785.3,521.4 L1785.6,520.2 L1786.0,519.0 L1786.3,517.8 L1786.6,516.7 L1786.9,515.5 L1787.2,514.3 L1787.6,513.1 L1787.9,511.9 L1788.2,510.7 L1788.5,509.5 L1788.8,508.3 L1789.1,507.1 L1789.4,505.9 L1789.7,504.7 L1790.0,503.5 L1790.3,502.2 L1790.6,501.0 L1790.8,499.8 L1791.1,498.6 L1791.4,497.4 L1791.7,496.1 L1792.0,494.9 L1792.2,493.7 L1792.5,492.4 L1792.8,491.2 L1793.0,490.0 L1793.3,488.7 L1793.6,487.5 L1793.8,486.2 L1794.1,485.0 L1794.4,483.7 L1794.6,482.5 L1794.9,481.2 L1795.1,480.0 L1795.4,478.7 L1795.6,477.5 L1795.9,476.2 L1796.1,474.9 L1796.4,473.7 L1796.6,472.4 L1796.8,471.2 L1797.1,469.9 L1797.3,468.6 L1797.5,467.4 L1797.8,466.1 L1798.0,464.8 L1798.2,463.5 L1798.5,462.3 L1798.7,461.0 L1798.9,459.7 L1799.2,458.4 L1799.4,457.2 L1799.6,455.9 L1799.8,454.6 L1800.0,453.3 L1800.3,452.0 L1800.5,450.7 L1800.7,449.5 L1800.9,448.2 L1801.1,446.9 L1801.4,445.6 L1801.6,444.3 L1801.8,443.0 L1802.0,441.7 L1802.2,440.4 L1802.4,439.1 L1802.6,437.8 L1802.8,436.5 L1803.0,435.2 L1803.2,434.0 L1803.4,432.7 L1803.7,431.4 L1803.9,430.1 L1804.1,428.8 L1804.3,427.5 L1804.5,426.1 L1804.7,424.8 L1804.9,423.5 L1805.1,422.2 L1805.3,420.9 L1805.4,419.6 L1805.6,418.3 L1805.8,417.0 L1805.9,416.6 L1805.90,416.60 C1805.90,416.60 1805.96,405.53 1806.00,400.00 C1806.06,391.00 1806.20,373.00 1806.20,373.00 L1806.2,373.0 L1806.4,373.8 L1807.1,371.9 L1807.3,370.4 L1807.4,368.9 L1807.5,367.5 L1807.7,366.0 L1807.8,364.6 L1807.9,363.2 L1808.0,361.8 L1808.1,360.3 L1808.2,358.9 L1808.3,357.5 L1808.3,356.1 L1808.4,354.6 L1808.5,353.2 L1808.6,351.8 L1808.7,350.4 L1808.8,349.0 L1808.9,347.6 L1809.0,346.2 L1809.0,344.8 L1809.1,343.3 L1809.2,342.0 L1809.3,340.6 L1809.4,339.2 L1809.5,337.8 L1809.6,336.4 L1809.7,335.0 L1809.8,333.7 L1809.9,332.3 L1810.0,330.9 L1810.1,329.6 L1810.3,328.2 L1810.4,326.9 L1810.5,325.5 L1810.6,324.2 L1810.8,322.9 L1810.9,321.6 L1811.1,320.2 L1811.3,319.0 L1811.4,317.7 L1811.6,316.4 L1811.8,315.2 L1812.0,313.9 L1812.3,312.7 L1812.5,311.5 L1812.8,310.4 L1813.1,309.3 L1813.4,308.2 L1813.8,307.2 L1814.3,306.3 L1814.8,305.3 L1815.3,304.4 L1815.9,303.4 L1816.4,302.3 L1816.8,301.1 L1817.2,299.9 L1817.5,298.6 L1817.8,297.4 L1818.1,296.1 L1818.4,294.8 L1818.6,293.5 L1818.9,292.2 L1819.1,290.9 L1819.3,289.6 L1819.5,288.3 L1819.7,286.9 L1819.9,285.6 L1820.1,284.3 L1820.2,282.9 L1820.4,281.6 L1820.6,280.2 L1820.7,278.9 L1820.9,277.5 L1821.1,276.1 L1821.2,274.8 L1821.4,273.4 L1821.5,272.0 L1821.6,270.7 L1821.8,269.3 L1821.9,267.9 L1822.1,266.5 L1822.2,265.2 L1822.3,263.8 L1822.4,262.4 L1822.6,261.0 L1822.7,259.6 L1822.8,258.3 L1823.0,256.9 L1823.1,255.5 L1823.2,254.2 L1823.3,252.8 L1823.5,251.4 L1823.6,250.1 L1823.7,248.8 L1823.9,247.4 L1824.0,246.1 L1824.2,244.8 L1824.3,243.5 L1824.5,242.3 L1824.7,241.1 L1824.9,239.9 L1825.2,239.0 L1825.7,238.6 L1826.5,242.1 L1826.6,243.5 L1826.8,244.9 L1826.9,246.4 L1827.0,247.8 L1827.2,249.2 L1827.3,250.6 L1827.4,252.0 L1827.5,253.5 L1827.6,254.9 L1827.7,256.3 L1827.8,257.7 L1827.9,259.1 L1828.0,260.5 L1828.1,261.9 L1828.2,263.4 L1828.3,264.8 L1828.4,266.2 L1828.5,267.6 L1828.5,269.0 L1828.6,270.4 L1828.7,271.8 L1828.8,273.2 L1828.9,274.6 L1829.0,276.0 L1829.1,277.4 L1829.2,278.8 L1829.3,280.2 L1829.4,281.6 L1829.5,283.0 L1829.6,284.4 L1829.7,285.8 L1829.8,287.2 L1829.9,288.6 L1830.0,290.0 L1830.1,291.4 L1830.2,292.8 L1830.3,294.2 L1830.4,295.6 L1830.5,297.0 L1830.6,298.4 L1830.7,299.7 L1830.8,301.1 L1830.9,302.5 L1831.0,303.9 L1831.1,305.3 L1831.2,306.7 L1831.4,308.0 L1831.5,309.4 L1831.6,310.8 L1831.7,312.1 L1831.8,313.5 L1831.9,314.9 L1832.1,316.2 L1832.2,317.6 L1832.3,319.0 L1832.5,320.3 L1832.6,321.7 L1832.7,323.0 L1832.9,324.3 L1833.0,325.7 L1833.2,327.0 L1833.3,328.3 L1833.5,329.6 L1833.6,330.9 L1833.8,332.2 L1834.0,333.5 L1834.2,334.8 L1834.4,336.1 L1834.6,337.4 L1834.8,338.7 L1835.0,339.9 L1835.2,341.2 L1835.4,342.4 L1835.7,343.7 L1835.9,344.9 L1836.1,346.2 L1836.4,347.4 L1836.6,348.7 L1836.9,349.9 L1837.1,351.2 L1837.4,352.4 L1837.6,353.7 L1837.9,355.0 L1838.1,356.3 L1838.3,357.6 L1838.5,358.9 L1838.7,360.2 L1838.9,361.5 L1839.1,362.9 L1839.3,364.2 L1839.5,365.5 L1839.7,366.9 L1839.9,368.2 L1840.0,369.5 L1840.2,370.9 L1840.4,372.2 L1840.5,373.6 L1840.7,374.9 L1840.9,376.2 L1841.0,377.6 L1841.2,378.9 L1841.4,380.3 L1841.5,381.6 L1841.7,382.9 L1841.9,384.3 L1842.0,385.6 L1842.2,386.9 L1842.3,388.3 L1842.5,389.6 L1842.7,390.9 L1842.8,392.2 L1843.0,393.6 L1843.2,394.9 L1843.4,396.2 L1843.5,397.5 L1843.7,398.8 L1843.9,400.1 L1844.1,401.4 L1844.3,402.6 L1844.5,403.9 L1844.7,405.2 L1844.9,406.5 L1845.2,407.7 L1845.4,409.0 L1845.6,410.3 L1845.8,411.5 L1846.1,412.8 L1846.3,414.1 L1846.5,415.4 L1846.7,416.6 L1847.0,417.9 L1847.2,419.2 L1847.4,420.5 L1847.6,421.8 L1847.8,423.1 L1848.0,424.4 L1848.2,425.8 L1848.4,427.1 L1848.6,428.4 L1848.8,429.8 L1849.0,431.1 L1849.1,432.5 L1849.3,433.8 L1849.5,435.2 L1849.6,436.5 L1849.8,437.9 L1850.0,439.2 L1850.1,440.6 L1850.3,441.9 L1850.4,443.3 L1850.6,444.7 L1850.7,446.0 L1850.8,447.4 L1851.0,448.7 L1851.1,450.1 L1851.3,451.5 L1851.4,452.8 L1851.5,454.2 L1851.7,455.6 L1851.8,456.9 L1852.0,458.3 L1852.1,459.7 L1852.2,461.1 L1852.4,462.4 L1852.5,463.8 L1852.6,465.2 L1852.8,466.5 L1852.9,467.9 L1853.0,469.3 L1853.1,470.6 L1853.3,472.0 L1853.4,473.4 L1853.6,474.7 L1853.7,476.1 L1853.8,477.4 L1854.0,478.8 L1854.1,480.1 L1854.2,481.5 L1854.4,482.8 L1854.5,484.2 L1854.7,485.5 L1854.8,486.8 L1855.0,488.2 L1855.1,489.5 L1855.3,490.8 L1855.5,492.1 L1855.6,493.4 L1855.8,494.7 L1856.0,496.0 L1856.2,497.2 L1856.4,498.5 L1856.6,499.7 L1856.9,500.9 L1857.1,502.1 L1857.4,503.3 L1857.7,504.4 L1858.0,505.6 L1858.4,506.7 L1858.7,507.8 L1859.1,508.9 L1859.4,510.0 L1859.9,511.0 L1860.3,512.0 L1860.8,513.0 L1861.3,513.9 L1861.8,514.8 L1862.4,515.7 L1863.1,516.5 L1863.8,517.2 L1864.5,518.0 L1865.3,518.7 L1866.1,519.4 L1866.9,520.1 L1867.6,520.9 L1868.4,521.7 L1869.0,522.6 L1869.6,523.5 L1869.60,523.50 C1869.60,523.50 1871.80,521.68 1872.50,520.50 C1873.77,518.35 1875.50,513.50 1875.50,513.50 L1875.50,513.50 L1877.50,512.00 L1877.5,512.0 L1877.8,510.7 L1878.1,509.3 L1878.3,508.0 L1878.6,506.6 L1878.8,505.3 L1878.9,503.9 L1879.1,502.6 L1879.3,501.2 L1879.5,499.8 L1879.6,498.5 L1879.8,497.1 L1879.9,495.7 L1880.1,494.4 L1880.2,493.0 L1880.3,491.6 L1880.5,490.2 L1880.6,488.9 L1880.7,487.5 L1880.9,486.1 L1881.0,484.7 L1881.1,483.4 L1881.3,482.0 L1881.4,480.6 L1881.5,479.2 L1881.6,477.9 L1881.8,476.5 L1881.9,475.1 L1882.0,473.7 L1882.1,472.3 L1882.3,471.0 L1882.4,469.6 L1882.5,468.2 L1882.6,466.9 L1882.8,465.5 L1882.9,464.1 L1883.0,462.7 L1883.1,461.4 L1883.3,460.0 L1883.4,458.7 L1883.5,457.3 L1883.7,455.9 L1883.8,454.6 L1883.9,453.2 L1884.1,451.9 L1884.2,450.5 L1884.4,449.1 L1884.5,447.8 L1884.6,446.4 L1884.8,445.1 L1884.9,443.8 L1885.1,442.4 L1885.2,441.1 L1885.4,439.7 L1885.5,438.4 L1885.7,437.1 L1885.8,435.7 L1886.0,434.4 L1886.2,433.1 L1886.3,431.8 L1886.5,430.5 L1886.7,429.2 L1886.9,427.9 L1887.1,426.6 L1887.3,425.3 L1887.4,424.0 L1887.6,422.7 L1887.9,421.5 L1888.1,420.2 L1888.3,419.0 L1888.5,417.7 L1888.8,416.5 L1889.0,415.3 L1889.3,414.1 L1889.6,412.9 L1889.8,411.7 L1890.1,410.6 L1890.5,409.5 L1890.8,408.4 L1891.2,407.3 L1891.6,406.3 L1892.1,405.4 L1892.7,404.6 L1893.4,404.1 L1894.4,404.0 L1895.5,404.9 L1896.2,405.9 L1896.7,407.0 L1897.2,408.1 L1897.6,409.3 L1898.0,410.5 L1898.3,411.7 L1898.6,412.9 L1898.9,414.1 L1899.2,415.3 L1899.5,416.6 L1899.8,417.9 L1900.0,419.1 L1900.3,420.4 L1900.5,421.7 L1900.8,423.0 L1901.0,424.3 L1901.2,425.6 L1901.4,426.9 L1901.6,428.2 L1901.9,429.5 L1902.1,430.8 L1902.2,432.1 L1902.4,433.4 L1902.6,434.8 L1902.8,436.1 L1903.0,437.4 L1903.2,438.7 L1903.4,440.0 L1903.6,441.4 L1903.7,442.7 L1903.9,444.0 L1904.1,445.3 L1904.3,446.6 L1904.5,447.9 L1904.6,449.3 L1904.8,450.6 L1905.0,451.9 L1905.2,453.2 L1905.4,454.4 L1905.6,455.7 L1905.8,457.0 L1906.0,458.3 L1906.2,459.5 L1906.5,460.8 L1906.7,462.0 L1906.9,463.2 L1907.2,464.5 L1907.5,465.7 L1907.7,466.9 L1908.0,468.0 L1908.3,469.2 L1908.6,470.3 L1909.0,471.5 L1909.3,472.6 L1909.7,473.6 L1910.1,474.6 L1910.6,475.6 L1911.1,476.5 L1911.6,477.4 L1912.2,478.1 L1912.9,478.7 L1912.90,478.70 L1920.00,477.50 L1920.00,477.50 L1924.20,472.70 L1924.20,472.70 L1929.50,473.90 L1929.5,473.9 L1930.7,473.5 L1931.8,473.1 L1932.9,472.5 L1933.8,471.9 L1934.7,471.3 L1935.5,470.6 L1936.3,469.9 L1937.1,469.1 L1937.9,468.4 L1938.6,467.6 L1939.3,466.8 L1940.0,465.9 L1940.7,465.1 L1941.3,464.2 L1942.0,463.4 L1942.6,462.5 L1943.2,461.6 L1943.9,460.7 L1944.5,459.8 L1945.1,458.9 L1945.7,458.0 L1946.3,457.1 L1946.8,456.1 L1947.4,455.2 L1948.0,454.3 L1948.6,453.3 L1949.1,452.4 L1949.7,451.5 L1950.2,450.5 L1950.8,449.6 L1951.3,448.6 L1951.9,447.7 L1952.4,446.7 L1953.0,445.8 L1953.5,444.8 L1954.1,443.8 L1954.6,442.9 L1955.2,441.9 L1955.7,441.0 L1956.3,440.0 L1956.8,439.1 L1957.3,438.1 L1957.9,437.2 L1958.4,436.2 L1959.0,435.3 L1959.5,434.3 L1960.1,433.4 L1960.6,432.4 L1961.2,431.5 L1961.8,430.5 L1962.3,429.6 L1962.9,428.7 L1963.5,427.8 L1964.0,426.9 L1964.6,426.0 L1965.2,425.1 L1965.8,424.2 L1966.4,423.3 L1967.1,422.4 L1967.7,421.6 L1968.4,420.8 L1969.0,419.9 L1969.7,419.1 L1970.4,418.4 L1971.1,417.6 L1971.9,416.9 L1972.6,416.2 L1973.4,415.4 L1974.2,414.7 L1974.9,413.8 L1975.6,413.0 L1976.2,412.0 L1976.8,411.0 L1977.3,410.0 L1977.8,409.0 L1978.3,407.9 L1978.7,406.7 L1979.1,405.6 L1979.5,404.4 L1979.8,403.2 L1980.2,402.0 L1980.5,400.8 L1980.8,399.6 L1981.1,398.4 L1981.4,397.2 L1981.7,395.9 L1982.0,394.7 L1982.2,393.4 L1982.5,392.2 L1982.7,390.9 L1983.0,389.7 L1983.3,388.4 L1983.5,387.1 L1983.7,385.9 L1984.0,384.6 L1984.2,383.3 L1984.5,382.1 L1984.7,380.8 L1984.9,379.5 L1985.1,378.2 L1985.4,377.0 L1985.6,375.7 L1985.8,374.4 L1986.0,373.1 L1986.3,371.8 L1986.5,370.5 L1986.7,369.2 L1986.9,367.8 L1987.1,366.5 L1987.3,365.2 L1987.4,363.8 L1987.6,362.5 L1987.8,361.1 L1987.9,359.7 L1988.1,358.4 L1988.2,357.0 L1988.4,355.6 L1988.5,354.2 L1988.7,352.9 L1988.8,351.5 L1988.9,350.1 L1989.0,348.7 L1989.2,347.3 L1989.3,345.9 L1989.4,344.5 L1989.5,343.1 L1989.6,341.7 L1989.7,340.3 L1989.8,338.8 L1989.9,337.4 L1990.0,336.0 L1990.1,334.6 L1990.2,333.2 L1990.3,331.8 L1990.5,330.4 L1990.6,329.0 L1990.7,327.6 L1990.8,326.3 L1990.9,324.9 L1991.0,323.5 L1991.1,322.1 L1991.2,320.7 L1991.3,319.3 L1991.4,317.9 L1991.5,316.6 L1991.6,315.2 L1991.7,313.8 L1991.8,312.5 L1992.0,311.1 L1992.1,309.8 L1992.2,308.4 L1992.4,307.1 L1992.5,305.8 L1992.7,304.5 L1992.8,303.2 L1993.0,301.9 L1993.2,300.7 L1993.4,299.5 L1993.6,298.3 L1993.9,297.2 L1994.2,296.2 L1994.7,295.5 L1995.4,295.5 L1996.1,297.0 L1996.4,298.3 L1996.7,299.7 L1997.0,301.0 L1997.2,302.3 L1997.4,303.7 L1997.6,305.0 L1997.8,306.4 L1998.0,307.7 L1998.2,309.1 L1998.3,310.4 L1998.5,311.8 L1998.6,313.2 L1998.8,314.6 L1998.9,315.9 L1999.1,317.3 L1999.2,318.7 L1999.3,320.1 L1999.5,321.5 L1999.6,322.8 L1999.7,324.2 L1999.8,325.6 L2000.0,327.0 L2000.1,328.3 L2000.2,329.7 L2000.3,331.1 L2000.5,332.5 L2000.6,333.8 L2000.7,335.2 L2000.9,336.6 L2001.0,337.9 L2001.1,339.3 L2001.3,340.6 L2001.4,342.0 L2001.5,343.3 L2001.7,344.7 L2001.8,346.0 L2002.0,347.3 L2002.1,348.7 L2002.3,350.0 L2002.4,351.3 L2002.6,352.6 L2002.8,354.0 L2002.9,355.3 L2003.1,356.6 L2003.3,357.9 L2003.5,359.2 L2003.6,360.5 L2003.8,361.8 L2004.0,363.1 L2004.2,364.4 L2004.4,365.7 L2004.6,367.0 L2004.8,368.3 L2005.0,369.5 L2005.2,370.8 L2005.4,372.1 L2005.7,373.3 L2005.9,374.6 L2006.1,375.9 L2006.3,377.1 L2006.6,378.4 L2006.8,379.7 L2007.0,380.9 L2007.3,382.2 L2007.5,383.4 L2007.8,384.7 L2008.0,385.9 L2008.3,387.1 L2008.5,388.4 L2008.8,389.6 L2009.1,390.8 L2009.3,392.0 L2009.6,393.3 L2009.9,394.5 L2010.1,395.7 L2010.4,396.9 L2010.7,398.1 L2011.0,399.3 L2011.3,400.5 L2011.6,401.7 L2011.9,402.9 L2012.2,404.1 L2012.5,405.3 L2012.8,406.5 L2013.1,407.7 L2013.4,408.9 L2013.7,410.0 L2014.0,411.2 L2014.3,412.4 L2014.7,413.6 L2015.0,414.7 L2015.3,415.9 L2015.7,417.0 L2016.0,418.2 L2016.3,419.3 L2016.7,420.5 L2017.0,421.6 L2017.4,422.8 L2017.7,423.9 L2018.1,425.0 L2018.5,426.2 L2018.8,427.3 L2019.2,428.4 L2019.6,429.5 L2020.0,430.6 L2020.4,431.7 L2020.8,432.8 L2021.1,433.9 L2021.5,435.0 L2022.0,436.1 L2022.4,437.2 L2022.8,438.3 L2023.2,439.3 L2023.6,440.4 L2024.1,441.5 L2024.5,442.5 L2024.9,443.6 L2025.4,444.6 L2025.8,445.6 L2026.3,446.7 L2026.7,447.7 L2027.2,448.7 L2027.7,449.7 L2028.2,450.8 L2028.7,451.8 L2029.1,452.8 L2029.6,453.8 L2030.2,454.7 L2030.7,455.7 L2031.2,456.7 L2031.7,457.7 L2032.2,458.6 L2032.8,459.6 L2033.3,460.5 L2033.9,461.5 L2034.4,462.4 L2035.0,463.3 L2035.5,464.3 L2036.1,465.2 L2036.7,466.1 L2037.3,467.0 L2037.9,467.9 L2038.5,468.8 L2039.1,469.7 L2039.7,470.5 L2040.3,471.4 L2040.9,472.3 L2041.6,473.2 L2042.2,474.0 L2042.8,474.9 L2043.5,475.7 L2044.1,476.6 L2044.8,477.4 L2045.4,478.3 L2046.1,479.1 L2046.8,479.9 L2047.4,480.8 L2048.1,481.6 L2048.7,482.5 L2049.4,483.3 L2050.1,484.1 L2050.7,485.0 L2051.4,485.8 L2052.0,486.7 L2052.7,487.5 L2053.4,488.4 L2054.0,489.2 L2054.7,490.1 L2055.3,490.9 L2055.9,491.8 L2056.6,492.7 L2057.2,493.5 L2057.8,494.4 L2058.5,495.3 L2059.1,496.2 L2059.7,497.1 L2060.3,498.0 L2060.9,498.9 L2061.5,499.8 L2062.1,500.7 L2062.7,501.6 L2063.3,502.5 L2063.9,503.4 L2064.5,504.3 L2065.1,505.2 L2065.6,506.1 L2066.2,507.0 L2066.8,507.9 L2067.4,508.8 L2068.0,509.7 L2068.6,510.6 L2069.2,511.5 L2069.9,512.4 L2070.5,513.3 L2071.1,514.1 L2071.7,515.0 L2072.4,515.8 L2073.0,516.7 L2073.7,517.5 L2074.3,518.3 L2075.0,519.1 L2075.7,519.9 L2076.4,520.7 L2077.1,521.5 L2077.9,522.2 L2078.7,522.9 L2079.5,523.6 L2080.0,524.0" fill="none" stroke="#000000" stroke-width="4.25" stroke-linejoin="round" stroke-linecap="square"/>
<path d="M1136.0,276.6 L1136.8,277.3 L1137.6,278.0 L1138.4,278.7 L1139.2,279.4 L1140.0,280.1 L1140.8,280.8 L1141.6,281.5 L1142.4,282.2 L1143.2,282.9 L1144.0,283.6 L1144.8,284.3 L1145.6,285.0 L1146.4,285.7 L1147.2,286.4 L1148.0,287.1 L1148.8,287.8 L1149.6,288.5 L1150.4,289.2 L1151.2,289.9 L1152.0,290.6 L1152.8,291.3 L1153.6,292.1 L1154.3,292.8 L1155.1,293.5 L1155.9,294.2 L1156.7,294.9 L1157.5,295.6 L1158.3,296.3 L1159.1,297.0 L1159.9,297.7 L1160.7,298.4 L1161.5,299.2 L1162.2,299.9 L1163.0,300.6 L1163.8,301.3 L1164.6,302.0 L1165.4,302.7 L1166.2,303.4 L1167.0,304.2 L1167.8,304.9 L1168.5,305.6 L1169.3,306.3 L1170.1,307.0 L1170.9,307.7 L1171.7,308.4 L1172.5,309.2 L1173.2,309.9 L1174.0,310.6 L1174.8,311.3 L1175.6,312.0 L1176.4,312.7 L1177.2,313.5 L1177.9,314.2 L1178.7,314.9 L1179.5,315.6 L1180.3,316.3 L1181.1,317.0 L1181.9,317.8 L1182.6,318.5 L1183.4,319.2 L1184.2,319.9 L1185.0,320.6 L1185.8,321.4 L1186.5,322.1 L1187.3,322.8 L1188.1,323.5 L1188.9,324.2 L1189.7,325.0 L1190.4,325.7 L1191.2,326.4 L1192.0,327.1 L1192.8,327.8 L1193.6,328.5 L1194.4,329.3 L1195.1,330.0 L1195.9,330.7 L1196.7,331.4 L1197.5,332.1 L1198.3,332.9 L1199.0,333.6 L1199.8,334.3 L1200.6,335.0 L1201.4,335.7 L1202.2,336.5 L1202.9,337.2 L1203.7,337.9 L1204.5,338.6 L1205.3,339.3 L1206.1,340.1 L1206.8,340.8 L1207.6,341.5 L1208.4,342.2 L1209.2,342.9 L1210.0,343.6 L1210.8,344.4 L1211.5,345.1 L1212.3,345.8 L1213.1,346.5 L1213.9,347.2 L1214.7,348.0 L1215.4,348.7 L1216.2,349.4 L1217.0,350.1 L1217.8,350.8 L1218.6,351.5 L1219.4,352.3 L1220.1,353.0 L1220.9,353.7 L1221.7,354.4 L1222.5,355.1 L1223.3,355.8 L1224.1,356.5 L1224.9,357.3 L1225.6,358.0 L1226.4,358.7 L1227.2,359.4 L1228.0,360.1 L1228.8,360.8 L1229.6,361.5 L1230.4,362.2 L1231.2,363.0 L1231.9,363.7 L1232.7,364.4 L1233.5,365.1 L1234.3,365.8 L1235.1,366.5 L1235.9,367.2 L1236.7,367.9 L1237.5,368.6 L1238.3,369.3 L1239.1,370.1 L1239.8,370.8 L1240.6,371.5 L1241.4,372.2 L1242.2,372.9 L1243.0,373.6 L1243.8,374.3 L1244.6,375.0 L1245.4,375.7 L1246.2,376.4 L1247.0,377.1 L1247.8,377.8 L1248.6,378.5 L1249.4,379.2 L1250.2,379.9 L1251.0,380.6 L1251.8,381.3 L1252.6,382.0 L1253.4,382.7 L1254.2,383.4 L1255.0,384.1 L1255.8,384.8 L1256.6,385.5 L1257.4,386.2 L1258.2,386.9 L1259.0,387.6 L1259.8,388.3 L1260.6,388.9 L1261.5,389.6 L1262.3,390.3 L1263.1,391.0 L1263.9,391.7 L1264.7,392.4 L1265.5,393.1 L1266.3,393.8 L1267.1,394.5 L1267.9,395.1 L1268.8,395.8 L1269.6,396.5 L1270.4,397.2 L1271.2,397.9 L1272.0,398.6 L1272.8,399.2 L1273.7,399.9 L1274.5,400.6 L1275.3,401.3 L1276.1,402.0 L1276.9,402.6 L1277.8,403.3 L1278.6,404.0 L1279.4,404.7 L1280.2,405.3 L1281.1,406.0 L1281.9,406.7 L1282.7,407.3 L1283.6,408.0 L1284.4,408.7 L1285.2,409.4 L1286.1,410.0 L1286.9,410.7 L1287.7,411.4 L1288.6,412.0 L1289.4,412.7 L1290.2,413.3 L1291.1,414.0 L1291.9,414.7 L1292.7,415.3 L1293.6,416.0 L1294.4,416.6 L1295.3,417.3 L1296.1,418.0 L1297.0,418.6 L1297.8,419.3 L1298.6,419.9 L1299.5,420.6 L1300.3,421.2 L1301.2,421.9 L1302.0,422.5 L1302.9,423.2 L1303.7,423.8 L1304.6,424.5 L1305.4,425.1 L1306.3,425.7 L1307.2,426.4 L1308.0,427.0 L1308.9,427.7 L1309.7,428.3 L1310.6,428.9 L1311.5,429.6 L1312.3,430.2 L1313.2,430.8 L1314.1,431.5 L1314.9,432.1 L1315.8,432.7 L1316.7,433.4 L1317.5,434.0 L1318.4,434.6 L1319.3,435.3 L1320.2,435.9 L1321.0,436.5 L1321.9,437.1 L1322.8,437.7 L1323.7,438.4 L1324.6,439.0 L1325.4,439.6 L1326.3,440.2 L1327.2,440.8 L1328.1,441.4 L1329.0,442.0 L1329.9,442.7 L1330.8,443.3 L1331.7,443.9 L1332.5,444.5 L1333.4,445.1 L1334.3,445.7 L1335.2,446.3 L1336.1,446.9 L1337.0,447.5 L1337.9,448.1 L1338.8,448.7 L1339.8,449.3 L1340.7,449.8 L1341.6,450.4 L1342.5,451.0 L1343.4,451.6 L1344.3,452.2 L1345.2,452.8 L1346.1,453.4 L1347.1,453.9 L1348.0,454.5 L1348.9,455.1 L1349.8,455.7 L1350.7,456.2 L1351.7,456.8 L1352.6,457.4 L1353.5,458.0 L1354.5,458.5 L1355.4,459.1 L1356.3,459.7 L1357.3,460.2 L1358.2,460.8 L1359.1,461.3 L1360.1,461.9 L1361.0,462.5 L1362.0,463.0 L1362.9,463.6 L1363.9,464.1 L1364.8,464.7 L1365.8,465.2 L1366.7,465.8 L1367.7,466.3 L1368.6,466.8 L1369.6,467.4 L1370.5,467.9 L1371.5,468.5 L1372.5,469.0 L1373.4,469.5 L1374.4,470.1 L1375.4,470.6 L1376.3,471.1 L1377.3,471.7 L1378.3,472.2 L1379.2,472.7 L1380.2,473.2 L1381.2,473.8 L1382.2,474.3 L1383.1,474.8 L1384.1,475.3 L1385.1,475.8 L1386.1,476.4 L1387.1,476.9 L1388.1,477.4 L1389.1,477.9 L1390.0,478.4 L1391.0,478.9 L1392.0,479.4 L1393.0,479.9 L1394.0,480.4 L1395.0,480.9 L1396.0,481.4 L1397.0,481.9 L1398.0,482.4 L1399.0,482.9 L1400.0,483.4 L1401.0,483.9 L1402.0,484.4 L1403.0,484.9 L1404.1,485.4 L1405.1,485.9 L1406.1,486.3 L1407.1,486.8 L1408.1,487.3 L1409.1,487.8 L1410.2,488.3 L1411.2,488.7 L1412.2,489.2 L1413.2,489.7 L1414.2,490.2 L1415.3,490.6 L1416.3,491.1 L1417.3,491.6 L1418.4,492.1 L1419.4,492.5 L1420.4,493.0 L1421.5,493.5 L1422.5,493.9 L1423.5,494.4 L1424.6,494.8 L1425.6,495.3 L1426.6,495.8 L1427.7,496.2 L1428.7,496.7 L1429.8,497.1 L1430.8,497.6 L1431.9,498.0 L1432.9,498.5 L1434.0,498.9 L1435.0,499.4 L1436.1,499.8 L1437.1,500.3 L1438.2,500.7 L1439.2,501.2 L1440.3,501.6 L1441.3,502.0 L1442.4,502.5 L1443.5,502.9 L1444.5,503.4 L1445.6,503.8 L1446.6,504.2 L1447.7,504.7 L1448.8,505.1 L1449.8,505.5 L1450.9,506.0 L1452.0,506.4 L1453.0,506.8 L1454.1,507.3 L1455.2,507.7 L1456.3,508.1 L1457.3,508.6 L1458.4,509.0 L1459.5,509.4 L1460.5,509.8 L1461.6,510.3 L1462.7,510.7 L1463.8,511.1 L1464.9,511.5 L1465.9,511.9 L1467.0,512.4 L1468.1,512.8 L1469.2,513.2 L1470.3,513.6 L1471.3,514.0 L1472.4,514.5 L1473.5,514.9 L1474.6,515.3 L1475.7,515.7 L1476.8,516.1 L1477.8,516.5 L1478.9,516.9 L1480.0,517.4 L1481.1,517.8 L1482.2,518.2 L1483.3,518.6 L1484.4,519.0 L1485.5,519.4 L1486.5,519.8 L1487.6,520.2 L1488.7,520.6 L1489.8,521.0 L1490.9,521.5 L1492.0,521.9 L1493.1,522.3 L1494.2,522.7 L1495.3,523.1 L1496.4,523.5 L1497.5,523.9 L1498.6,524.3 L1499.7,524.7 L1500.8,525.1 L1501.8,525.5 L1502.9,525.9 L1504.0,526.3 L1505.1,526.7 L1506.2,527.1 L1507.3,527.5 L1508.4,528.0 L1509.5,528.4 L1510.6,528.8 L1511.7,529.2 L1512.8,529.6 L1513.9,530.0 L1515.0,530.4 L1516.1,530.8 L1517.2,531.2 L1518.3,531.6 L1519.4,532.0 L1520.5,532.4 L1521.6,532.8 L1522.7,533.2 L1523.7,533.6 L1524.8,534.0 L1525.9,534.4 L1527.0,534.8 L1528.1,535.2 L1529.2,535.7 L1530.3,536.1 L1531.4,536.5 L1532.5,536.9 L1533.6,537.3 L1534.7,537.7 L1535.8,538.1 L1536.9,538.5 L1537.9,538.9 L1539.0,539.3 L1540.1,539.7 L1541.2,540.2 L1542.3,540.6 L1543.4,541.0 L1544.5,541.4 L1545.6,541.8 L1546.6,542.2 L1547.7,542.6 L1548.8,543.1 L1549.9,543.5 L1551.0,543.9 L1552.1,544.3 L1553.2,544.7 L1554.2,545.1 L1555.3,545.6 L1556.4,546.0 L1557.5,546.4 L1558.6,546.8 L1559.6,547.2 L1560.7,547.7 L1561.8,548.1 L1562.9,548.5 L1563.9,548.9 L1565.0,549.4 L1566.1,549.8 L1567.2,550.2 L1568.2,550.7 L1569.3,551.1 L1570.4,551.5 L1571.4,552.0 L1572.5,552.4 L1573.6,552.8 L1574.6,553.3 L1575.7,553.7 L1576.8,554.1 L1577.8,554.6 L1578.9,555.0 L1579.9,555.4 L1581.0,555.9 L1582.1,556.3 L1583.1,556.8 L1584.2,557.2 L1585.2,557.7 L1586.3,558.1 L1587.3,558.6 L1588.4,559.0 L1589.4,559.5 L1590.5,559.9 L1591.5,560.4 L1592.6,560.8 L1593.6,561.3 L1594.7,561.7 L1595.7,562.2 L1596.8,562.6 L1597.8,563.1 L1598.8,563.6 L1599.9,564.0 L1600.9,564.5 L1602.0,565.0 L1603.0,565.4 L1604.0,565.9 L1605.1,566.4 L1606.1,566.8 L1607.1,567.3 L1608.1,567.8 L1609.2,568.2 L1610.2,568.7 L1611.2,569.2 L1612.2,569.7 L1613.3,570.2 L1614.3,570.6 L1615.3,571.1 L1616.3,571.6 L1617.3,572.1 L1618.3,572.6 L1619.4,573.1 L1620.4,573.6 L1621.4,574.0 L1622.4,574.5 L1623.4,575.0 L1624.4,575.5 L1625.4,576.0 L1626.4,576.5 L1627.4,577.0 L1628.4,577.5 L1629.4,578.0 L1630.4,578.5 L1631.4,579.0 L1632.4,579.6 L1633.4,580.1 L1634.4,580.6 L1635.4,581.1 L1636.3,581.6 L1637.3,582.1 L1638.3,582.6 L1639.0,583.0 L1639.0,583.0 L1639.3,581.8 L1639.5,580.5 L1639.8,579.3 L1640.1,578.1 L1640.3,576.9 L1640.6,575.7 L1640.9,574.5 L1641.2,573.2 L1641.5,572.0 L1641.8,570.8 L1642.1,569.6 L1642.3,568.4 L1642.6,567.2 L1642.9,566.1 L1643.3,564.9 L1643.6,563.7 L1643.9,562.5 L1644.2,561.3 L1644.5,560.2 L1644.8,559.0 L1645.2,557.8 L1645.5,556.7 L1645.8,555.5 L1646.2,554.4 L1646.5,553.3 L1646.9,552.1 L1647.3,551.0 L1647.6,549.9 L1648.0,548.8 L1648.4,547.6 L1648.7,546.5 L1649.1,545.4 L1649.5,544.4 L1649.9,543.3 L1650.4,542.2 L1650.8,541.1 L1651.2,540.1 L1651.6,539.0 L1652.1,538.0 L1652.5,537.0 L1653.0,535.9 L1653.5,534.9 L1654.0,533.9 L1654.5,532.9 L1655.0,532.0 L1655.5,531.0 L1656.0,530.0 L1656.5,529.1 L1657.1,528.1 L1657.6,527.2 L1658.2,526.3 L1658.8,525.4 L1659.4,524.5 L1660.0,523.6 L1660.6,522.7 L1661.2,521.8 L1661.8,520.9 L1662.4,520.1 L1663.0,519.2 L1663.7,518.3 L1664.3,517.5 L1665.0,516.6 L1665.6,515.8 L1666.2,514.9 L1666.9,514.0 L1667.5,513.2 L1668.2,512.3 L1668.8,511.5 L1669.5,510.6 L1670.1,509.8 L1670.8,509.0 L1671.4,508.1 L1672.1,507.3 L1672.8,506.5 L1673.5,505.7 L1674.2,504.9 L1674.9,504.1 L1675.6,503.3 L1676.3,502.6 L1677.0,501.8 L1677.8,501.1 L1678.5,500.3 L1679.3,499.6 L1680.0,498.8 L1680.8,498.1 L1681.6,497.4 L1682.4,496.7 L1683.2,496.0 L1684.0,495.3 L1684.8,494.6 L1685.6,493.9 L1686.4,493.2 L1687.2,492.6 L1688.0,491.9 L1688.9,491.3 L1689.7,490.6 L1690.6,490.0 L1691.4,489.3 L1692.3,488.7 L1693.2,488.1 L1694.0,487.4 L1694.9,486.8 L1695.8,486.2 L1696.7,485.6 L1697.6,485.0 L1698.5,484.4 L1699.4,483.8 L1700.3,483.3 L1701.3,482.7 L1702.2,482.1 L1703.1,481.6 L1704.1,481.0 L1705.0,480.5 L1706.0,480.0 L1707.0,479.4 L1707.9,478.9 L1708.9,478.4 L1709.9,477.9 L1710.9,477.4 L1711.9,476.9 L1712.9,476.4 L1713.9,475.9 L1714.9,475.4 L1715.9,474.9 L1717.0,474.5 L1718.0,474.0 L1719.0,473.6 L1720.1,473.1 L1721.1,472.7 L1722.2,472.2 L1723.2,471.8 L1724.3,471.4 L1725.4,470.9 L1726.5,470.5 L1727.5,470.1 L1728.6,469.7 L1729.7,469.3 L1730.8,468.9 L1731.9,468.5 L1733.0,468.1 L1734.1,467.7 L1735.2,467.3 L1736.3,466.9 L1737.4,466.5 L1738.5,466.1 L1739.7,465.7 L1740.8,465.4 L1741.9,465.0 L1743.0,464.6 L1744.1,464.2 L1745.3,463.8 L1746.4,463.5 L1747.5,463.1 L1748.6,462.7 L1749.7,462.3 L1750.9,462.0 L1752.0,461.6 L1753.1,461.2 L1754.2,460.8 L1755.3,460.4 L1756.4,460.0 L1757.6,459.6 L1758.7,459.2 L1759.8,458.8 L1760.9,458.4 L1762.0,458.0 L1763.0,457.6 L1764.1,457.2 L1765.2,456.8 L1766.3,456.4 L1767.4,455.9 L1768.4,455.5 L1769.5,455.1 L1770.6,454.6 L1771.3,454.3 L1771.3,454.3 L1771.9,453.4 L1772.5,452.5 L1773.2,451.7 L1773.8,450.8 L1774.4,449.9 L1775.0,449.0 L1775.6,448.1 L1776.2,447.2 L1776.8,446.3 L1777.4,445.4 L1778.0,444.5 L1778.6,443.6 L1779.2,442.7 L1779.8,441.7 L1780.4,440.8 L1780.9,439.8 L1781.5,438.9 L1782.0,437.9 L1782.6,437.0 L1783.1,436.0 L1783.6,435.0 L1784.2,434.0 L1784.7,433.0 L1785.2,432.0 L1785.7,431.0 L1786.2,430.0 L1786.7,429.0 L1787.1,427.9 L1787.6,426.9 L1788.1,425.8 L1788.5,424.8 L1789.0,423.7 L1789.4,422.7 L1789.9,421.6 L1790.3,420.5 L1790.7,419.4 L1791.1,418.3 L1791.5,417.2 L1791.9,416.1 L1792.3,415.0 L1792.7,413.9 L1793.1,412.8 L1793.5,411.6 L1793.9,410.5 L1794.2,409.4 L1794.6,408.2 L1795.0,407.1 L1795.3,405.9 L1795.7,404.8 L1796.0,403.6 L1796.4,402.4 L1796.7,401.3 L1797.1,400.1 L1797.4,398.9 L1797.7,397.7 L1798.0,396.5 L1798.4,395.3 L1798.7,394.2 L1799.0,393.0 L1799.3,391.8 L1799.6,390.5 L1799.9,389.3 L1800.2,388.1 L1800.5,386.9 L1800.8,385.7 L1801.1,384.5 L1801.3,383.2 L1801.6,382.0 L1801.9,380.8 L1802.2,379.5 L1802.4,378.3 L1802.7,377.0 L1803.0,375.8 L1803.2,374.5 L1803.5,373.3 L1803.7,372.0 L1804.0,370.8 L1804.2,369.5 L1804.5,368.3 L1804.7,367.0 L1804.9,365.7 L1805.2,364.4 L1805.4,363.2 L1805.6,361.9 L1805.9,360.6 L1806.1,359.3 L1806.3,358.0 L1806.5,356.8 L1806.8,355.5 L1807.0,354.2 L1807.2,352.9 L1807.4,351.6 L1807.6,350.3 L1807.8,349.0 L1808.0,347.7 L1808.2,346.4 L1808.4,345.1 L1808.6,343.8 L1808.8,342.5 L1809.0,341.2 L1809.2,339.9 L1809.4,338.5 L1809.6,337.2 L1809.8,335.9 L1810.0,334.6 L1810.2,333.3 L1810.4,331.9 L1810.5,330.6 L1810.7,329.3 L1810.9,328.0 L1811.1,326.6 L1811.3,325.3 L1811.4,324.0 L1811.6,322.6 L1811.8,321.3 L1811.9,319.9 L1812.1,318.6 L1812.3,317.3 L1812.4,315.9 L1812.6,314.6 L1812.7,313.2 L1812.9,311.9 L1813.1,310.5 L1813.2,309.2 L1813.4,307.8 L1813.5,306.4 L1813.7,305.1 L1813.8,303.7 L1814.0,302.3 L1814.1,301.0 L1814.2,299.6 L1814.4,298.2 L1814.5,296.9 L1814.6,295.5 L1814.8,294.1 L1814.9,292.8 L1815.0,291.4 L1815.2,290.0 L1815.3,288.6 L1815.4,287.2 L1815.6,285.9 L1815.7,284.5 L1815.8,283.1 L1815.9,281.7 L1816.1,280.3 L1816.2,278.9 L1816.3,277.6 L1816.4,276.2 L1816.5,274.8 L1816.7,273.4 L1816.8,272.0 L1816.9,270.6 L1817.0,269.3 L1817.1,267.9 L1817.2,266.5 L1817.4,265.1 L1817.5,263.7 L1817.6,262.4 L1817.7,261.0 L1817.8,259.6 L1818.0,258.2 L1818.1,256.9 L1818.2,255.5 L1818.3,254.1 L1818.4,252.8 L1818.6,251.4 L1818.7,250.0 L1818.8,248.7 L1819.0,247.3 L1819.1,246.0 L1819.3,244.7 L1819.4,243.3 L1819.5,242.0 L1819.7,240.7 L1819.9,239.4 L1820.0,238.1 L1820.2,236.8 L1820.4,235.6 L1820.6,234.4 L1820.9,233.2 L1821.1,232.2 L1821.5,231.2 L1822.0,230.8 L1823.1,233.8 L1823.3,235.2 L1823.5,236.5 L1823.7,237.9 L1823.9,239.3 L1824.1,240.6 L1824.2,242.0 L1824.4,243.4 L1824.5,244.8 L1824.7,246.2 L1824.8,247.5 L1824.9,248.9 L1825.1,250.3 L1825.2,251.7 L1825.3,253.1 L1825.4,254.5 L1825.5,255.9 L1825.7,257.3 L1825.8,258.7 L1825.9,260.1 L1826.0,261.5 L1826.1,262.8 L1826.2,264.2 L1826.3,265.6 L1826.5,267.0 L1826.6,268.4 L1826.7,269.8 L1826.8,271.2 L1826.9,272.6 L1827.0,274.0 L1827.1,275.4 L1827.2,276.8 L1827.3,278.2 L1827.4,279.6 L1827.5,281.0 L1827.6,282.4 L1827.8,283.7 L1827.9,285.1 L1828.0,286.5 L1828.1,287.9 L1828.2,289.3 L1828.3,290.7 L1828.4,292.1 L1828.5,293.5 L1828.6,294.9 L1828.7,296.3 L1828.8,297.7 L1828.9,299.1 L1829.0,300.5 L1829.1,301.8 L1829.3,303.2 L1829.4,304.6 L1829.5,306.0 L1829.6,307.4 L1829.7,308.8 L1829.8,310.2 L1829.9,311.6 L1830.0,313.0 L1830.1,314.3 L1830.2,315.7 L1830.4,317.1 L1830.5,318.5 L1830.6,319.9 L1830.7,321.3 L1830.8,322.7 L1830.9,324.0 L1831.0,325.4 L1831.1,326.8 L1831.3,328.2 L1831.4,329.6 L1831.5,330.9 L1831.6,332.3 L1831.7,333.7 L1831.8,335.1 L1832.0,336.5 L1832.1,337.8 L1832.2,339.2 L1832.3,340.6 L1832.5,341.9 L1832.6,343.3 L1832.7,344.7 L1832.8,346.1 L1832.9,347.4 L1833.1,348.8 L1833.2,350.2 L1833.3,351.5 L1833.5,352.9 L1833.6,354.3 L1833.7,355.6 L1833.9,357.0 L1834.0,358.3 L1834.1,359.7 L1834.3,361.0 L1834.4,362.4 L1834.5,363.7 L1834.7,365.1 L1834.8,366.4 L1835.0,367.8 L1835.1,369.1 L1835.3,370.5 L1835.4,371.8 L1835.6,373.1 L1835.7,374.5 L1835.9,375.8 L1836.1,377.1 L1836.2,378.5 L1836.4,379.8 L1836.5,381.1 L1836.7,382.4 L1836.9,383.7 L1837.1,385.1 L1837.2,386.4 L1837.4,387.7 L1837.6,389.0 L1837.8,390.3 L1838.0,391.6 L1838.2,392.9 L1838.4,394.2 L1838.6,395.5 L1838.8,396.8 L1839.0,398.0 L1839.2,399.3 L1839.4,400.6 L1839.6,401.9 L1839.8,403.1 L1840.0,404.4 L1840.3,405.7 L1840.5,406.9 L1840.7,408.2 L1841.0,409.5 L1841.2,410.7 L1841.4,412.0 L1841.7,413.2 L1841.9,414.4 L1842.2,415.7 L1842.4,416.9 L1842.7,418.2 L1842.9,419.4 L1843.2,420.6 L1843.5,421.9 L1843.7,423.1 L1844.0,424.3 L1844.3,425.6 L1844.5,426.8 L1844.8,428.0 L1845.1,429.3 L1845.3,430.5 L1845.6,431.7 L1845.9,433.0 L1846.1,434.2 L1846.4,435.4 L1846.7,436.7 L1846.9,437.9 L1847.2,439.2 L1847.4,440.4 L1847.7,441.6 L1848.0,442.9 L1848.2,444.1 L1848.5,445.4 L1848.7,446.6 L1849.0,447.9 L1849.2,449.1 L1849.5,450.4 L1849.7,451.6 L1850.0,452.9 L1850.2,454.1 L1850.5,455.4 L1850.7,456.6 L1851.0,457.9 L1851.2,459.1 L1851.5,460.4 L1851.7,461.6 L1852.0,462.9 L1852.2,464.1 L1852.5,465.4 L1852.7,466.6 L1853.0,467.9 L1853.2,469.1 L1853.5,470.4 L1853.7,471.6 L1854.0,472.9 L1854.3,474.1 L1854.5,475.3 L1854.8,476.6 L1855.0,477.8 L1855.3,479.0 L1855.6,480.3 L1855.8,481.5 L1856.1,482.7 L1856.4,483.9 L1856.6,485.2 L1856.9,486.4 L1857.2,487.6 L1857.5,488.8 L1857.7,490.1 L1858.0,491.3 L1858.3,492.5 L1858.6,493.7 L1858.9,494.9 L1859.1,496.1 L1859.4,497.3 L1859.7,498.5 L1860.0,499.7 L1860.3,500.9 L1860.6,502.1 L1860.9,503.3 L1861.2,504.5 L1861.5,505.7 L1861.8,506.9 L1862.1,508.1 L1862.4,509.3 L1862.7,510.5 L1863.0,511.7 L1863.3,512.9 L1863.7,514.0 L1864.0,515.2 L1864.3,516.4 L1864.6,517.6 L1864.9,518.7 L1865.3,519.9 L1865.6,521.1 L1865.9,522.2 L1866.2,523.4 L1866.6,524.6 L1866.9,525.7 L1867.2,526.9 L1867.6,528.1 L1867.9,529.2 L1868.2,530.4 L1868.6,531.6 L1868.9,532.7 L1869.3,533.9 L1869.6,535.1 L1869.9,536.2 L1870.3,537.4 L1870.6,538.5 L1870.9,539.7 L1871.3,540.9 L1871.6,542.0 L1872.0,543.2 L1872.3,544.4 L1872.6,545.5 L1873.0,546.7 L1873.3,547.9 L1873.6,549.0 L1874.0,550.2 L1874.3,551.4 L1874.6,552.5 L1875.0,553.7 L1875.3,554.9 L1875.6,556.1 L1875.9,557.2 L1876.3,558.4 L1876.6,559.6 L1876.9,560.8 L1877.2,562.0 L1877.5,563.2 L1877.8,564.4 L1878.2,565.5 L1878.5,566.7 L1878.8,567.9 L1879.1,569.1 L1879.4,570.3 L1879.7,571.5 L1880.0,572.7 L1880.3,573.9 L1880.6,575.1 L1880.9,576.3 L1881.2,577.6 L1881.5,578.8 L1881.8,580.0 L1882.1,581.2 L1882.4,582.4 L1882.7,583.6 L1883.0,584.8 L1883.3,586.0 L1883.5,587.2 L1883.8,588.4 L1884.1,589.6 L1884.4,590.8 L1884.7,592.0 L1885.0,593.2 L1885.3,594.4 L1885.6,595.7 L1885.9,596.9 L1886.2,598.1 L1886.5,599.3 L1886.8,600.5 L1887.1,601.7 L1887.4,602.9 L1887.7,604.1 L1888.0,605.3 L1888.3,606.5 L1888.6,607.7 L1888.9,608.9 L1889.2,610.0 L1889.5,611.2 L1889.8,612.4 L1890.1,613.6 L1890.4,614.8 L1890.7,616.0 L1891.0,617.2 L1891.4,618.3 L1891.7,619.5 L1892.0,620.7 L1892.3,621.8 L1892.7,623.0 L1893.0,624.2 L1893.3,625.3 L1893.7,626.5 L1894.0,627.6 L1894.4,628.7 L1894.7,629.9 L1895.1,631.0 L1895.5,632.1 L1895.8,633.2 L1896.2,634.3 L1896.6,635.4 L1897.0,636.5 L1897.4,637.6 L1897.8,638.7 L1898.2,639.7 L1898.7,640.7 L1899.1,641.8 L1899.6,642.8 L1900.1,643.7 L1900.6,644.7 L1901.1,645.6 L1901.7,646.5 L1902.3,647.3 L1903.0,648.1 L1903.7,648.8 L1904.6,649.3 L1905.6,649.5 L1907.1,649.0 L1908.0,648.2 L1908.7,647.3 L1909.3,646.3 L1909.9,645.3 L1910.4,644.2 L1910.8,643.1 L1911.2,642.0 L1911.7,640.9 L1912.1,639.8 L1912.4,638.6 L1912.8,637.5 L1913.2,636.3 L1913.6,635.2 L1913.9,634.1 L1914.3,632.9 L1914.6,631.7 L1915.0,630.6 L1915.3,629.4 L1915.7,628.3 L1916.0,627.1 L1916.4,626.0 L1916.7,624.9 L1917.1,623.7 L1917.4,622.6 L1917.8,621.5 L1918.2,620.3 L1918.5,619.2 L1918.9,618.1 L1919.3,616.9 L1919.6,615.8 L1920.0,614.7 L1920.4,613.5 L1920.7,612.4 L1921.1,611.3 L1921.5,610.2 L1921.9,609.0 L1922.2,607.9 L1922.6,606.8 L1923.0,605.7 L1923.4,604.5 L1923.7,603.4 L1924.1,602.3 L1924.5,601.1 L1924.8,600.0 L1925.2,598.9 L1925.6,597.7 L1925.9,596.6 L1926.3,595.4 L1926.7,594.3 L1927.0,593.2 L1927.4,592.0 L1927.7,590.9 L1928.1,589.7 L1928.4,588.6 L1928.8,587.4 L1929.1,586.3 L1929.5,585.1 L1929.9,584.0 L1930.2,582.8 L1930.6,581.7 L1930.9,580.5 L1931.3,579.4 L1931.6,578.3 L1932.0,577.1 L1932.3,576.0 L1932.7,574.8 L1933.0,573.7 L1933.4,572.6 L1933.8,571.4 L1934.1,570.3 L1934.5,569.2 L1934.9,568.0 L1935.2,566.9 L1935.6,565.8 L1936.0,564.7 L1936.4,563.5 L1936.7,562.4 L1937.1,561.3 L1937.5,560.2 L1937.9,559.0 L1938.2,557.9 L1938.6,556.8 L1939.0,555.6 L1939.3,554.5 L1939.7,553.4 L1940.1,552.2 L1940.4,551.1 L1940.8,549.9 L1941.1,548.8 L1941.5,547.6 L1941.8,546.4 L1942.2,545.3 L1942.5,544.1 L1942.8,542.9 L1943.2,541.7 L1943.5,540.5 L1943.8,539.4 L1944.1,538.2 L1944.4,537.0 L1944.7,535.8 L1945.0,534.6 L1945.3,533.4 L1945.6,532.1 L1945.9,530.9 L1946.2,529.7 L1946.5,528.5 L1946.8,527.3 L1947.1,526.1 L1947.4,524.9 L1947.7,523.6 L1948.0,522.4 L1948.2,521.2 L1948.5,520.0 L1948.8,518.8 L1949.1,517.5 L1949.4,516.3 L1949.6,515.1 L1949.9,513.9 L1950.2,512.7 L1950.5,511.5 L1950.8,510.2 L1951.1,509.0 L1951.3,507.8 L1951.6,506.6 L1951.9,505.4 L1952.2,504.2 L1952.5,503.0 L1952.8,501.8 L1953.1,500.6 L1953.4,499.4 L1953.7,498.2 L1954.0,497.0 L1954.3,495.8 L1954.6,494.6 L1954.9,493.4 L1955.2,492.2 L1955.5,491.1 L1955.8,489.9 L1956.1,488.7 L1956.5,487.5 L1956.8,486.3 L1957.1,485.2 L1957.4,484.0 L1957.8,482.8 L1958.1,481.7 L1958.4,480.5 L1958.7,479.3 L1959.1,478.1 L1959.4,477.0 L1959.7,475.8 L1960.1,474.6 L1960.4,473.5 L1960.7,472.3 L1961.1,471.1 L1961.4,470.0 L1961.7,468.8 L1962.0,467.6 L1962.4,466.4 L1962.7,465.3 L1963.0,464.1 L1963.3,462.9 L1963.7,461.7 L1964.0,460.5 L1964.3,459.4 L1964.6,458.2 L1964.9,457.0 L1965.3,455.8 L1965.6,454.6 L1965.9,453.4 L1966.2,452.2 L1966.5,451.0 L1966.8,449.8 L1967.1,448.6 L1967.4,447.4 L1967.7,446.2 L1968.0,445.0 L1968.3,443.7 L1968.5,442.5 L1968.8,441.3 L1969.1,440.1 L1969.4,438.8 L1969.7,437.6 L1969.9,436.4 L1970.2,435.1 L1970.5,433.9 L1970.7,432.6 L1971.0,431.4 L1971.3,430.1 L1971.5,428.9 L1971.8,427.6 L1972.0,426.4 L1972.3,425.1 L1972.5,423.9 L1972.7,422.6 L1973.0,421.3 L1973.2,420.1 L1973.5,418.8 L1973.7,417.5 L1973.9,416.2 L1974.2,414.9 L1974.4,413.7 L1974.6,412.4 L1974.8,411.1 L1975.0,409.8 L1975.3,408.5 L1975.5,407.2 L1975.7,405.9 L1975.9,404.6 L1976.1,403.3 L1976.3,402.0 L1976.5,400.7 L1976.7,399.4 L1976.9,398.1 L1977.1,396.7 L1977.3,395.4 L1977.4,394.1 L1977.6,392.8 L1977.8,391.4 L1978.0,390.1 L1978.2,388.7 L1978.3,387.4 L1978.5,386.1 L1978.7,384.7 L1978.8,383.4 L1979.0,382.0 L1979.1,380.7 L1979.3,379.3 L1979.5,378.0 L1979.6,376.6 L1979.8,375.3 L1979.9,373.9 L1980.1,372.6 L1980.2,371.2 L1980.4,369.9 L1980.5,368.5 L1980.7,367.2 L1980.8,365.8 L1981.0,364.5 L1981.2,363.1 L1981.3,361.8 L1981.5,360.5 L1981.6,359.1 L1981.8,357.8 L1981.9,356.4 L1982.1,355.1 L1982.2,353.7 L1982.4,352.4 L1982.5,351.0 L1982.7,349.7 L1982.8,348.3 L1983.0,347.0 L1983.1,345.7 L1983.3,344.3 L1983.5,343.0 L1983.6,341.6 L1983.8,340.3 L1983.9,338.9 L1984.1,337.6 L1984.2,336.2 L1984.4,334.9 L1984.5,333.5 L1984.7,332.2 L1984.8,330.8 L1985.0,329.5 L1985.1,328.1 L1985.3,326.8 L1985.4,325.4 L1985.6,324.1 L1985.8,322.7 L1985.9,321.4 L1986.1,320.0 L1986.2,318.7 L1986.4,317.3 L1986.5,316.0 L1986.7,314.6 L1986.8,313.3 L1987.0,311.9 L1987.1,310.6 L1987.3,309.3 L1987.4,307.9 L1987.6,306.6 L1987.7,305.2 L1987.9,303.9 L1988.0,302.6 L1988.2,301.3 L1988.4,300.0 L1988.5,298.7 L1988.7,297.4 L1988.9,296.1 L1989.1,294.8 L1989.3,293.6 L1989.5,292.4 L1989.8,291.2 L1990.0,290.1 L1990.4,289.0 L1990.8,288.2 L1991.4,288.0 L1992.2,289.8 L1992.5,291.1 L1992.8,292.5 L1993.0,293.8 L1993.2,295.1 L1993.4,296.5 L1993.6,297.8 L1993.8,299.2 L1994.0,300.5 L1994.2,301.9 L1994.3,303.2 L1994.5,304.6 L1994.6,305.9 L1994.8,307.3 L1995.0,308.6 L1995.1,310.0 L1995.3,311.3 L1995.4,312.7 L1995.6,314.0 L1995.7,315.4 L1995.9,316.7 L1996.0,318.1 L1996.1,319.5 L1996.3,320.8 L1996.4,322.1 L1996.6,323.5 L1996.7,324.8 L1996.9,326.2 L1997.1,327.5 L1997.2,328.9 L1997.4,330.2 L1997.5,331.6 L1997.7,332.9 L1997.8,334.2 L1998.0,335.6 L1998.1,336.9 L1998.3,338.3 L1998.4,339.6 L1998.6,340.9 L1998.8,342.3 L1998.9,343.6 L1999.1,344.9 L1999.3,346.3 L1999.4,347.6 L1999.6,348.9 L1999.7,350.3 L1999.9,351.6 L2000.1,352.9 L2000.2,354.3 L2000.4,355.6 L2000.6,356.9 L2000.8,358.2 L2000.9,359.6 L2001.1,360.9 L2001.3,362.2 L2001.5,363.5 L2001.6,364.8 L2001.8,366.1 L2002.0,367.4 L2002.2,368.8 L2002.4,370.1 L2002.6,371.4 L2002.7,372.7 L2002.9,374.0 L2003.1,375.3 L2003.3,376.6 L2003.5,377.9 L2003.7,379.2 L2003.9,380.5 L2004.1,381.7 L2004.3,383.0 L2004.5,384.3 L2004.7,385.6 L2004.9,386.9 L2005.2,388.2 L2005.4,389.4 L2005.6,390.7 L2005.8,392.0 L2006.1,393.2 L2006.3,394.5 L2006.5,395.7 L2006.7,397.0 L2007.0,398.3 L2007.2,399.5 L2007.5,400.7 L2007.7,402.0 L2008.0,403.2 L2008.2,404.5 L2008.5,405.7 L2008.7,406.9 L2009.0,408.1 L2009.3,409.4 L2009.6,410.6 L2009.8,411.8 L2010.1,413.0 L2010.4,414.2 L2010.7,415.4 L2011.0,416.6 L2011.3,417.8 L2011.6,419.0 L2011.9,420.2 L2012.2,421.4 L2012.5,422.6 L2012.8,423.7 L2013.1,424.9 L2013.4,426.1 L2013.8,427.2 L2014.1,428.4 L2014.4,429.5 L2014.8,430.7 L2015.1,431.9 L2015.5,433.0 L2015.8,434.1 L2016.2,435.3 L2016.5,436.4 L2016.9,437.6 L2017.2,438.7 L2017.6,439.8 L2017.9,441.0 L2018.3,442.1 L2018.7,443.2 L2019.0,444.4 L2019.4,445.5 L2019.8,446.6 L2020.2,447.7 L2020.5,448.9 L2020.9,450.0 L2021.3,451.1 L2021.7,452.2 L2022.1,453.3 L2022.4,454.4 L2022.8,455.6 L2023.2,456.7 L2023.6,457.8 L2024.0,458.9 L2024.4,460.0 L2024.8,461.1 L2025.2,462.2 L2025.6,463.3 L2026.0,464.4 L2026.4,465.4 L2026.8,466.5 L2027.2,467.6 L2027.6,468.7 L2028.0,469.8 L2028.5,470.9 L2028.9,471.9 L2029.3,473.0 L2029.7,474.1 L2030.2,475.2 L2030.6,476.2 L2031.0,477.3 L2031.5,478.3 L2031.9,479.4 L2032.3,480.5 L2032.8,481.5 L2033.2,482.6 L2033.7,483.6 L2034.1,484.7 L2034.6,485.7 L2035.0,486.7 L2035.5,487.8 L2035.9,488.8 L2036.4,489.8 L2036.9,490.9 L2037.3,491.9 L2037.8,492.9 L2038.3,493.9 L2038.8,495.0 L2039.2,496.0 L2039.7,497.0 L2040.2,498.0 L2040.7,499.0 L2041.2,500.0 L2041.7,501.0 L2042.2,502.0 L2042.7,503.0 L2043.2,504.0 L2043.7,505.0 L2044.2,506.0 L2044.7,506.9 L2045.2,507.9 L2045.8,508.9 L2046.3,509.9 L2046.8,510.8 L2047.3,511.8 L2047.9,512.8 L2048.4,513.7 L2049.0,514.7 L2049.5,515.6 L2050.1,516.6 L2050.6,517.5 L2051.2,518.5 L2051.7,519.4 L2052.3,520.3 L2052.8,521.3 L2053.4,522.2 L2054.0,523.1 L2054.6,524.0 L2055.1,524.9 L2055.7,525.9 L2056.3,526.8 L2056.9,527.7 L2057.5,528.6 L2058.1,529.5 L2058.7,530.4 L2059.3,531.3 L2059.9,532.2 L2060.5,533.0 L2061.1,533.9 L2061.7,534.8 L2062.3,535.7 L2063.0,536.6 L2063.6,537.4 L2064.2,538.3 L2064.9,539.2 L2065.5,540.0 L2066.1,540.9 L2066.8,541.7 L2067.4,542.6 L2068.1,543.4 L2068.7,544.3 L2069.4,545.1 L2070.0,545.9 L2070.7,546.8 L2071.4,547.6 L2072.0,548.4 L2072.7,549.3 L2073.4,550.1 L2074.0,550.9 L2074.7,551.7 L2075.4,552.6 L2076.1,553.4 L2076.8,554.2 L2077.4,555.0 L2078.1,555.8 L2078.8,556.6 L2079.5,557.4 L2080.0,558.0" fill="none" stroke="#f2b705" stroke-width="4.25" stroke-linejoin="round" stroke-linecap="square"/>
</g>
<line x1="1167.35" y1="720.50" x2="1236.95" y2="720.50" stroke="#000000" stroke-width="4.25" stroke-linecap="butt"/>
<text x="1260.45" y="730.30" font-family="'DejaVu Sans','Liberation Sans',sans-serif" font-size="32.60">SiO</text><text x="1316.33" y="735.50" font-family="'DejaVu Sans','Liberation Sans',sans-serif" font-size="22.82">2</text><text x="1342.04" y="730.30" font-family="'DejaVu Sans','Liberation Sans',sans-serif" font-size="32.60">amorphous</text>
<line x1="1167.35" y1="772.50" x2="1236.95" y2="772.50" stroke="#f2b705" stroke-width="4.25" stroke-linecap="butt"/>
<text x="1260.45" y="781.70" font-family="'DejaVu Sans','Liberation Sans',sans-serif" font-size="32.60">SiO</text><text x="1316.33" y="786.90" font-family="'DejaVu Sans','Liberation Sans',sans-serif" font-size="22.82">2</text><text x="1342.20" y="781.70" font-family="'DejaVu Sans','Liberation Sans',sans-serif" font-size="32.60">crystalline</text>
<g stroke="#000" stroke-opacity="0.5" stroke-width="2.6" fill="none">
<rect x="1804.6" y="185.8" width="37.0" height="219.59999999999997"/>
<line x1="1584.4" y1="24.0" x2="1841.6" y2="185.8"/>
<line x1="1584.4" y1="359.3" x2="1804.6" y2="405.4"/>
</g>
<rect x="1140.2" y="1.0" width="931.45" height="820.3" fill="none" stroke="#000" stroke-width="2.18"/>
<line x1="1140.20" y1="816.01" x2="1134.76" y2="816.01" stroke="#000" stroke-width="2.18"/><line x1="1140.20" y1="809.32" x2="1134.76" y2="809.32" stroke="#000" stroke-width="2.18"/><line x1="1140.20" y1="803.41" x2="1134.76" y2="803.41" stroke="#000" stroke-width="2.18"/><line x1="1140.20" y1="798.12" x2="1130.68" y2="798.12" stroke="#000" stroke-width="2.18"/><line x1="1140.20" y1="763.35" x2="1134.76" y2="763.35" stroke="#000" stroke-width="2.18"/><line x1="1140.20" y1="743.00" x2="1134.76" y2="743.00" stroke="#000" stroke-width="2.18"/><line x1="1140.20" y1="728.57" x2="1134.76" y2="728.57" stroke="#000" stroke-width="2.18"/><line x1="1140.20" y1="717.37" x2="1134.76" y2="717.37" stroke="#000" stroke-width="2.18"/><line x1="1140.20" y1="708.23" x2="1134.76" y2="708.23" stroke="#000" stroke-width="2.18"/><line x1="1140.20" y1="700.49" x2="1134.76" y2="700.49" stroke="#000" stroke-width="2.18"/><line x1="1140.20" y1="693.80" x2="1134.76" y2="693.80" stroke="#000" stroke-width="2.18"/><line x1="1140.20" y1="687.89" x2="1134.76" y2="687.89" stroke="#000" stroke-width="2.18"/><line x1="1140.20" y1="682.60" x2="1130.68" y2="682.60" stroke="#000" stroke-width="2.18"/><line x1="1140.20" y1="647.83" x2="1134.76" y2="647.83" stroke="#000" stroke-width="2.18"/><line x1="1140.20" y1="627.48" x2="1134.76" y2="627.48" stroke="#000" stroke-width="2.18"/><line x1="1140.20" y1="613.05" x2="1134.76" y2="613.05" stroke="#000" stroke-width="2.18"/><line x1="1140.20" y1="601.85" x2="1134.76" y2="601.85" stroke="#000" stroke-width="2.18"/><line x1="1140.20" y1="592.71" x2="1134.76" y2="592.71" stroke="#000" stroke-width="2.18"/><line x1="1140.20" y1="584.97" x2="1134.76" y2="584.97" stroke="#000" stroke-width="2.18"/><line x1="1140.20" y1="578.28" x2="1134.76" y2="578.28" stroke="#000" stroke-width="2.18"/><line x1="1140.20" y1="572.37" x2="1134.76" y2="572.37" stroke="#000" stroke-width="2.18"/><line x1="1140.20" y1="567.08" x2="1130.68" y2="567.08" stroke="#000" stroke-width="2.18"/><line x1="1140.20" y1="532.31" x2="1134.76" y2="532.31" stroke="#000" stroke-width="2.18"/><line x1="1140.20" y1="511.96" x2="1134.76" y2="511.96" stroke="#000" stroke-width="2.18"/><line x1="1140.20" y1="497.53" x2="1134.76" y2="497.53" stroke="#000" stroke-width="2.18"/><line x1="1140.20" y1="486.33" x2="1134.76" y2="486.33" stroke="#000" stroke-width="2.18"/><line x1="1140.20" y1="477.19" x2="1134.76" y2="477.19" stroke="#000" stroke-width="2.18"/><line x1="1140.20" y1="469.45" x2="1134.76" y2="469.45" stroke="#000" stroke-width="2.18"/><line x1="1140.20" y1="462.76" x2="1134.76" y2="462.76" stroke="#000" stroke-width="2.18"/><line x1="1140.20" y1="456.85" x2="1134.76" y2="456.85" stroke="#000" stroke-width="2.18"/><line x1="1140.20" y1="451.56" x2="1130.68" y2="451.56" stroke="#000" stroke-width="2.18"/><line x1="1140.20" y1="416.79" x2="1134.76" y2="416.79" stroke="#000" stroke-width="2.18"/><line x1="1140.20" y1="396.44" x2="1134.76" y2="396.44" stroke="#000" stroke-width="2.18"/><line x1="1140.20" y1="382.01" x2="1134.76" y2="382.01" stroke="#000" stroke-width="2.18"/><line x1="1140.20" y1="370.81" x2="1134.76" y2="370.81" stroke="#000" stroke-width="2.18"/><line x1="1140.20" y1="361.67" x2="1134.76" y2="361.67" stroke="#000" stroke-width="2.18"/><line x1="1140.20" y1="353.93" x2="1134.76" y2="353.93" stroke="#000" stroke-width="2.18"/><line x1="1140.20" y1="347.24" x2="1134.76" y2="347.24" stroke="#000" stroke-width="2.18"/><line x1="1140.20" y1="341.33" x2="1134.76" y2="341.33" stroke="#000" stroke-width="2.18"/><line x1="1140.20" y1="336.04" x2="1130.68" y2="336.04" stroke="#000" stroke-width="2.18"/><line x1="1140.20" y1="301.27" x2="1134.76" y2="301.27" stroke="#000" stroke-width="2.18"/><line x1="1140.20" y1="280.92" x2="1134.76" y2="280.92" stroke="#000" stroke-width="2.18"/><line x1="1140.20" y1="266.49" x2="1134.76" y2="266.49" stroke="#000" stroke-width="2.18"/><line x1="1140.20" y1="255.29" x2="1134.76" y2="255.29" stroke="#000" stroke-width="2.18"/><line x1="1140.20" y1="246.15" x2="1134.76" y2="246.15" stroke="#000" stroke-width="2.18"/><line x1="1140.20" y1="238.41" x2="1134.76" y2="238.41" stroke="#000" stroke-width="2.18"/><line x1="1140.20" y1="231.72" x2="1134.76" y2="231.72" stroke="#000" stroke-width="2.18"/><line x1="1140.20" y1="225.81" x2="1134.76" y2="225.81" stroke="#000" stroke-width="2.18"/><line x1="1140.20" y1="220.52" x2="1130.68" y2="220.52" stroke="#000" stroke-width="2.18"/><line x1="1140.20" y1="185.75" x2="1134.76" y2="185.75" stroke="#000" stroke-width="2.18"/><line x1="1140.20" y1="165.40" x2="1134.76" y2="165.40" stroke="#000" stroke-width="2.18"/><line x1="1140.20" y1="150.97" x2="1134.76" y2="150.97" stroke="#000" stroke-width="2.18"/><line x1="1140.20" y1="139.77" x2="1134.76" y2="139.77" stroke="#000" stroke-width="2.18"/><line x1="1140.20" y1="130.63" x2="1134.76" y2="130.63" stroke="#000" stroke-width="2.18"/><line x1="1140.20" y1="122.89" x2="1134.76" y2="122.89" stroke="#000" stroke-width="2.18"/><line x1="1140.20" y1="116.20" x2="1134.76" y2="116.20" stroke="#000" stroke-width="2.18"/><line x1="1140.20" y1="110.29" x2="1134.76" y2="110.29" stroke="#000" stroke-width="2.18"/><line x1="1140.20" y1="105.00" x2="1130.68" y2="105.00" stroke="#000" stroke-width="2.18"/><line x1="1140.20" y1="70.23" x2="1134.76" y2="70.23" stroke="#000" stroke-width="2.18"/><line x1="1140.20" y1="49.88" x2="1134.76" y2="49.88" stroke="#000" stroke-width="2.18"/><line x1="1140.20" y1="35.45" x2="1134.76" y2="35.45" stroke="#000" stroke-width="2.18"/><line x1="1140.20" y1="24.25" x2="1134.76" y2="24.25" stroke="#000" stroke-width="2.18"/><line x1="1140.20" y1="15.11" x2="1134.76" y2="15.11" stroke="#000" stroke-width="2.18"/><line x1="1140.20" y1="7.37" x2="1134.76" y2="7.37" stroke="#000" stroke-width="2.18"/><line x1="1140.20" y1="0.68" x2="1134.76" y2="0.68" stroke="#000" stroke-width="2.18"/><line x1="1208.05" y1="821.30" x2="1208.05" y2="830.82" stroke="#000" stroke-width="2.18"/><line x1="1289.15" y1="821.30" x2="1289.15" y2="830.82" stroke="#000" stroke-width="2.18"/><line x1="1391.33" y1="821.30" x2="1391.33" y2="830.82" stroke="#000" stroke-width="2.18"/><line x1="1529.98" y1="821.30" x2="1529.98" y2="830.82" stroke="#000" stroke-width="2.18"/><line x1="1668.62" y1="821.30" x2="1668.62" y2="830.82" stroke="#000" stroke-width="2.18"/><line x1="1780.56" y1="821.30" x2="1780.56" y2="830.82" stroke="#000" stroke-width="2.18"/><line x1="1888.37" y1="821.30" x2="1888.37" y2="830.82" stroke="#000" stroke-width="2.18"/><line x1="1990.55" y1="821.30" x2="1990.55" y2="830.82" stroke="#000" stroke-width="2.18"/><line x1="2071.65" y1="821.30" x2="2071.65" y2="830.82" stroke="#000" stroke-width="2.18"/><line x1="1150.51" y1="821.30" x2="1150.51" y2="826.74" stroke="#000" stroke-width="2.18"/><line x1="1252.68" y1="821.30" x2="1252.68" y2="826.74" stroke="#000" stroke-width="2.18"/><line x1="1319.99" y1="821.30" x2="1319.99" y2="826.74" stroke="#000" stroke-width="2.18"/><line x1="1346.70" y1="821.30" x2="1346.70" y2="826.74" stroke="#000" stroke-width="2.18"/><line x1="1370.26" y1="821.30" x2="1370.26" y2="826.74" stroke="#000" stroke-width="2.18"/><line x1="1611.08" y1="821.30" x2="1611.08" y2="826.74" stroke="#000" stroke-width="2.18"/><line x1="1713.25" y1="821.30" x2="1713.25" y2="826.74" stroke="#000" stroke-width="2.18"/><line x1="1749.72" y1="821.30" x2="1749.72" y2="826.74" stroke="#000" stroke-width="2.18"/><line x1="1807.27" y1="821.30" x2="1807.27" y2="826.74" stroke="#000" stroke-width="2.18"/><line x1="1830.83" y1="821.30" x2="1830.83" y2="826.74" stroke="#000" stroke-width="2.18"/>
<text x="1208.05" y="860.8" text-anchor="middle" font-family="'DejaVu Sans','Liberation Sans',sans-serif" font-size="27.17">0.4</text>
<text x="1289.15" y="860.8" text-anchor="middle" font-family="'DejaVu Sans','Liberation Sans',sans-serif" font-size="27.17">0.6</text>
<text x="1391.33" y="860.8" text-anchor="middle" font-family="'DejaVu Sans','Liberation Sans',sans-serif" font-size="27.17">1.0</text>
<text x="1529.98" y="860.8" text-anchor="middle" font-family="'DejaVu Sans','Liberation Sans',sans-serif" font-size="27.17">2.0</text>
<text x="1668.62" y="860.8" text-anchor="middle" font-family="'DejaVu Sans','Liberation Sans',sans-serif" font-size="27.17">4.0</text>
<text x="1780.56" y="860.8" text-anchor="middle" font-family="'DejaVu Sans','Liberation Sans',sans-serif" font-size="27.17">7.0</text>
<text x="1888.37" y="860.8" text-anchor="middle" font-family="'DejaVu Sans','Liberation Sans',sans-serif" font-size="27.17">12.0</text>
<text x="1990.55" y="860.8" text-anchor="middle" font-family="'DejaVu Sans','Liberation Sans',sans-serif" font-size="27.17">20.0</text>
<text x="2071.65" y="860.8" text-anchor="middle" font-family="'DejaVu Sans','Liberation Sans',sans-serif" font-size="27.17">30.0</text>
<text x="1442.45" y="906.5" font-family="'DejaVu Sans','Liberation Sans',sans-serif" font-size="38.04" letter-spacing="0.12">Wavelength / µm</text>
<rect x="1166.3" y="24.0" width="418.10000000000014" height="335.3" fill="#fff"/>
<line x1="1349.22" y1="359.3" x2="1349.22" y2="24.0" stroke="#808080" stroke-width="3.26" stroke-dasharray="12.07 5.2" clip-path="url(#cri)"/>
<g clip-path="url(#cri)">
<path d="M1179.20,365.00 C1179.20,365.00 1179.22,360.07 1179.30,357.60 C1179.75,343.37 1180.80,314.90 1180.80,314.90 L1180.8,314.9 L1181.3,313.9 L1181.8,312.9 L1182.3,311.9 L1182.8,310.9 L1183.2,309.9 L1183.7,308.9 L1184.2,307.9 L1184.7,306.9 L1185.2,305.9 L1185.7,304.9 L1186.2,303.9 L1186.7,302.9 L1187.2,301.9 L1187.8,300.9 L1188.3,299.9 L1188.8,298.9 L1189.3,297.9 L1189.8,296.9 L1190.3,296.0 L1190.8,295.0 L1191.4,294.0 L1191.9,293.0 L1192.4,292.1 L1192.9,291.1 L1193.5,290.1 L1194.0,289.2 L1194.5,288.2 L1195.0,287.2 L1195.6,286.3 L1196.1,285.3 L1196.7,284.3 L1197.2,283.4 L1197.7,282.4 L1198.3,281.5 L1198.8,280.5 L1199.4,279.6 L1199.9,278.6 L1200.5,277.7 L1201.1,276.8 L1201.6,275.8 L1202.2,274.9 L1202.7,273.9 L1203.3,273.0 L1203.9,272.1 L1204.4,271.2 L1205.0,270.2 L1205.6,269.3 L1206.2,268.4 L1206.7,267.5 L1207.3,266.6 L1207.9,265.6 L1208.5,264.7 L1209.1,263.8 L1209.7,262.9 L1210.3,262.0 L1210.8,261.1 L1211.4,260.2 L1212.0,259.3 L1212.6,258.4 L1213.3,257.5 L1213.9,256.6 L1214.5,255.7 L1215.1,254.9 L1215.7,254.0 L1216.3,253.1 L1216.9,252.2 L1217.6,251.3 L1218.2,250.5 L1218.8,249.6 L1219.4,248.7 L1220.1,247.9 L1220.7,247.0 L1221.4,246.2 L1222.0,245.3 L1222.6,244.5 L1223.3,243.6 L1223.9,242.8 L1224.6,241.9 L1225.2,241.1 L1225.9,240.2 L1226.6,239.4 L1227.2,238.6 L1227.9,237.7 L1228.6,236.9 L1229.2,236.1 L1229.9,235.3 L1230.6,234.5 L1231.3,233.6 L1232.0,232.8 L1232.7,232.0 L1233.4,231.2 L1234.1,230.4 L1234.8,229.6 L1235.5,228.8 L1236.2,228.0 L1236.9,227.3 L1237.6,226.5 L1238.3,225.7 L1239.0,224.9 L1239.7,224.1 L1240.5,223.4 L1241.2,222.6 L1241.9,221.8 L1242.7,221.1 L1243.4,220.3 L1244.2,219.6 L1244.9,218.8 L1245.7,218.1 L1246.4,217.3 L1247.2,216.6 L1247.9,215.9 L1248.7,215.1 L1249.5,214.4 L1250.2,213.7 L1251.0,213.0 L1251.8,212.3 L1252.6,211.5 L1253.4,210.8 L1254.2,210.1 L1255.0,209.4 L1255.8,208.7 L1256.6,208.1 L1257.4,207.4 L1258.2,206.7 L1259.0,206.0 L1259.8,205.3 L1260.7,204.7 L1261.5,204.0 L1262.3,203.3 L1263.2,202.7 L1264.0,202.0 L1264.8,201.4 L1265.7,200.7 L1266.6,200.1 L1267.4,199.4 L1268.3,198.8 L1269.1,198.2 L1270.0,197.6 L1270.9,196.9 L1271.8,196.3 L1272.7,195.7 L1273.5,195.1 L1274.4,194.5 L1275.3,193.9 L1276.2,193.3 L1277.1,192.7 L1278.0,192.1 L1279.0,191.5 L1279.9,190.9 L1280.8,190.4 L1281.7,189.8 L1282.6,189.2 L1283.6,188.6 L1284.5,188.1 L1285.4,187.5 L1286.4,186.9 L1287.3,186.4 L1288.2,185.8 L1289.2,185.3 L1290.1,184.7 L1291.1,184.2 L1292.0,183.6 L1293.0,183.1 L1293.9,182.5 L1294.9,182.0 L1295.8,181.4 L1296.8,180.9 L1297.7,180.3 L1298.7,179.8 L1299.6,179.2 L1300.6,178.7 L1301.5,178.1 L1302.5,177.6 L1303.5,177.1 L1304.4,176.5 L1305.4,176.0 L1306.3,175.4 L1307.3,174.9 L1308.2,174.3 L1309.2,173.8 L1310.1,173.2 L1311.1,172.7 L1312.0,172.1 L1313.0,171.6 L1313.9,171.0 L1314.8,170.4 L1315.8,169.9 L1316.7,169.3 L1317.7,168.7 L1318.6,168.2 L1319.5,167.6 L1320.4,167.0 L1321.4,166.4 L1322.3,165.9 L1323.2,165.3 L1324.1,164.7 L1325.0,164.1 L1325.9,163.5 L1326.8,162.9 L1327.7,162.3 L1328.6,161.7 L1329.5,161.1 L1330.4,160.4 L1331.3,159.8 L1332.1,159.2 L1333.0,158.6 L1333.9,157.9 L1334.8,157.3 L1335.6,156.6 L1336.5,156.0 L1337.3,155.3 L1338.2,154.7 L1339.0,154.0 L1339.8,153.4 L1340.7,152.7 L1341.5,152.0 L1342.3,151.3 L1343.2,150.6 L1344.0,150.0 L1344.8,149.3 L1345.6,148.6 L1346.4,147.9 L1347.2,147.2 L1348.0,146.4 L1348.8,145.7 L1349.5,145.0 L1350.3,144.3 L1351.1,143.5 L1351.9,142.8 L1352.6,142.1 L1353.4,141.3 L1354.1,140.6 L1354.9,139.8 L1355.6,139.1 L1356.4,138.3 L1357.1,137.5 L1357.9,136.8 L1358.6,136.0 L1359.3,135.2 L1360.0,134.4 L1360.7,133.6 L1361.4,132.8 L1362.2,132.0 L1362.9,131.2 L1363.6,130.4 L1364.2,129.6 L1364.9,128.8 L1365.6,128.0 L1366.3,127.1 L1367.0,126.3 L1367.6,125.5 L1368.3,124.7 L1369.0,123.8 L1369.7,123.0 L1370.3,122.2 L1371.0,121.3 L1371.7,120.5 L1372.4,119.7 L1373.0,118.9 L1373.7,118.1 L1374.4,117.3 L1375.1,116.5 L1375.8,115.7 L1376.5,114.9 L1377.2,114.1 L1377.9,113.3 L1378.7,112.6 L1379.4,111.8 L1380.1,111.1 L1380.9,110.4 L1381.7,109.7 L1382.5,109.0 L1383.3,108.4 L1384.2,107.7 L1385.1,107.2 L1386.0,106.6 L1387.0,106.1 L1388.0,105.7 L1389.1,105.4 L1390.3,105.1 L1391.6,105.0 L1393.1,105.1 L1394.3,105.4 L1395.5,105.9 L1396.5,106.5 L1397.4,107.1 L1398.2,107.9 L1399.0,108.7 L1399.7,109.5 L1400.4,110.4 L1401.0,111.3 L1401.6,112.2 L1402.2,113.1 L1402.7,114.1 L1403.3,115.1 L1403.8,116.1 L1404.3,117.1 L1404.8,118.1 L1405.3,119.1 L1405.8,120.1 L1406.3,121.2 L1406.7,122.2 L1407.2,123.3 L1407.6,124.4 L1408.1,125.4 L1408.5,126.5 L1408.9,127.6 L1409.4,128.7 L1409.8,129.8 L1410.2,130.9 L1410.6,132.0 L1411.0,133.1 L1411.4,134.2 L1411.8,135.3 L1412.2,136.4 L1412.6,137.5 L1413.0,138.6 L1413.3,139.8 L1413.7,140.9 L1414.1,142.0 L1414.5,143.1 L1414.9,144.3 L1415.2,145.4 L1415.6,146.5 L1416.0,147.7 L1416.3,148.8 L1416.7,149.9 L1417.1,151.1 L1417.4,152.2 L1417.8,153.3 L1418.2,154.5 L1418.5,155.6 L1418.9,156.7 L1419.3,157.9 L1419.6,159.0 L1420.0,160.2 L1420.4,161.3 L1420.7,162.4 L1421.1,163.6 L1421.4,164.7 L1421.8,165.8 L1422.2,167.0 L1422.5,168.1 L1422.9,169.2 L1423.3,170.4 L1423.6,171.5 L1424.0,172.6 L1424.4,173.8 L1424.7,174.9 L1425.1,176.0 L1425.5,177.2 L1425.8,178.3 L1426.2,179.4 L1426.6,180.6 L1426.9,181.7 L1427.3,182.8 L1427.7,183.9 L1428.1,185.0 L1428.5,186.2 L1428.8,187.3 L1429.2,188.4 L1429.6,189.5 L1430.0,190.6 L1430.4,191.7 L1430.8,192.8 L1431.1,193.9 L1431.5,195.0 L1431.9,196.1 L1432.3,197.2 L1432.7,198.3 L1433.1,199.4 L1433.5,200.5 L1434.0,201.6 L1434.4,202.7 L1434.8,203.8 L1435.2,204.8 L1435.6,205.9 L1436.1,207.0 L1436.5,208.0 L1436.9,209.1 L1437.4,210.1 L1437.8,211.2 L1438.3,212.2 L1438.7,213.3 L1439.2,214.3 L1439.6,215.3 L1440.1,216.3 L1440.6,217.3 L1441.1,218.3 L1441.6,219.3 L1442.1,220.3 L1442.6,221.3 L1443.1,222.2 L1443.6,223.2 L1444.2,224.1 L1444.8,225.1 L1445.3,226.0 L1445.9,226.9 L1446.5,227.8 L1447.1,228.6 L1447.7,229.5 L1448.4,230.3 L1449.0,231.2 L1449.7,232.0 L1450.4,232.8 L1451.1,233.6 L1451.8,234.3 L1452.5,235.1 L1453.2,235.9 L1454.0,236.6 L1454.8,237.3 L1455.5,238.0 L1456.3,238.8 L1457.1,239.5 L1457.9,240.2 L1458.7,240.9 L1459.5,241.6 L1460.0,242.0 L1460.0,242.0 L1460.9,242.6 L1461.7,243.3 L1462.6,243.9 L1463.4,244.6 L1464.3,245.2 L1465.2,245.8 L1466.0,246.5 L1466.9,247.1 L1467.8,247.7 L1468.6,248.3 L1469.5,248.9 L1470.4,249.6 L1471.3,250.2 L1472.2,250.8 L1473.1,251.4 L1474.0,252.0 L1474.9,252.6 L1475.7,253.2 L1476.6,253.8 L1477.5,254.4 L1478.4,255.0 L1479.4,255.6 L1480.3,256.2 L1481.2,256.8 L1482.1,257.4 L1483.0,258.0 L1483.9,258.5 L1484.8,259.1 L1485.7,259.7 L1486.7,260.3 L1487.6,260.9 L1488.5,261.4 L1489.4,262.0 L1490.4,262.6 L1491.3,263.1 L1492.2,263.7 L1493.2,264.3 L1494.1,264.8 L1495.0,265.4 L1496.0,266.0 L1496.9,266.5 L1497.9,267.1 L1498.8,267.6 L1499.8,268.2 L1500.7,268.7 L1501.6,269.3 L1502.6,269.8 L1503.5,270.4 L1504.5,270.9 L1505.5,271.5 L1506.4,272.0 L1507.4,272.6 L1508.3,273.1 L1509.3,273.6 L1510.2,274.2 L1511.2,274.7 L1512.2,275.3 L1513.1,275.8 L1514.1,276.3 L1515.0,276.9 L1516.0,277.4 L1517.0,277.9 L1517.9,278.5 L1518.9,279.0 L1519.9,279.5 L1520.8,280.1 L1521.8,280.6 L1522.8,281.1 L1523.7,281.7 L1524.7,282.2 L1525.7,282.7 L1526.6,283.3 L1527.6,283.8 L1528.6,284.3 L1529.5,284.9 L1530.5,285.4 L1531.5,285.9 L1532.4,286.5 L1533.4,287.0 L1534.4,287.5 L1535.3,288.1 L1536.3,288.6 L1537.3,289.1 L1538.2,289.7 L1539.2,290.2 L1540.2,290.7 L1541.1,291.3 L1542.1,291.8 L1543.1,292.4 L1544.0,292.9 L1545.0,293.4 L1545.9,294.0 L1546.9,294.5 L1547.8,295.1 L1548.8,295.6 L1549.8,296.2 L1550.7,296.7 L1551.7,297.3 L1552.6,297.8 L1553.6,298.4 L1554.5,298.9 L1555.5,299.5 L1556.4,300.0 L1557.3,300.6 L1558.3,301.1 L1559.2,301.7 L1560.2,302.3 L1561.1,302.8 L1562.0,303.4 L1563.0,304.0 L1563.9,304.5 L1564.8,305.1 L1565.8,305.7 L1566.7,306.3 L1567.6,306.8 L1568.5,307.4 L1569.4,308.0 L1570.4,308.6 L1571.3,309.2 L1572.2,309.8 L1573.1,310.4 L1574.0,310.9 L1574.9,311.5 L1575.8,312.1 L1576.7,312.7 L1577.6,313.3 L1578.5,313.9 L1579.4,314.5 L1580.3,315.2 L1581.2,315.8 L1582.1,316.4 L1583.0,317.0 L1583.9,317.6 L1584.7,318.2 L1585.6,318.9 L1586.5,319.5 L1587.4,320.1 L1588.2,320.7 L1589.1,321.4 L1590.0,322.0 L1590.8,322.6 L1591.7,323.3 L1592.0,323.5" fill="none" stroke="#000000" stroke-width="4.25" stroke-linejoin="round" stroke-linecap="square"/>
<path d="M1160.0,305.5 L1160.9,304.9 L1161.8,304.3 L1162.7,303.7 L1163.5,303.0 L1164.4,302.4 L1165.3,301.8 L1166.2,301.2 L1167.1,300.6 L1168.0,299.9 L1168.8,299.3 L1169.7,298.7 L1170.6,298.1 L1171.5,297.4 L1172.3,296.8 L1173.2,296.2 L1174.1,295.5 L1174.9,294.9 L1175.8,294.3 L1176.7,293.6 L1177.5,293.0 L1178.4,292.3 L1179.2,291.7 L1180.1,291.1 L1180.9,290.4 L1181.8,289.8 L1182.6,289.1 L1183.5,288.5 L1184.3,287.8 L1185.2,287.1 L1186.0,286.5 L1186.9,285.8 L1187.7,285.2 L1188.5,284.5 L1189.4,283.8 L1190.2,283.2 L1191.0,282.5 L1191.9,281.8 L1192.7,281.1 L1193.5,280.5 L1194.3,279.8 L1195.2,279.1 L1196.0,278.4 L1196.8,277.7 L1197.6,277.1 L1198.4,276.4 L1199.2,275.7 L1200.1,275.0 L1200.9,274.3 L1201.7,273.6 L1202.5,272.9 L1203.3,272.2 L1204.1,271.5 L1204.9,270.8 L1205.7,270.1 L1206.5,269.4 L1207.2,268.7 L1208.0,267.9 L1208.8,267.2 L1209.6,266.5 L1210.4,265.8 L1211.2,265.1 L1211.9,264.3 L1212.7,263.6 L1213.5,262.9 L1214.3,262.2 L1215.0,261.4 L1215.8,260.7 L1216.6,260.0 L1217.3,259.2 L1218.1,258.5 L1218.9,257.7 L1219.6,257.0 L1220.4,256.2 L1221.1,255.5 L1221.9,254.7 L1222.6,254.0 L1223.4,253.2 L1224.1,252.5 L1224.9,251.7 L1225.6,251.0 L1226.3,250.2 L1227.1,249.4 L1227.8,248.7 L1228.5,247.9 L1229.3,247.1 L1230.0,246.3 L1230.7,245.6 L1231.4,244.8 L1232.2,244.0 L1232.9,243.2 L1233.6,242.4 L1234.3,241.6 L1235.0,240.9 L1235.7,240.1 L1236.4,239.3 L1237.2,238.5 L1237.9,237.7 L1238.6,236.9 L1239.3,236.1 L1240.0,235.3 L1240.7,234.5 L1241.4,233.7 L1242.0,232.9 L1242.7,232.0 L1243.4,231.2 L1244.1,230.4 L1244.8,229.6 L1245.5,228.8 L1246.2,228.0 L1246.8,227.1 L1247.5,226.3 L1248.2,225.5 L1248.9,224.7 L1249.5,223.8 L1250.2,223.0 L1250.9,222.2 L1251.5,221.3 L1252.2,220.5 L1252.9,219.6 L1253.5,218.8 L1254.2,218.0 L1254.8,217.1 L1255.5,216.3 L1256.1,215.4 L1256.8,214.6 L1257.4,213.7 L1258.1,212.8 L1258.7,212.0 L1259.4,211.1 L1260.0,210.3 L1260.7,209.4 L1261.3,208.5 L1261.9,207.7 L1262.6,206.8 L1263.2,205.9 L1263.8,205.1 L1264.5,204.2 L1265.1,203.3 L1265.7,202.4 L1266.3,201.6 L1266.9,200.7 L1267.6,199.8 L1268.2,198.9 L1268.8,198.0 L1269.4,197.1 L1270.0,196.2 L1270.6,195.4 L1271.2,194.5 L1271.9,193.6 L1272.5,192.7 L1273.1,191.8 L1273.7,190.9 L1274.3,190.0 L1274.9,189.1 L1275.5,188.2 L1276.1,187.3 L1276.7,186.4 L1277.2,185.4 L1277.8,184.5 L1278.4,183.6 L1279.0,182.7 L1279.6,181.8 L1280.2,180.9 L1280.8,180.0 L1281.4,179.0 L1281.9,178.1 L1282.5,177.2 L1283.1,176.3 L1283.7,175.3 L1284.2,174.4 L1284.8,173.5 L1285.4,172.5 L1285.9,171.6 L1286.5,170.7 L1287.1,169.7 L1287.6,168.8 L1288.2,167.9 L1288.8,166.9 L1289.3,166.0 L1289.9,165.0 L1290.4,164.1 L1291.0,163.2 L1291.6,162.2 L1292.1,161.3 L1292.7,160.3 L1293.2,159.4 L1293.8,158.4 L1294.3,157.5 L1294.9,156.5 L1295.4,155.6 L1296.0,154.6 L1296.6,153.7 L1297.1,152.8 L1297.7,151.8 L1298.2,150.9 L1298.8,149.9 L1299.3,149.0 L1299.9,148.0 L1300.4,147.1 L1301.0,146.1 L1301.5,145.2 L1302.1,144.3 L1302.7,143.3 L1303.2,142.4 L1303.8,141.4 L1304.3,140.5 L1304.9,139.6 L1305.5,138.6 L1306.0,137.7 L1306.6,136.8 L1307.2,135.8 L1307.7,134.9 L1308.3,134.0 L1308.9,133.0 L1309.4,132.1 L1310.0,131.2 L1310.6,130.3 L1311.2,129.4 L1311.8,128.4 L1312.3,127.5 L1312.9,126.6 L1313.5,125.7 L1314.1,124.8 L1314.7,123.9 L1315.3,123.0 L1315.9,122.1 L1316.5,121.2 L1317.1,120.3 L1317.7,119.4 L1318.3,118.6 L1319.0,117.7 L1319.6,116.8 L1320.2,116.0 L1320.8,115.1 L1321.5,114.2 L1322.1,113.4 L1322.8,112.5 L1323.4,111.7 L1324.1,110.9 L1324.8,110.0 L1325.4,109.2 L1326.1,108.4 L1326.8,107.6 L1327.5,106.8 L1328.2,106.0 L1328.9,105.2 L1329.6,104.5 L1330.4,103.7 L1331.1,103.0 L1331.9,102.2 L1332.6,101.5 L1333.4,100.8 L1334.2,100.1 L1335.0,99.4 L1335.8,98.8 L1336.7,98.1 L1337.5,97.5 L1338.4,96.9 L1339.3,96.4 L1340.3,95.8 L1341.2,95.3 L1342.2,94.8 L1343.2,94.4 L1344.3,94.0 L1345.4,93.6 L1346.6,93.3 L1347.8,93.1 L1349.1,92.9 L1350.5,92.8 L1351.9,92.9 L1353.3,93.0 L1354.6,93.3 L1355.9,93.6 L1357.0,94.0 L1358.1,94.4 L1359.2,94.9 L1360.2,95.4 L1361.2,96.0 L1362.1,96.6 L1363.0,97.2 L1363.9,97.8 L1364.7,98.5 L1365.5,99.2 L1366.3,99.9 L1367.1,100.7 L1367.8,101.4 L1368.6,102.2 L1369.3,103.0 L1370.0,103.8 L1370.7,104.6 L1371.4,105.4 L1372.1,106.3 L1372.8,107.1 L1373.4,107.9 L1374.1,108.8 L1374.7,109.7 L1375.4,110.5 L1376.0,111.4 L1376.6,112.3 L1377.3,113.2 L1377.9,114.1 L1378.5,114.9 L1379.1,115.8 L1379.7,116.7 L1380.3,117.6 L1380.9,118.6 L1381.5,119.5 L1382.1,120.4 L1382.7,121.3 L1383.3,122.2 L1383.8,123.1 L1384.4,124.1 L1385.0,125.0 L1385.6,125.9 L1386.1,126.8 L1386.7,127.8 L1387.3,128.7 L1387.9,129.6 L1388.4,130.6 L1389.0,131.5 L1389.5,132.5 L1390.1,133.4 L1390.7,134.3 L1391.2,135.3 L1391.8,136.2 L1392.3,137.2 L1392.9,138.1 L1393.4,139.1 L1394.0,140.0 L1394.5,141.0 L1395.1,141.9 L1395.6,142.9 L1396.2,143.9 L1396.7,144.8 L1397.2,145.8 L1397.8,146.7 L1398.3,147.7 L1398.9,148.7 L1399.4,149.6 L1399.9,150.6 L1400.5,151.6 L1401.0,152.5 L1401.5,153.5 L1402.1,154.5 L1402.6,155.4 L1403.1,156.4 L1403.7,157.4 L1404.2,158.3 L1404.7,159.3 L1405.3,160.3 L1405.8,161.2 L1406.3,162.2 L1406.8,163.2 L1407.4,164.2 L1407.9,165.1 L1408.4,166.1 L1409.0,167.1 L1409.5,168.1 L1410.0,169.0 L1410.5,170.0 L1411.1,171.0 L1411.6,171.9 L1412.1,172.9 L1412.6,173.9 L1413.2,174.9 L1413.7,175.8 L1414.2,176.8 L1414.8,177.8 L1415.3,178.8 L1415.8,179.7 L1416.3,180.7 L1416.9,181.7 L1417.4,182.6 L1417.9,183.6 L1418.5,184.6 L1419.0,185.5 L1419.5,186.5 L1420.1,187.5 L1420.6,188.5 L1421.1,189.4 L1421.6,190.4 L1422.2,191.3 L1422.7,192.3 L1423.3,193.3 L1423.8,194.2 L1424.3,195.2 L1424.9,196.2 L1425.4,197.1 L1425.9,198.1 L1426.5,199.0 L1427.0,200.0 L1427.6,201.0 L1428.1,201.9 L1428.7,202.9 L1429.2,203.8 L1429.8,204.8 L1430.3,205.7 L1430.9,206.7 L1431.4,207.6 L1432.0,208.5 L1432.5,209.5 L1433.1,210.4 L1433.6,211.4 L1434.2,212.3 L1434.7,213.2 L1435.3,214.2 L1435.9,215.1 L1436.4,216.0 L1437.0,217.0 L1437.6,217.9 L1438.2,218.8 L1438.7,219.7 L1439.3,220.7 L1439.9,221.6 L1440.5,222.5 L1441.0,223.4 L1441.6,224.3 L1442.2,225.3 L1442.8,226.2 L1443.4,227.1 L1444.0,228.0 L1444.6,228.9 L1445.1,229.8 L1445.7,230.7 L1446.3,231.6 L1446.9,232.5 L1447.5,233.4 L1448.1,234.3 L1448.7,235.2 L1449.3,236.1 L1450.0,237.0 L1450.6,237.9 L1451.2,238.8 L1451.8,239.6 L1452.4,240.5 L1453.0,241.4 L1453.6,242.3 L1454.3,243.2 L1454.9,244.0 L1455.5,244.9 L1456.1,245.8 L1456.7,246.7 L1457.4,247.5 L1458.0,248.4 L1458.6,249.3 L1459.3,250.1 L1459.9,251.0 L1460.6,251.8 L1461.2,252.7 L1461.8,253.5 L1462.5,254.4 L1463.1,255.3 L1463.8,256.1 L1464.4,256.9 L1465.1,257.8 L1465.7,258.6 L1466.4,259.5 L1467.1,260.3 L1467.7,261.1 L1468.4,262.0 L1469.1,262.8 L1469.7,263.6 L1470.4,264.5 L1471.1,265.3 L1471.7,266.1 L1472.4,266.9 L1473.1,267.8 L1473.8,268.6 L1474.5,269.4 L1475.1,270.2 L1475.8,271.0 L1476.5,271.8 L1477.2,272.6 L1477.9,273.4 L1478.6,274.2 L1479.3,275.0 L1480.0,275.8 L1480.7,276.6 L1481.4,277.4 L1482.1,278.2 L1482.8,279.0 L1483.5,279.8 L1484.2,280.6 L1485.0,281.3 L1485.7,282.1 L1486.4,282.9 L1487.1,283.7 L1487.9,284.5 L1488.6,285.2 L1489.3,286.0 L1490.0,286.8 L1490.8,287.5 L1491.5,288.3 L1492.2,289.0 L1493.0,289.8 L1493.7,290.6 L1494.5,291.3 L1495.2,292.1 L1496.0,292.8 L1496.7,293.6 L1497.5,294.3 L1498.2,295.0 L1499.0,295.8 L1499.7,296.5 L1500.5,297.3 L1501.3,298.0 L1502.0,298.7 L1502.8,299.5 L1503.6,300.2 L1504.3,300.9 L1505.1,301.6 L1505.9,302.4 L1506.7,303.1 L1507.5,303.8 L1508.2,304.5 L1509.0,305.2 L1509.8,305.9 L1510.6,306.6 L1511.4,307.4 L1512.2,308.1 L1513.0,308.8 L1513.8,309.5 L1514.6,310.2 L1515.4,310.9 L1516.2,311.6 L1517.0,312.3 L1517.8,313.0 L1518.6,313.7 L1519.4,314.3 L1520.2,315.0 L1521.0,315.7 L1521.8,316.4 L1522.6,317.1 L1523.4,317.8 L1524.3,318.5 L1525.1,319.1 L1525.9,319.8 L1526.7,320.5 L1527.5,321.2 L1528.4,321.8 L1529.2,322.5 L1530.0,323.2 L1530.8,323.9 L1531.7,324.5 L1532.5,325.2 L1533.3,325.9 L1534.2,326.5 L1535.0,327.2 L1535.8,327.9 L1536.7,328.5 L1537.5,329.2 L1538.4,329.8 L1539.2,330.5 L1540.0,331.2 L1540.9,331.8 L1541.7,332.5 L1542.6,333.1 L1543.4,333.8 L1544.3,334.4 L1545.1,335.1 L1545.9,335.7 L1546.8,336.4 L1547.6,337.0 L1548.5,337.7 L1549.3,338.4 L1550.2,339.0 L1551.0,339.7 L1551.9,340.3 L1552.7,341.0 L1553.6,341.6 L1554.4,342.3 L1555.3,342.9 L1556.1,343.6 L1557.0,344.2 L1557.8,344.9 L1558.7,345.5 L1559.5,346.1 L1560.4,346.8 L1561.2,347.4 L1562.1,348.1 L1562.9,348.7 L1563.8,349.4 L1564.6,350.0 L1565.5,350.7 L1566.3,351.4 L1567.2,352.0 L1568.0,352.7 L1568.9,353.3 L1569.7,354.0 L1570.6,354.6 L1571.4,355.3 L1572.3,355.9 L1573.1,356.6 L1573.9,357.2 L1574.8,357.9 L1575.6,358.6 L1576.5,359.2 L1577.3,359.9 L1578.2,360.5 L1579.0,361.2 L1579.8,361.9 L1580.0,362.0" fill="none" stroke="#f2b705" stroke-width="4.25" stroke-linejoin="round" stroke-linecap="square"/>
</g>
<rect x="1166.3" y="24.0" width="418.10000000000014" height="335.3" fill="none" stroke="#000" stroke-width="2.18"/>
<line x1="1166.30" y1="345.31" x2="1160.86" y2="345.31" stroke="#000" stroke-width="2.18"/><line x1="1166.30" y1="323.30" x2="1160.86" y2="323.30" stroke="#000" stroke-width="2.18"/><line x1="1166.30" y1="306.23" x2="1160.86" y2="306.23" stroke="#000" stroke-width="2.18"/><line x1="1166.30" y1="292.28" x2="1160.86" y2="292.28" stroke="#000" stroke-width="2.18"/><line x1="1166.30" y1="280.49" x2="1160.86" y2="280.49" stroke="#000" stroke-width="2.18"/><line x1="1166.30" y1="270.27" x2="1160.86" y2="270.27" stroke="#000" stroke-width="2.18"/><line x1="1166.30" y1="261.26" x2="1160.86" y2="261.26" stroke="#000" stroke-width="2.18"/><line x1="1166.30" y1="253.20" x2="1156.78" y2="253.20" stroke="#000" stroke-width="2.18"/><line x1="1166.30" y1="200.17" x2="1160.86" y2="200.17" stroke="#000" stroke-width="2.18"/><line x1="1166.30" y1="169.16" x2="1160.86" y2="169.16" stroke="#000" stroke-width="2.18"/><line x1="1166.30" y1="147.15" x2="1160.86" y2="147.15" stroke="#000" stroke-width="2.18"/><line x1="1166.30" y1="130.08" x2="1160.86" y2="130.08" stroke="#000" stroke-width="2.18"/><line x1="1166.30" y1="116.13" x2="1160.86" y2="116.13" stroke="#000" stroke-width="2.18"/><line x1="1166.30" y1="104.34" x2="1160.86" y2="104.34" stroke="#000" stroke-width="2.18"/><line x1="1166.30" y1="94.12" x2="1160.86" y2="94.12" stroke="#000" stroke-width="2.18"/><line x1="1166.30" y1="85.11" x2="1160.86" y2="85.11" stroke="#000" stroke-width="2.18"/><line x1="1166.30" y1="77.05" x2="1156.78" y2="77.05" stroke="#000" stroke-width="2.18"/><line x1="1166.30" y1="24.02" x2="1160.86" y2="24.02" stroke="#000" stroke-width="2.18"/><line x1="1192.43" y1="359.30" x2="1192.43" y2="368.82" stroke="#000" stroke-width="2.18"/><line x1="1323.09" y1="359.30" x2="1323.09" y2="368.82" stroke="#000" stroke-width="2.18"/><line x1="1453.74" y1="359.30" x2="1453.74" y2="368.82" stroke="#000" stroke-width="2.18"/><line x1="1584.40" y1="359.30" x2="1584.40" y2="368.82" stroke="#000" stroke-width="2.18"/>
<text x="1192.43" y="398.5" text-anchor="middle" font-family="'DejaVu Sans','Liberation Sans',sans-serif" font-size="27.17">8.0</text>
<text x="1323.09" y="398.5" text-anchor="middle" font-family="'DejaVu Sans','Liberation Sans',sans-serif" font-size="27.17">8.5</text>
<text x="1453.74" y="398.5" text-anchor="middle" font-family="'DejaVu Sans','Liberation Sans',sans-serif" font-size="27.17">9.0</text>
<text x="1584.40" y="398.5" text-anchor="middle" font-family="'DejaVu Sans','Liberation Sans',sans-serif" font-size="27.17">9.5</text>
<text x="101.5" y="808.82" text-anchor="end" font-family="'DejaVu Sans','Liberation Sans',sans-serif" font-size="27.17">10</text>
<text x="101.5" y="798.27" font-family="'DejaVu Sans','Liberation Sans',sans-serif" font-size="19.02">−21</text>
<text x="101.5" y="693.30" text-anchor="end" font-family="'DejaVu Sans','Liberation Sans',sans-serif" font-size="27.17">10</text>
<text x="101.5" y="682.75" font-family="'DejaVu Sans','Liberation Sans',sans-serif" font-size="19.02">−20</text>
<text x="101.5" y="577.78" text-anchor="end" font-family="'DejaVu Sans','Liberation Sans',sans-serif" font-size="27.17">10</text>
<text x="101.5" y="567.23" font-family="'DejaVu Sans','Liberation Sans',sans-serif" font-size="19.02">−19</text>
<text x="101.5" y="462.26" text-anchor="end" font-family="'DejaVu Sans','Liberation Sans',sans-serif" font-size="27.17">10</text>
<text x="101.5" y="451.71" font-family="'DejaVu Sans','Liberation Sans',sans-serif" font-size="19.02">−18</text>
<text x="101.5" y="346.74" text-anchor="end" font-family="'DejaVu Sans','Liberation Sans',sans-serif" font-size="27.17">10</text>
<text x="101.5" y="336.19" font-family="'DejaVu Sans','Liberation Sans',sans-serif" font-size="19.02">−17</text>
<text x="101.5" y="231.22" text-anchor="end" font-family="'DejaVu Sans','Liberation Sans',sans-serif" font-size="27.17">10</text>
<text x="101.5" y="220.67" font-family="'DejaVu Sans','Liberation Sans',sans-serif" font-size="19.02">−16</text>
<text x="101.5" y="115.70" text-anchor="end" font-family="'DejaVu Sans','Liberation Sans',sans-serif" font-size="27.17">10</text>
<text x="101.5" y="105.15" font-family="'DejaVu Sans','Liberation Sans',sans-serif" font-size="19.02">−15</text>
<text transform="translate(47,684.2) rotate(-90)" font-family="'DejaVu Sans','Liberation Sans',sans-serif" font-size="38.04" letter-spacing="0.05">Effective cross-section / µm<tspan font-size="26.63" dy="-14.4">2</tspan></text>
</svg></body></html>
